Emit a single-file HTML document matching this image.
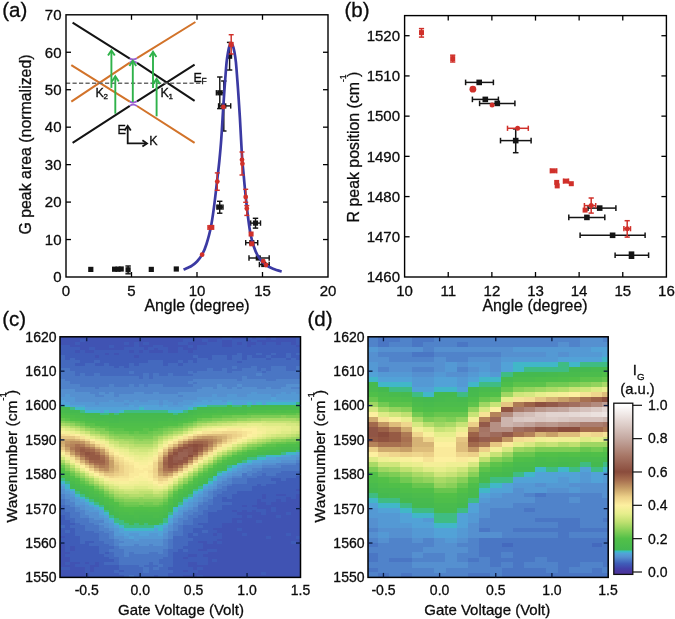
<!DOCTYPE html>
<html><head><meta charset="utf-8"><title>Figure</title>
<style>
html,body{margin:0;padding:0;background:#fff;}
svg{display:block;font-family:"Liberation Sans", Arial, Helvetica, sans-serif;fill:#0c0c0c;}
text{stroke:#0c0c0c;stroke-width:0.3px;}
</style></head><body>
<svg width="675" height="619" viewBox="0 0 675 619">
<rect width="675" height="619" fill="#fff"/>
<text x="2.2" y="16.6" font-size="20.5" text-anchor="start" >(a)</text>
<path d="M72.6 22.7 L129.8 58.6 M137 62.9 L194.6 100.8" stroke="#141414" stroke-width="2.05" fill="none"/>
<path d="M72.6 142.9 L129.8 105.8 M137 101.3 L194.6 64.6" stroke="#141414" stroke-width="2.05" fill="none"/>
<path d="M71.3 101.6 L129.8 62.6 M137 58.2 L195.4 22" stroke="#d2732a" stroke-width="2.05" fill="none"/>
<path d="M71.3 65.1 L129.8 101.6 M137 106 L194.6 142.9" stroke="#d2732a" stroke-width="2.05" fill="none"/>
<path d="M129.8 58.6 Q133.4 60.6 137 58.2 M129.8 62.6 Q133.4 60.4 137 62.9 M129.8 101.6 Q133.4 103.6 137 101.3 M129.8 105.8 Q133.4 103.4 137 106" stroke="#9b5fd0" stroke-width="1.9" fill="none"/>
<line x1="66.00" y1="83.20" x2="202.00" y2="83.20" stroke="#6a6a6a" stroke-width="1.4" stroke-dasharray="4.2 2.3"/>
<text x="193.5" y="81.5" font-size="12.5" text-anchor="start" >E</text>
<text x="201.5" y="84.0" font-size="8.5" text-anchor="start" >F</text>
<text x="95.5" y="96.5" font-size="12.5" text-anchor="start" >K</text>
<text x="103.6" y="98.5" font-size="8" text-anchor="start" >2</text>
<text x="160.5" y="96.5" font-size="12.5" text-anchor="start" >K</text>
<text x="168.6" y="98.5" font-size="8" text-anchor="start" >1</text>
<line x1="111.40" y1="87.90" x2="111.40" y2="51.40" stroke="#2fb24a" stroke-width="1.9" />
<path d="M108.0 55.6 L111.4 50.4 L114.8 55.6" stroke="#2fb24a" stroke-width="1.9" fill="none" stroke-linejoin="miter"/>
<line x1="115.30" y1="113.70" x2="115.30" y2="77.20" stroke="#2fb24a" stroke-width="1.9" />
<path d="M111.9 81.4 L115.3 76.2 L118.7 81.4" stroke="#2fb24a" stroke-width="1.9" fill="none" stroke-linejoin="miter"/>
<line x1="132.80" y1="102.00" x2="132.80" y2="61.70" stroke="#2fb24a" stroke-width="1.9" />
<path d="M129.4 65.9 L132.8 60.7 L136.2 65.9" stroke="#2fb24a" stroke-width="1.9" fill="none" stroke-linejoin="miter"/>
<line x1="153.00" y1="87.90" x2="153.00" y2="52.70" stroke="#2fb24a" stroke-width="1.9" />
<path d="M149.6 56.9 L153.0 51.7 L156.4 56.9" stroke="#2fb24a" stroke-width="1.9" fill="none" stroke-linejoin="miter"/>
<line x1="156.60" y1="116.30" x2="156.60" y2="79.80" stroke="#2fb24a" stroke-width="1.9" />
<path d="M153.2 84.0 L156.6 78.8 L160.0 84.0" stroke="#2fb24a" stroke-width="1.9" fill="none" stroke-linejoin="miter"/>
<path d="M127.7 126.5 L127.7 143.4 L146 143.4" stroke="#141414" stroke-width="1.8" fill="none"/>
<path d="M124.6 130.5 L127.7 125.8 L130.8 130.5" stroke="#141414" stroke-width="1.8" fill="none"/>
<path d="M142.4 140.3 L147 143.4 L142.4 146.5" stroke="#141414" stroke-width="1.8" fill="none"/>
<text x="117.5" y="134.0" font-size="12.5" text-anchor="start" >E</text>
<text x="149.3" y="145.3" font-size="12.5" text-anchor="start" >K</text>
<rect x="88.2" y="266.8" width="5.2" height="5.2" fill="#141414"/>
<rect x="112.0" y="266.6" width="5.2" height="5.2" fill="#141414"/>
<rect x="115.4" y="266.6" width="5.2" height="5.2" fill="#141414"/>
<rect x="118.6" y="266.4" width="5.2" height="5.2" fill="#141414"/>
<line x1="128.10" y1="266.00" x2="128.10" y2="273.80" stroke="#141414" stroke-width="1.45" />
<line x1="125.40" y1="266.00" x2="130.80" y2="266.00" stroke="#141414" stroke-width="1.45" />
<line x1="125.40" y1="273.80" x2="130.80" y2="273.80" stroke="#141414" stroke-width="1.45" />
<rect x="125.5" y="267.2" width="5.2" height="5.2" fill="#141414"/>
<rect x="148.7" y="266.8" width="5.2" height="5.2" fill="#141414"/>
<rect x="173.7" y="266.4" width="5.2" height="5.2" fill="#141414"/>
<line x1="229.60" y1="42.40" x2="229.60" y2="70.00" stroke="#141414" stroke-width="1.45" />
<line x1="226.90" y1="42.40" x2="232.30" y2="42.40" stroke="#141414" stroke-width="1.45" />
<line x1="226.90" y1="70.00" x2="232.30" y2="70.00" stroke="#141414" stroke-width="1.45" />
<rect x="227.0" y="53.6" width="5.2" height="5.2" fill="#141414"/>
<line x1="216.40" y1="92.80" x2="223.20" y2="92.80" stroke="#141414" stroke-width="1.45" />
<line x1="216.40" y1="90.10" x2="216.40" y2="95.50" stroke="#141414" stroke-width="1.45" />
<line x1="223.20" y1="90.10" x2="223.20" y2="95.50" stroke="#141414" stroke-width="1.45" />
<line x1="219.80" y1="77.00" x2="219.80" y2="108.60" stroke="#141414" stroke-width="1.45" />
<line x1="217.10" y1="77.00" x2="222.50" y2="77.00" stroke="#141414" stroke-width="1.45" />
<line x1="217.10" y1="108.60" x2="222.50" y2="108.60" stroke="#141414" stroke-width="1.45" />
<rect x="217.2" y="90.2" width="5.2" height="5.2" fill="#141414"/>
<line x1="218.60" y1="105.90" x2="230.70" y2="105.90" stroke="#141414" stroke-width="1.45" />
<line x1="218.60" y1="103.20" x2="218.60" y2="108.60" stroke="#141414" stroke-width="1.45" />
<line x1="230.70" y1="103.20" x2="230.70" y2="108.60" stroke="#141414" stroke-width="1.45" />
<line x1="223.80" y1="81.00" x2="223.80" y2="131.00" stroke="#141414" stroke-width="1.45" />
<line x1="221.10" y1="81.00" x2="226.50" y2="81.00" stroke="#141414" stroke-width="1.45" />
<line x1="221.10" y1="131.00" x2="226.50" y2="131.00" stroke="#141414" stroke-width="1.45" />
<rect x="221.2" y="103.3" width="5.2" height="5.2" fill="#141414"/>
<line x1="216.90" y1="207.10" x2="223.00" y2="207.10" stroke="#141414" stroke-width="1.45" />
<line x1="216.90" y1="204.40" x2="216.90" y2="209.80" stroke="#141414" stroke-width="1.45" />
<line x1="223.00" y1="204.40" x2="223.00" y2="209.80" stroke="#141414" stroke-width="1.45" />
<line x1="219.70" y1="201.30" x2="219.70" y2="213.20" stroke="#141414" stroke-width="1.45" />
<line x1="217.00" y1="201.30" x2="222.40" y2="201.30" stroke="#141414" stroke-width="1.45" />
<line x1="217.00" y1="213.20" x2="222.40" y2="213.20" stroke="#141414" stroke-width="1.45" />
<rect x="217.1" y="204.5" width="5.2" height="5.2" fill="#141414"/>
<line x1="250.70" y1="223.10" x2="260.50" y2="223.10" stroke="#141414" stroke-width="1.45" />
<line x1="250.70" y1="220.40" x2="250.70" y2="225.80" stroke="#141414" stroke-width="1.45" />
<line x1="260.50" y1="220.40" x2="260.50" y2="225.80" stroke="#141414" stroke-width="1.45" />
<line x1="255.50" y1="218.30" x2="255.50" y2="228.10" stroke="#141414" stroke-width="1.45" />
<line x1="252.80" y1="218.30" x2="258.20" y2="218.30" stroke="#141414" stroke-width="1.45" />
<line x1="252.80" y1="228.10" x2="258.20" y2="228.10" stroke="#141414" stroke-width="1.45" />
<rect x="252.9" y="220.5" width="5.2" height="5.2" fill="#141414"/>
<line x1="245.70" y1="242.70" x2="257.70" y2="242.70" stroke="#141414" stroke-width="1.45" />
<line x1="245.70" y1="240.00" x2="245.70" y2="245.40" stroke="#141414" stroke-width="1.45" />
<line x1="257.70" y1="240.00" x2="257.70" y2="245.40" stroke="#141414" stroke-width="1.45" />
<rect x="249.2" y="240.1" width="5.2" height="5.2" fill="#141414"/>
<line x1="249.00" y1="258.00" x2="269.20" y2="258.00" stroke="#141414" stroke-width="1.45" />
<line x1="249.00" y1="255.30" x2="249.00" y2="260.70" stroke="#141414" stroke-width="1.45" />
<line x1="269.20" y1="255.30" x2="269.20" y2="260.70" stroke="#141414" stroke-width="1.45" />
<rect x="255.7" y="255.4" width="5.2" height="5.2" fill="#141414"/>
<line x1="259.40" y1="264.50" x2="269.20" y2="264.50" stroke="#141414" stroke-width="1.45" />
<line x1="259.40" y1="261.80" x2="259.40" y2="267.20" stroke="#141414" stroke-width="1.45" />
<line x1="269.20" y1="261.80" x2="269.20" y2="267.20" stroke="#141414" stroke-width="1.45" />
<rect x="261.2" y="261.9" width="5.2" height="5.2" fill="#141414"/>
<path d="M183.5 269.6C184.2 269.3 186.6 268.5 188.0 267.8C189.4 267.1 190.5 266.7 192.0 265.6C193.5 264.6 195.3 263.3 197.0 261.5C198.7 259.7 200.5 257.6 202.1 254.7C203.7 251.8 205.1 248.6 206.5 244.0C207.9 239.4 209.6 233.6 210.8 227.4C212.1 221.2 213.0 214.4 214.0 207.0C215.0 199.6 216.0 190.4 216.9 182.7C217.8 174.9 218.7 167.6 219.4 160.5C220.1 153.4 220.7 147.1 221.2 140.0C221.7 132.9 222.2 124.7 222.6 117.9C223.0 111.1 223.4 105.5 223.8 99.3C224.2 93.1 224.6 87.0 225.1 80.8C225.6 74.6 226.1 66.9 226.6 62.2C227.1 57.6 227.4 55.5 227.9 52.9C228.4 50.3 228.8 48.0 229.3 46.5C229.9 45.0 230.6 43.6 231.2 43.6C231.8 43.6 232.5 45.0 233.1 46.5C233.7 48.0 234.1 50.3 234.6 52.9C235.1 55.5 235.4 57.6 235.9 62.2C236.4 66.9 236.9 74.6 237.4 80.8C237.9 87.0 238.3 93.1 238.7 99.3C239.1 105.5 239.5 111.1 239.9 117.9C240.3 124.7 240.7 132.9 241.1 140.0C241.5 147.1 241.9 155.2 242.3 160.5C242.7 165.8 242.9 166.5 243.4 172.0C243.9 177.5 244.6 186.1 245.4 193.6C246.2 201.1 247.1 210.1 248.0 217.0C248.9 223.9 249.7 230.1 250.7 235.1C251.7 240.1 252.9 243.7 254.0 247.0C255.1 250.3 255.9 252.4 257.2 254.7C258.4 257.0 260.0 259.2 261.5 261.0C263.0 262.8 264.1 263.9 266.0 265.2C267.9 266.5 270.4 267.8 273.0 268.8C275.6 269.9 280.2 271.1 281.7 271.5" stroke="#3b3aa3" stroke-width="2.7" fill="none" stroke-linejoin="round" stroke-linecap="butt"/>
<circle cx="202.1" cy="254.7" r="2.4" fill="#d0302a"/>
<line x1="208.00" y1="227.40" x2="213.60" y2="227.40" stroke="#d0302a" stroke-width="1.45" />
<line x1="208.00" y1="224.90" x2="208.00" y2="229.90" stroke="#d0302a" stroke-width="1.45" />
<line x1="213.60" y1="224.90" x2="213.60" y2="229.90" stroke="#d0302a" stroke-width="1.45" />
<rect x="208.3" y="224.9" width="5" height="5" fill="#d0302a"/>
<line x1="217.30" y1="172.90" x2="217.30" y2="190.30" stroke="#d0302a" stroke-width="1.45" />
<line x1="214.80" y1="172.90" x2="219.80" y2="172.90" stroke="#d0302a" stroke-width="1.45" />
<line x1="214.80" y1="190.30" x2="219.80" y2="190.30" stroke="#d0302a" stroke-width="1.45" />
<circle cx="217.3" cy="181.6" r="2.4" fill="#d0302a"/>
<circle cx="223.4" cy="107.0" r="2.4" fill="#d0302a"/>
<line x1="231.20" y1="34.70" x2="231.20" y2="54.00" stroke="#d0302a" stroke-width="1.45" />
<line x1="228.70" y1="34.70" x2="233.70" y2="34.70" stroke="#d0302a" stroke-width="1.45" />
<line x1="228.70" y1="54.00" x2="233.70" y2="54.00" stroke="#d0302a" stroke-width="1.45" />
<rect x="228.7" y="41.9" width="5" height="5" fill="#d0302a"/>
<line x1="242.00" y1="152.00" x2="242.00" y2="175.00" stroke="#d0302a" stroke-width="1.45" />
<line x1="239.50" y1="152.00" x2="244.50" y2="152.00" stroke="#d0302a" stroke-width="1.45" />
<line x1="239.50" y1="175.00" x2="244.50" y2="175.00" stroke="#d0302a" stroke-width="1.45" />
<circle cx="242.0" cy="159.8" r="2.4" fill="#d0302a"/>
<circle cx="242.4" cy="163.8" r="2.4" fill="#d0302a"/>
<line x1="245.70" y1="189.30" x2="245.70" y2="202.30" stroke="#d0302a" stroke-width="1.45" />
<line x1="243.20" y1="189.30" x2="248.20" y2="189.30" stroke="#d0302a" stroke-width="1.45" />
<line x1="243.20" y1="202.30" x2="248.20" y2="202.30" stroke="#d0302a" stroke-width="1.45" />
<circle cx="245.7" cy="196.9" r="2.4" fill="#d0302a"/>
<line x1="246.80" y1="205.60" x2="246.80" y2="215.40" stroke="#d0302a" stroke-width="1.45" />
<line x1="244.30" y1="205.60" x2="249.30" y2="205.60" stroke="#d0302a" stroke-width="1.45" />
<line x1="244.30" y1="215.40" x2="249.30" y2="215.40" stroke="#d0302a" stroke-width="1.45" />
<circle cx="246.8" cy="208.5" r="2.4" fill="#d0302a"/>
<rect x="248.6" y="231.5" width="5" height="5" fill="#d0302a"/>
<rect x="249.3" y="241.3" width="5" height="5" fill="#d0302a"/>
<circle cx="263.3" cy="261.2" r="2.4" fill="#d0302a"/>
<circle cx="266.0" cy="265.0" r="2.4" fill="#d0302a"/>
<rect x="66" y="14.8" width="262" height="262.2" fill="none" stroke="#000" stroke-width="1.4"/>
<line x1="131.50" y1="277.00" x2="131.50" y2="272.00" stroke="#000" stroke-width="1.3" />
<line x1="131.50" y1="14.80" x2="131.50" y2="19.80" stroke="#000" stroke-width="1.3" />
<line x1="197.00" y1="277.00" x2="197.00" y2="272.00" stroke="#000" stroke-width="1.3" />
<line x1="197.00" y1="14.80" x2="197.00" y2="19.80" stroke="#000" stroke-width="1.3" />
<line x1="262.50" y1="277.00" x2="262.50" y2="272.00" stroke="#000" stroke-width="1.3" />
<line x1="262.50" y1="14.80" x2="262.50" y2="19.80" stroke="#000" stroke-width="1.3" />
<line x1="66.00" y1="239.54" x2="71.00" y2="239.54" stroke="#000" stroke-width="1.3" />
<line x1="328.00" y1="239.54" x2="323.00" y2="239.54" stroke="#000" stroke-width="1.3" />
<line x1="66.00" y1="202.09" x2="71.00" y2="202.09" stroke="#000" stroke-width="1.3" />
<line x1="328.00" y1="202.09" x2="323.00" y2="202.09" stroke="#000" stroke-width="1.3" />
<line x1="66.00" y1="164.63" x2="71.00" y2="164.63" stroke="#000" stroke-width="1.3" />
<line x1="328.00" y1="164.63" x2="323.00" y2="164.63" stroke="#000" stroke-width="1.3" />
<line x1="66.00" y1="127.17" x2="71.00" y2="127.17" stroke="#000" stroke-width="1.3" />
<line x1="328.00" y1="127.17" x2="323.00" y2="127.17" stroke="#000" stroke-width="1.3" />
<line x1="66.00" y1="89.71" x2="71.00" y2="89.71" stroke="#000" stroke-width="1.3" />
<line x1="328.00" y1="89.71" x2="323.00" y2="89.71" stroke="#000" stroke-width="1.3" />
<line x1="66.00" y1="52.26" x2="71.00" y2="52.26" stroke="#000" stroke-width="1.3" />
<line x1="328.00" y1="52.26" x2="323.00" y2="52.26" stroke="#000" stroke-width="1.3" />
<text x="66.0" y="296.0" font-size="15" text-anchor="middle" >0</text>
<text x="131.5" y="296.0" font-size="15" text-anchor="middle" >5</text>
<text x="197.0" y="296.0" font-size="15" text-anchor="middle" >10</text>
<text x="262.5" y="296.0" font-size="15" text-anchor="middle" >15</text>
<text x="328.0" y="296.0" font-size="15" text-anchor="middle" >20</text>
<text x="61.5" y="282.2" font-size="15" text-anchor="end" >0</text>
<text x="61.5" y="244.7" font-size="15" text-anchor="end" >10</text>
<text x="61.5" y="207.3" font-size="15" text-anchor="end" >20</text>
<text x="61.5" y="169.8" font-size="15" text-anchor="end" >30</text>
<text x="61.5" y="132.4" font-size="15" text-anchor="end" >40</text>
<text x="61.5" y="94.9" font-size="15" text-anchor="end" >50</text>
<text x="61.5" y="57.5" font-size="15" text-anchor="end" >60</text>
<text x="61.5" y="20.0" font-size="15" text-anchor="end" >70</text>
<text x="197.0" y="311.2" font-size="15.9" text-anchor="middle" >Angle (degree)</text>
<text transform="translate(31.3,144.5) rotate(-90)" font-size="15.9" text-anchor="middle">G peak area (normalized)</text>
<text x="344.5" y="16.6" font-size="20.5" text-anchor="start" >(b)</text>
<line x1="465.60" y1="82.40" x2="493.40" y2="82.40" stroke="#141414" stroke-width="1.5" />
<line x1="465.60" y1="79.60" x2="465.60" y2="85.20" stroke="#141414" stroke-width="1.5" />
<line x1="493.40" y1="79.60" x2="493.40" y2="85.20" stroke="#141414" stroke-width="1.5" />
<rect x="476.4" y="79.6" width="5.6" height="5.6" fill="#141414"/>
<line x1="472.40" y1="99.40" x2="498.40" y2="99.40" stroke="#141414" stroke-width="1.5" />
<line x1="472.40" y1="96.60" x2="472.40" y2="102.20" stroke="#141414" stroke-width="1.5" />
<line x1="498.40" y1="96.60" x2="498.40" y2="102.20" stroke="#141414" stroke-width="1.5" />
<rect x="482.5" y="96.6" width="5.6" height="5.6" fill="#141414"/>
<line x1="479.60" y1="103.40" x2="514.90" y2="103.40" stroke="#141414" stroke-width="1.5" />
<line x1="479.60" y1="100.60" x2="479.60" y2="106.20" stroke="#141414" stroke-width="1.5" />
<line x1="514.90" y1="100.60" x2="514.90" y2="106.20" stroke="#141414" stroke-width="1.5" />
<rect x="494.5" y="100.6" width="5.6" height="5.6" fill="#141414"/>
<line x1="500.50" y1="140.60" x2="531.10" y2="140.60" stroke="#141414" stroke-width="1.5" />
<line x1="500.50" y1="137.80" x2="500.50" y2="143.40" stroke="#141414" stroke-width="1.5" />
<line x1="531.10" y1="137.80" x2="531.10" y2="143.40" stroke="#141414" stroke-width="1.5" />
<line x1="515.70" y1="128.90" x2="515.70" y2="152.70" stroke="#141414" stroke-width="1.5" />
<line x1="512.90" y1="128.90" x2="518.50" y2="128.90" stroke="#141414" stroke-width="1.5" />
<line x1="512.90" y1="152.70" x2="518.50" y2="152.70" stroke="#141414" stroke-width="1.5" />
<rect x="512.9" y="137.8" width="5.6" height="5.6" fill="#141414"/>
<line x1="588.00" y1="208.10" x2="615.90" y2="208.10" stroke="#141414" stroke-width="1.5" />
<line x1="588.00" y1="205.30" x2="588.00" y2="210.90" stroke="#141414" stroke-width="1.5" />
<line x1="615.90" y1="205.30" x2="615.90" y2="210.90" stroke="#141414" stroke-width="1.5" />
<rect x="596.9" y="205.3" width="5.6" height="5.6" fill="#141414"/>
<line x1="568.80" y1="217.40" x2="604.80" y2="217.40" stroke="#141414" stroke-width="1.5" />
<line x1="568.80" y1="214.60" x2="568.80" y2="220.20" stroke="#141414" stroke-width="1.5" />
<line x1="604.80" y1="214.60" x2="604.80" y2="220.20" stroke="#141414" stroke-width="1.5" />
<rect x="584.1" y="214.6" width="5.6" height="5.6" fill="#141414"/>
<line x1="580.10" y1="235.30" x2="645.10" y2="235.30" stroke="#141414" stroke-width="1.5" />
<line x1="580.10" y1="232.50" x2="580.10" y2="238.10" stroke="#141414" stroke-width="1.5" />
<line x1="645.10" y1="232.50" x2="645.10" y2="238.10" stroke="#141414" stroke-width="1.5" />
<rect x="609.8" y="232.5" width="5.6" height="5.6" fill="#141414"/>
<line x1="615.10" y1="255.20" x2="648.60" y2="255.20" stroke="#141414" stroke-width="1.5" />
<line x1="615.10" y1="252.40" x2="615.10" y2="258.00" stroke="#141414" stroke-width="1.5" />
<line x1="648.60" y1="252.40" x2="648.60" y2="258.00" stroke="#141414" stroke-width="1.5" />
<rect x="628.7" y="251.4" width="5.6" height="7.6" fill="#141414"/>
<line x1="421.50" y1="28.60" x2="421.50" y2="37.10" stroke="#d0302a" stroke-width="1.5" />
<line x1="418.90" y1="28.60" x2="424.10" y2="28.60" stroke="#d0302a" stroke-width="1.5" />
<line x1="418.90" y1="37.10" x2="424.10" y2="37.10" stroke="#d0302a" stroke-width="1.5" />
<rect x="419.0" y="30.1" width="5" height="5" fill="#d0302a"/>
<line x1="452.70" y1="55.20" x2="452.70" y2="62.00" stroke="#d0302a" stroke-width="1.5" />
<line x1="450.10" y1="55.20" x2="455.30" y2="55.20" stroke="#d0302a" stroke-width="1.5" />
<line x1="450.10" y1="62.00" x2="455.30" y2="62.00" stroke="#d0302a" stroke-width="1.5" />
<rect x="450.2" y="56.1" width="5" height="5" fill="#d0302a"/>
<circle cx="472.9" cy="89.2" r="3.4" fill="#d0302a"/>
<circle cx="492.1" cy="105.0" r="2.5" fill="#d0302a"/>
<line x1="507.50" y1="128.30" x2="528.30" y2="128.30" stroke="#d0302a" stroke-width="1.5" />
<line x1="507.50" y1="125.70" x2="507.50" y2="130.90" stroke="#d0302a" stroke-width="1.5" />
<line x1="528.30" y1="125.70" x2="528.30" y2="130.90" stroke="#d0302a" stroke-width="1.5" />
<circle cx="517.6" cy="128.3" r="2.5" fill="#d0302a"/>
<line x1="550.40" y1="170.80" x2="556.70" y2="170.80" stroke="#d0302a" stroke-width="1.5" />
<line x1="550.40" y1="168.20" x2="550.40" y2="173.40" stroke="#d0302a" stroke-width="1.5" />
<line x1="556.70" y1="168.20" x2="556.70" y2="173.40" stroke="#d0302a" stroke-width="1.5" />
<rect x="550.9" y="168.3" width="5" height="5" fill="#d0302a"/>
<rect x="554.2" y="179.9" width="5" height="5" fill="#d0302a"/>
<rect x="554.7" y="183.4" width="5" height="5" fill="#d0302a"/>
<line x1="563.50" y1="181.10" x2="568.50" y2="181.10" stroke="#d0302a" stroke-width="1.5" />
<line x1="563.50" y1="178.50" x2="563.50" y2="183.70" stroke="#d0302a" stroke-width="1.5" />
<line x1="568.50" y1="178.50" x2="568.50" y2="183.70" stroke="#d0302a" stroke-width="1.5" />
<rect x="563.5" y="178.6" width="5" height="5" fill="#d0302a"/>
<rect x="568.8" y="181.2" width="5" height="5" fill="#d0302a"/>
<rect x="582.6" y="207.6" width="5" height="5" fill="#d0302a"/>
<line x1="584.40" y1="205.60" x2="595.70" y2="205.60" stroke="#d0302a" stroke-width="1.5" />
<line x1="584.40" y1="203.00" x2="584.40" y2="208.20" stroke="#d0302a" stroke-width="1.5" />
<line x1="595.70" y1="203.00" x2="595.70" y2="208.20" stroke="#d0302a" stroke-width="1.5" />
<line x1="591.20" y1="198.00" x2="591.20" y2="213.10" stroke="#d0302a" stroke-width="1.5" />
<line x1="588.60" y1="198.00" x2="593.80" y2="198.00" stroke="#d0302a" stroke-width="1.5" />
<line x1="588.60" y1="213.10" x2="593.80" y2="213.10" stroke="#d0302a" stroke-width="1.5" />
<circle cx="591.2" cy="205.6" r="2.5" fill="#d0302a"/>
<line x1="623.90" y1="228.70" x2="630.50" y2="228.70" stroke="#d0302a" stroke-width="1.5" />
<line x1="623.90" y1="226.10" x2="623.90" y2="231.30" stroke="#d0302a" stroke-width="1.5" />
<line x1="630.50" y1="226.10" x2="630.50" y2="231.30" stroke="#d0302a" stroke-width="1.5" />
<line x1="627.20" y1="220.70" x2="627.20" y2="237.10" stroke="#d0302a" stroke-width="1.5" />
<line x1="624.60" y1="220.70" x2="629.80" y2="220.70" stroke="#d0302a" stroke-width="1.5" />
<line x1="624.60" y1="237.10" x2="629.80" y2="237.10" stroke="#d0302a" stroke-width="1.5" />
<circle cx="627.2" cy="228.7" r="2.5" fill="#d0302a"/>
<rect x="404.6" y="15.6" width="261.79999999999995" height="261.4" fill="none" stroke="#000" stroke-width="1.4"/>
<line x1="448.23" y1="277.00" x2="448.23" y2="272.00" stroke="#000" stroke-width="1.3" />
<line x1="448.23" y1="15.60" x2="448.23" y2="20.60" stroke="#000" stroke-width="1.3" />
<line x1="491.87" y1="277.00" x2="491.87" y2="272.00" stroke="#000" stroke-width="1.3" />
<line x1="491.87" y1="15.60" x2="491.87" y2="20.60" stroke="#000" stroke-width="1.3" />
<line x1="535.50" y1="277.00" x2="535.50" y2="272.00" stroke="#000" stroke-width="1.3" />
<line x1="535.50" y1="15.60" x2="535.50" y2="20.60" stroke="#000" stroke-width="1.3" />
<line x1="579.13" y1="277.00" x2="579.13" y2="272.00" stroke="#000" stroke-width="1.3" />
<line x1="579.13" y1="15.60" x2="579.13" y2="20.60" stroke="#000" stroke-width="1.3" />
<line x1="622.77" y1="277.00" x2="622.77" y2="272.00" stroke="#000" stroke-width="1.3" />
<line x1="622.77" y1="15.60" x2="622.77" y2="20.60" stroke="#000" stroke-width="1.3" />
<line x1="404.60" y1="236.78" x2="409.60" y2="236.78" stroke="#000" stroke-width="1.3" />
<line x1="666.40" y1="236.78" x2="661.40" y2="236.78" stroke="#000" stroke-width="1.3" />
<line x1="404.60" y1="196.57" x2="409.60" y2="196.57" stroke="#000" stroke-width="1.3" />
<line x1="666.40" y1="196.57" x2="661.40" y2="196.57" stroke="#000" stroke-width="1.3" />
<line x1="404.60" y1="156.35" x2="409.60" y2="156.35" stroke="#000" stroke-width="1.3" />
<line x1="666.40" y1="156.35" x2="661.40" y2="156.35" stroke="#000" stroke-width="1.3" />
<line x1="404.60" y1="116.14" x2="409.60" y2="116.14" stroke="#000" stroke-width="1.3" />
<line x1="666.40" y1="116.14" x2="661.40" y2="116.14" stroke="#000" stroke-width="1.3" />
<line x1="404.60" y1="75.92" x2="409.60" y2="75.92" stroke="#000" stroke-width="1.3" />
<line x1="666.40" y1="75.92" x2="661.40" y2="75.92" stroke="#000" stroke-width="1.3" />
<line x1="404.60" y1="35.71" x2="409.60" y2="35.71" stroke="#000" stroke-width="1.3" />
<line x1="666.40" y1="35.71" x2="661.40" y2="35.71" stroke="#000" stroke-width="1.3" />
<text x="404.6" y="296.0" font-size="15" text-anchor="middle" >10</text>
<text x="448.2" y="296.0" font-size="15" text-anchor="middle" >11</text>
<text x="491.9" y="296.0" font-size="15" text-anchor="middle" >12</text>
<text x="535.5" y="296.0" font-size="15" text-anchor="middle" >13</text>
<text x="579.1" y="296.0" font-size="15" text-anchor="middle" >14</text>
<text x="622.8" y="296.0" font-size="15" text-anchor="middle" >15</text>
<text x="666.4" y="296.0" font-size="15" text-anchor="middle" >16</text>
<text x="400.0" y="282.2" font-size="15" text-anchor="end" >1460</text>
<text x="400.0" y="242.0" font-size="15" text-anchor="end" >1470</text>
<text x="400.0" y="201.8" font-size="15" text-anchor="end" >1480</text>
<text x="400.0" y="161.6" font-size="15" text-anchor="end" >1490</text>
<text x="400.0" y="121.3" font-size="15" text-anchor="end" >1500</text>
<text x="400.0" y="81.1" font-size="15" text-anchor="end" >1510</text>
<text x="400.0" y="40.9" font-size="15" text-anchor="end" >1520</text>
<text x="535.0" y="311.2" font-size="15.9" text-anchor="middle" >Angle (degree)</text>
<text transform="translate(359,147) rotate(-90)" font-size="15.9" text-anchor="middle">R peak position (cm<tspan dy="-13.5" font-size="8.5">-1</tspan><tspan dy="13.5" dx="-2.5">)</tspan></text>
<g shape-rendering="crispEdges">
<path fill="#4053b3" d="M60.0 336.8H65.2V344.9H60.0zM60.0 535.6H65.2V538.5H60.0zM60.0 543.4H65.2V567.2H60.0zM60.0 569.6H65.2V577.7H60.0zM64.9 336.8H70.1V344.9H64.9zM64.9 551.2H70.1V554.2H64.9zM64.9 556.5H70.1V562.0H64.9zM64.9 564.3H70.1V567.2H64.9zM64.9 569.6H70.1V577.7H64.9zM69.8 336.8H75.0V347.6H69.8zM69.8 546.0H75.0V551.5H69.8zM69.8 561.7H75.0V577.7H69.8zM74.7 336.8H79.9V342.3H74.7zM74.7 344.6H79.9V347.6H74.7zM74.7 349.9H79.9V352.8H74.7zM74.7 561.7H79.9V564.6H74.7zM74.7 566.9H79.9V577.7H74.7zM79.6 336.8H84.8V339.7H79.6zM79.6 342.0H84.8V350.2H79.6zM79.6 566.9H84.8V577.7H79.6zM84.5 336.8H89.7V352.8H84.5zM84.5 561.7H89.7V564.6H84.5zM84.5 572.2H89.7V577.7H84.5zM89.4 336.8H94.7V347.6H89.4zM89.4 349.9H94.7V352.8H89.4zM89.4 564.3H94.7V572.5H89.4zM94.4 336.8H99.6V350.2H94.4zM94.4 355.1H99.6V358.0H94.4zM94.4 561.7H99.6V567.2H94.4zM99.3 336.8H104.5V350.2H99.3zM104.2 336.8H109.4V350.2H104.2zM104.2 352.5H109.4V355.4H104.2zM109.1 336.8H114.3V344.9H109.1zM109.1 347.3H114.3V350.2H109.1zM114.0 336.8H119.2V350.2H114.0zM114.0 352.5H119.2V355.4H114.0zM118.9 336.8H124.1V350.2H118.9zM123.8 336.8H129.0V342.3H123.8zM123.8 344.6H129.0V347.6H123.8zM128.7 336.8H133.9V347.6H128.7zM128.7 349.9H133.9V352.8H128.7zM133.6 336.8H138.8V342.3H133.6zM133.6 355.1H138.8V358.0H133.6zM138.5 336.8H143.7V347.6H138.5zM138.5 349.9H143.7V352.8H138.5zM143.4 336.8H148.6V342.3H143.4zM143.4 344.6H148.6V350.2H143.4zM148.3 336.8H153.6V347.6H148.3zM148.3 349.9H153.6V352.8H148.3zM153.3 336.8H158.5V344.9H153.3zM153.3 347.3H158.5V352.8H153.3zM158.2 336.8H163.4V344.9H158.2zM158.2 349.9H163.4V352.8H158.2zM163.1 336.8H168.3V347.6H163.1zM168.0 336.8H173.2V352.8H168.0zM172.9 336.8H178.1V352.8H172.9zM177.8 336.8H183.0V342.3H177.8zM177.8 344.6H183.0V347.6H177.8zM182.7 336.8H187.9V339.7H182.7zM182.7 344.6H187.9V350.2H182.7zM182.7 556.5H187.9V559.4H182.7zM182.7 569.6H187.9V572.5H182.7zM182.7 574.8H187.9V577.7H182.7zM187.6 336.8H192.8V339.7H187.6zM187.6 342.0H192.8V344.9H187.6zM187.6 347.3H192.8V352.8H187.6zM187.6 553.9H192.8V556.8H187.6zM187.6 561.7H192.8V567.2H187.6zM187.6 574.8H192.8V577.7H187.6zM192.5 336.8H197.7V350.2H192.5zM192.5 553.9H197.7V556.8H192.5zM192.5 561.7H197.7V569.9H192.5zM192.5 572.2H197.7V577.7H192.5zM197.4 336.8H202.6V344.9H197.4zM197.4 540.8H202.6V543.7H197.4zM197.4 548.6H202.6V551.5H197.4zM197.4 564.3H202.6V567.2H197.4zM197.4 569.6H202.6V575.1H197.4zM202.3 336.8H207.5V339.7H202.3zM202.3 342.0H207.5V344.9H202.3zM202.3 540.8H207.5V551.5H202.3zM202.3 553.9H207.5V556.8H202.3zM202.3 564.3H207.5V577.7H202.3zM207.2 336.8H212.5V342.3H207.2zM207.2 543.4H212.5V548.9H207.2zM207.2 551.2H212.5V577.7H207.2zM212.2 336.8H217.4V342.3H212.2zM212.2 527.7H217.4V530.6H212.2zM212.2 532.9H217.4V535.9H212.2zM212.2 540.8H217.4V548.9H212.2zM212.2 551.2H217.4V559.4H212.2zM212.2 561.7H217.4V577.7H212.2zM217.1 336.8H222.3V339.7H217.1zM217.1 527.7H222.3V533.2H217.1zM217.1 538.2H222.3V541.1H217.1zM217.1 543.4H222.3V577.7H217.1zM222.0 339.4H227.2V347.6H222.0zM222.0 522.5H227.2V577.7H222.0zM226.9 339.4H232.1V347.6H226.9zM226.9 522.5H232.1V577.7H226.9zM231.8 336.8H237.0V339.7H231.8zM231.8 509.4H237.0V512.3H231.8zM231.8 517.2H237.0V577.7H231.8zM236.7 336.8H241.9V339.7H236.7zM236.7 342.0H241.9V344.9H236.7zM236.7 512.0H241.9V514.9H236.7zM236.7 517.2H241.9V520.2H236.7zM236.7 522.5H241.9V528.0H236.7zM236.7 530.3H241.9V577.7H236.7zM241.6 336.8H246.8V339.7H241.6zM241.6 504.2H246.8V507.1H241.6zM241.6 509.4H246.8V533.2H241.6zM241.6 535.6H246.8V577.7H241.6zM246.5 339.4H251.7V347.6H246.5zM246.5 512.0H251.7V514.9H246.5zM246.5 517.2H251.7V577.7H246.5zM251.4 336.8H256.6V339.7H251.4zM251.4 342.0H256.6V344.9H251.4zM251.4 504.2H256.6V507.1H251.4zM251.4 509.4H256.6V577.7H251.4zM256.3 339.4H261.5V342.3H256.3zM256.3 498.9H261.5V509.7H256.3zM256.3 512.0H261.5V520.2H256.3zM256.3 522.5H261.5V577.7H256.3zM261.2 339.4H266.4V344.9H261.2zM261.2 493.7H266.4V499.2H261.2zM261.2 501.6H266.4V509.7H261.2zM261.2 514.6H266.4V572.5H261.2zM261.2 574.8H266.4V577.7H261.2zM266.1 336.8H271.4V342.3H266.1zM266.1 504.2H271.4V535.9H266.1zM266.1 538.2H271.4V577.7H266.1zM271.1 339.4H276.3V342.3H271.1zM271.1 501.6H276.3V507.1H271.1zM271.1 512.0H276.3V577.7H271.1zM276.0 336.8H281.2V344.9H276.0zM276.0 493.7H281.2V496.6H276.0zM276.0 498.9H281.2V514.9H276.0zM276.0 517.2H281.2V577.7H276.0zM280.9 336.8H286.1V342.3H280.9zM280.9 493.7H286.1V496.6H280.9zM280.9 501.6H286.1V577.7H280.9zM285.8 336.8H291.0V342.3H285.8zM285.8 496.3H291.0V512.3H285.8zM285.8 514.6H291.0V533.2H285.8zM285.8 535.6H291.0V577.7H285.8zM290.7 336.8H295.9V344.9H290.7zM290.7 498.9H295.9V541.1H290.7zM290.7 543.4H295.9V577.7H290.7zM295.6 344.6H300.8V347.6H295.6zM295.6 488.5H300.8V491.4H295.6zM295.6 493.7H300.8V535.9H295.6zM295.6 538.2H300.8V577.7H295.6z"/>
<path fill="#3f5cb8" d="M60.0 344.6H65.2V355.4H60.0zM60.0 514.6H65.2V525.4H60.0zM60.0 527.7H65.2V535.9H60.0zM60.0 538.2H65.2V543.7H60.0zM60.0 566.9H65.2V569.9H60.0zM64.9 344.6H70.1V360.6H64.9zM64.9 519.9H70.1V530.6H64.9zM64.9 532.9H70.1V551.5H64.9zM64.9 553.9H70.1V556.8H64.9zM64.9 561.7H70.1V564.6H64.9zM64.9 566.9H70.1V569.9H64.9zM69.8 347.3H75.0V358.0H69.8zM69.8 522.5H75.0V525.4H69.8zM69.8 527.7H75.0V546.3H69.8zM69.8 551.2H75.0V562.0H69.8zM74.7 342.0H79.9V344.9H74.7zM74.7 347.3H79.9V350.2H74.7zM74.7 352.5H79.9V360.6H74.7zM74.7 363.0H79.9V365.9H74.7zM74.7 535.6H79.9V562.0H74.7zM74.7 564.3H79.9V567.2H74.7zM79.6 339.4H84.8V342.3H79.6zM79.6 349.9H84.8V365.9H79.6zM79.6 543.4H84.8V567.2H79.6zM84.5 352.5H89.7V363.3H84.5zM84.5 540.8H89.7V562.0H84.5zM84.5 564.3H89.7V572.5H84.5zM89.4 347.3H94.7V350.2H89.4zM89.4 352.5H94.7V363.3H89.4zM89.4 540.8H94.7V543.7H89.4zM89.4 546.0H94.7V564.6H89.4zM89.4 572.2H94.7V577.7H89.4zM94.4 349.9H99.6V355.4H94.4zM94.4 357.7H99.6V360.6H94.4zM94.4 363.0H99.6V365.9H94.4zM94.4 546.0H99.6V562.0H94.4zM94.4 566.9H99.6V577.7H94.4zM99.3 349.9H104.5V365.9H99.3zM99.3 553.9H104.5V577.7H99.3zM104.2 349.9H109.4V352.8H104.2zM104.2 355.1H109.4V363.3H104.2zM104.2 551.2H109.4V554.2H104.2zM104.2 556.5H109.4V562.0H104.2zM104.2 564.3H109.4V577.7H104.2zM109.1 344.6H114.3V347.6H109.1zM109.1 349.9H114.3V365.9H109.1zM109.1 559.1H114.3V562.0H109.1zM109.1 564.3H114.3V577.7H109.1zM114.0 349.9H119.2V352.8H114.0zM114.0 355.1H119.2V368.5H114.0zM114.0 564.3H119.2V569.9H114.0zM114.0 572.2H119.2V577.7H114.0zM118.9 349.9H124.1V365.9H118.9zM118.9 569.6H124.1V572.5H118.9zM118.9 574.8H124.1V577.7H118.9zM123.8 342.0H129.0V344.9H123.8zM123.8 347.3H129.0V368.5H123.8zM128.7 347.3H133.9V350.2H128.7zM128.7 352.5H133.9V363.3H128.7zM133.6 342.0H138.8V355.4H133.6zM133.6 357.7H138.8V365.9H133.6zM138.5 347.3H143.7V350.2H138.5zM138.5 352.5H143.7V363.3H138.5zM143.4 342.0H148.6V344.9H143.4zM143.4 349.9H148.6V363.3H143.4zM148.3 347.3H153.6V350.2H148.3zM148.3 352.5H153.6V360.6H148.3zM153.3 344.6H158.5V347.6H153.3zM153.3 352.5H158.5V360.6H153.3zM153.3 574.8H158.5V577.7H153.3zM158.2 344.6H163.4V350.2H158.2zM158.2 352.5H163.4V360.6H158.2zM163.1 347.3H168.3V365.9H163.1zM168.0 352.5H173.2V363.3H168.0zM168.0 566.9H173.2V569.9H168.0zM168.0 572.2H173.2V577.7H168.0zM172.9 352.5H178.1V363.3H172.9zM172.9 551.2H178.1V577.7H172.9zM177.8 342.0H183.0V344.9H177.8zM177.8 347.3H183.0V360.6H177.8zM177.8 363.0H183.0V365.9H177.8zM177.8 548.6H183.0V577.7H177.8zM182.7 339.4H187.9V344.9H182.7zM182.7 349.9H187.9V363.3H182.7zM182.7 546.0H187.9V548.9H182.7zM182.7 551.2H187.9V556.8H182.7zM182.7 559.1H187.9V569.9H182.7zM182.7 572.2H187.9V575.1H182.7zM187.6 339.4H192.8V342.3H187.6zM187.6 344.6H192.8V347.6H187.6zM187.6 352.5H192.8V360.6H187.6zM187.6 532.9H192.8V538.5H187.6zM187.6 540.8H192.8V554.2H187.6zM187.6 556.5H192.8V562.0H187.6zM187.6 566.9H192.8V575.1H187.6zM192.5 349.9H197.7V355.4H192.5zM192.5 357.7H197.7V363.3H192.5zM192.5 527.7H197.7V533.2H192.5zM192.5 535.6H197.7V554.2H192.5zM192.5 556.5H197.7V562.0H192.5zM192.5 569.6H197.7V572.5H192.5zM197.4 344.6H202.6V358.0H197.4zM197.4 522.5H202.6V525.4H197.4zM197.4 527.7H202.6V541.1H197.4zM197.4 543.4H202.6V548.9H197.4zM197.4 551.2H202.6V564.6H197.4zM197.4 566.9H202.6V569.9H197.4zM197.4 574.8H202.6V577.7H197.4zM202.3 339.4H207.5V342.3H202.3zM202.3 344.6H207.5V358.0H202.3zM202.3 522.5H207.5V530.6H202.3zM202.3 532.9H207.5V541.1H202.3zM202.3 551.2H207.5V554.2H202.3zM202.3 556.5H207.5V564.6H202.3zM207.2 342.0H212.5V360.6H207.2zM207.2 512.0H212.5V543.7H207.2zM207.2 548.6H212.5V551.5H207.2zM212.2 342.0H217.4V355.4H212.2zM212.2 512.0H217.4V528.0H212.2zM212.2 530.3H217.4V533.2H212.2zM212.2 535.6H217.4V541.1H212.2zM212.2 548.6H217.4V551.5H212.2zM212.2 559.1H217.4V562.0H212.2zM217.1 339.4H222.3V355.4H217.1zM217.1 509.4H222.3V528.0H217.1zM217.1 532.9H222.3V538.5H217.1zM217.1 540.8H222.3V543.7H217.1zM222.0 336.8H227.2V339.7H222.0zM222.0 347.3H227.2V355.4H222.0zM222.0 496.3H227.2V501.9H222.0zM222.0 504.2H227.2V522.8H222.0zM226.9 336.8H232.1V339.7H226.9zM226.9 347.3H232.1V360.6H226.9zM226.9 498.9H232.1V501.9H226.9zM226.9 504.2H232.1V522.8H226.9zM231.8 339.4H237.0V355.4H231.8zM231.8 493.7H237.0V509.7H231.8zM231.8 512.0H237.0V517.5H231.8zM236.7 339.4H241.9V342.3H236.7zM236.7 344.6H241.9V352.8H236.7zM236.7 360.3H241.9V363.3H236.7zM236.7 491.1H241.9V512.3H236.7zM236.7 514.6H241.9V517.5H236.7zM236.7 519.9H241.9V522.8H236.7zM236.7 527.7H241.9V530.6H236.7zM241.6 339.4H246.8V360.6H241.6zM241.6 491.1H246.8V504.5H241.6zM241.6 506.8H246.8V509.7H241.6zM241.6 532.9H246.8V535.9H241.6zM246.5 336.8H251.7V339.7H246.5zM246.5 347.3H251.7V355.4H246.5zM246.5 491.1H251.7V512.3H246.5zM246.5 514.6H251.7V517.5H246.5zM251.4 339.4H256.6V342.3H251.4zM251.4 344.6H256.6V358.0H251.4zM251.4 485.9H256.6V504.5H251.4zM251.4 506.8H256.6V509.7H251.4zM256.3 336.8H261.5V339.7H256.3zM256.3 342.0H261.5V352.8H256.3zM256.3 355.1H261.5V358.0H256.3zM256.3 483.3H261.5V499.2H256.3zM256.3 509.4H261.5V512.3H256.3zM256.3 519.9H261.5V522.8H256.3zM261.2 336.8H266.4V339.7H261.2zM261.2 344.6H266.4V358.0H261.2zM261.2 485.9H266.4V494.0H261.2zM261.2 498.9H266.4V501.9H261.2zM261.2 509.4H266.4V514.9H261.2zM261.2 572.2H266.4V575.1H261.2zM266.1 342.0H271.4V355.4H266.1zM266.1 357.7H271.4V360.6H266.1zM266.1 483.3H271.4V504.5H266.1zM266.1 535.6H271.4V538.5H266.1zM271.1 336.8H276.3V339.7H271.1zM271.1 342.0H276.3V352.8H271.1zM271.1 355.1H276.3V358.0H271.1zM271.1 478.0H276.3V480.9H271.1zM271.1 483.3H276.3V501.9H271.1zM271.1 506.8H276.3V512.3H271.1zM276.0 344.6H281.2V358.0H276.0zM276.0 478.0H281.2V494.0H276.0zM276.0 496.3H281.2V499.2H276.0zM276.0 514.6H281.2V517.5H276.0zM280.9 342.0H286.1V358.0H280.9zM280.9 480.6H286.1V494.0H280.9zM280.9 496.3H286.1V501.9H280.9zM285.8 342.0H291.0V352.8H285.8zM285.8 357.7H291.0V360.6H285.8zM285.8 478.0H291.0V496.6H285.8zM285.8 512.0H291.0V514.9H285.8zM285.8 532.9H291.0V535.9H285.8zM290.7 344.6H295.9V358.0H290.7zM290.7 478.0H295.9V499.2H290.7zM290.7 540.8H295.9V543.7H290.7zM295.6 336.8H300.8V344.9H295.6zM295.6 347.3H300.8V352.8H295.6zM295.6 355.1H300.8V360.6H295.6zM295.6 475.4H300.8V488.8H295.6zM295.6 491.1H300.8V494.0H295.6zM295.6 535.6H300.8V538.5H295.6z"/>
<path fill="#4469be" d="M60.0 355.1H65.2V368.5H60.0zM60.0 504.2H65.2V514.9H60.0zM60.0 525.1H65.2V528.0H60.0zM64.9 360.3H70.1V368.5H64.9zM64.9 512.0H70.1V520.2H64.9zM64.9 530.3H70.1V533.2H64.9zM69.8 357.7H75.0V371.1H69.8zM69.8 517.2H75.0V522.8H69.8zM69.8 525.1H75.0V528.0H69.8zM74.7 360.3H79.9V363.3H74.7zM74.7 365.6H79.9V376.3H74.7zM74.7 522.5H79.9V535.9H74.7zM79.6 365.6H84.8V373.7H79.6zM79.6 525.1H84.8V543.7H79.6zM84.5 363.0H89.7V376.3H84.5zM84.5 530.3H89.7V541.1H84.5zM89.4 363.0H94.7V376.3H89.4zM89.4 530.3H94.7V541.1H89.4zM89.4 543.4H94.7V546.3H89.4zM94.4 360.3H99.6V363.3H94.4zM94.4 365.6H99.6V373.7H94.4zM94.4 532.9H99.6V546.3H94.4zM99.3 365.6H104.5V376.3H99.3zM99.3 540.8H104.5V554.2H99.3zM104.2 363.0H109.4V376.3H104.2zM104.2 543.4H109.4V551.5H104.2zM104.2 553.9H109.4V556.8H104.2zM104.2 561.7H109.4V564.6H104.2zM109.1 365.6H114.3V376.3H109.1zM109.1 546.0H114.3V548.9H109.1zM109.1 551.2H114.3V559.4H109.1zM109.1 561.7H114.3V564.6H109.1zM114.0 368.2H119.2V376.3H114.0zM114.0 556.5H119.2V564.6H114.0zM114.0 569.6H119.2V572.5H114.0zM118.9 365.6H124.1V376.3H118.9zM118.9 564.3H124.1V569.9H118.9zM118.9 572.2H124.1V575.1H118.9zM123.8 368.2H129.0V376.3H123.8zM123.8 564.3H129.0V577.7H123.8zM128.7 363.0H133.9V371.1H128.7zM128.7 373.4H133.9V376.3H128.7zM128.7 564.3H133.9V575.1H128.7zM133.6 365.6H138.8V376.3H133.6zM133.6 564.3H138.8V577.7H133.6zM138.5 363.0H143.7V378.9H138.5zM138.5 566.9H143.7V577.7H138.5zM143.4 363.0H148.6V373.7H143.4zM143.4 564.3H148.6V567.2H143.4zM143.4 572.2H148.6V577.7H143.4zM148.3 360.3H153.6V378.9H148.3zM148.3 561.7H153.6V577.7H148.3zM153.3 360.3H158.5V373.7H153.3zM153.3 564.3H158.5V567.2H153.3zM153.3 569.6H158.5V575.1H153.3zM158.2 360.3H163.4V376.3H158.2zM158.2 559.1H163.4V564.6H158.2zM158.2 566.9H163.4V577.7H158.2zM163.1 365.6H168.3V376.3H163.1zM163.1 556.5H168.3V577.7H163.1zM168.0 363.0H173.2V373.7H168.0zM168.0 548.6H173.2V567.2H168.0zM168.0 569.6H173.2V572.5H168.0zM172.9 363.0H178.1V376.3H172.9zM172.9 535.6H178.1V551.5H172.9zM177.8 360.3H183.0V363.3H177.8zM177.8 365.6H183.0V376.3H177.8zM177.8 535.6H183.0V548.9H177.8zM182.7 363.0H187.9V376.3H182.7zM182.7 525.1H187.9V546.3H182.7zM182.7 548.6H187.9V551.5H182.7zM187.6 360.3H192.8V371.1H187.6zM187.6 373.4H192.8V376.3H187.6zM187.6 525.1H192.8V533.2H187.6zM187.6 538.2H192.8V541.1H187.6zM192.5 355.1H197.7V358.0H192.5zM192.5 363.0H197.7V373.7H192.5zM192.5 517.2H197.7V528.0H192.5zM192.5 532.9H197.7V535.9H192.5zM197.4 357.7H202.6V371.1H197.4zM197.4 514.6H202.6V522.8H197.4zM197.4 525.1H202.6V528.0H197.4zM202.3 357.7H207.5V371.1H202.3zM202.3 509.4H207.5V522.8H202.3zM202.3 530.3H207.5V533.2H202.3zM207.2 360.3H212.5V368.5H207.2zM207.2 504.2H212.5V512.3H207.2zM212.2 355.1H217.4V371.1H212.2zM212.2 496.3H217.4V512.3H212.2zM217.1 355.1H222.3V371.1H217.1zM217.1 493.7H222.3V509.7H217.1zM222.0 355.1H227.2V368.5H222.0zM222.0 491.1H227.2V496.6H222.0zM222.0 501.6H227.2V504.5H222.0zM226.9 360.3H232.1V373.7H226.9zM226.9 485.9H232.1V499.2H226.9zM226.9 501.6H232.1V504.5H226.9zM231.8 355.1H237.0V365.9H231.8zM231.8 368.2H237.0V371.1H231.8zM231.8 483.3H237.0V494.0H231.8zM236.7 352.5H241.9V360.6H236.7zM236.7 363.0H241.9V371.1H236.7zM236.7 483.3H241.9V491.4H236.7zM241.6 360.3H246.8V368.5H241.6zM241.6 483.3H246.8V491.4H241.6zM246.5 355.1H251.7V368.5H246.5zM246.5 478.0H251.7V491.4H246.5zM251.4 357.7H256.6V365.9H251.4zM251.4 478.0H256.6V486.2H251.4zM256.3 352.5H261.5V355.4H256.3zM256.3 357.7H261.5V371.1H256.3zM256.3 475.4H261.5V483.6H256.3zM261.2 357.7H266.4V368.5H261.2zM261.2 370.8H266.4V373.7H261.2zM261.2 472.8H266.4V486.2H261.2zM266.1 355.1H271.4V358.0H266.1zM266.1 360.3H271.4V371.1H266.1zM266.1 475.4H271.4V483.6H266.1zM271.1 352.5H276.3V355.4H271.1zM271.1 357.7H276.3V365.9H271.1zM271.1 475.4H276.3V478.3H271.1zM271.1 480.6H276.3V483.6H271.1zM276.0 357.7H281.2V365.9H276.0zM276.0 472.8H281.2V478.3H276.0zM280.9 357.7H286.1V365.9H280.9zM280.9 470.2H286.1V480.9H280.9zM285.8 352.5H291.0V358.0H285.8zM285.8 360.3H291.0V371.1H285.8zM285.8 470.2H291.0V478.3H285.8zM290.7 357.7H295.9V371.1H290.7zM290.7 470.2H295.9V478.3H290.7zM295.6 352.5H300.8V355.4H295.6zM295.6 360.3H300.8V365.9H295.6zM295.6 470.2H300.8V475.7H295.6z"/>
<path fill="#4a76c4" d="M60.0 368.2H65.2V378.9H60.0zM60.0 498.9H65.2V504.5H60.0zM64.9 368.2H70.1V381.6H64.9zM64.9 504.2H70.1V512.3H64.9zM69.8 370.8H75.0V384.2H69.8zM69.8 506.8H75.0V517.5H69.8zM74.7 376.0H79.9V384.2H74.7zM74.7 512.0H79.9V522.8H74.7zM79.6 373.4H84.8V386.8H79.6zM79.6 517.2H84.8V525.4H79.6zM84.5 376.0H89.7V386.8H84.5zM84.5 517.2H89.7V530.6H84.5zM89.4 376.0H94.7V386.8H89.4zM89.4 522.5H94.7V530.6H89.4zM94.4 373.4H99.6V389.4H94.4zM94.4 525.1H99.6V533.2H94.4zM99.3 376.0H104.5V386.8H99.3zM99.3 530.3H104.5V541.1H99.3zM104.2 376.0H109.4V386.8H104.2zM104.2 532.9H109.4V543.7H104.2zM109.1 376.0H114.3V384.2H109.1zM109.1 538.2H114.3V546.3H109.1zM109.1 548.6H114.3V551.5H109.1zM114.0 376.0H119.2V386.8H114.0zM114.0 546.0H119.2V556.8H114.0zM118.9 376.0H124.1V386.8H118.9zM118.9 548.6H124.1V564.6H118.9zM123.8 376.0H129.0V386.8H123.8zM123.8 556.5H129.0V564.6H123.8zM128.7 370.8H133.9V373.7H128.7zM128.7 376.0H133.9V384.2H128.7zM128.7 551.2H133.9V564.6H128.7zM128.7 574.8H133.9V577.7H128.7zM133.6 376.0H138.8V386.8H133.6zM133.6 553.9H138.8V564.6H133.6zM138.5 378.6H143.7V384.2H138.5zM138.5 553.9H143.7V567.2H138.5zM143.4 373.4H148.6V386.8H143.4zM143.4 553.9H148.6V564.6H143.4zM143.4 566.9H148.6V572.5H143.4zM148.3 378.6H153.6V384.2H148.3zM148.3 551.2H153.6V562.0H148.3zM153.3 373.4H158.5V384.2H153.3zM153.3 551.2H158.5V564.6H153.3zM153.3 566.9H158.5V569.9H153.3zM158.2 376.0H163.4V384.2H158.2zM158.2 553.9H163.4V559.4H158.2zM158.2 564.3H163.4V567.2H158.2zM163.1 376.0H168.3V386.8H163.1zM163.1 548.6H168.3V556.8H163.1zM168.0 373.4H173.2V386.8H168.0zM168.0 538.2H173.2V548.9H168.0zM172.9 376.0H178.1V386.8H172.9zM172.9 530.3H178.1V535.9H172.9zM177.8 376.0H183.0V386.8H177.8zM177.8 525.1H183.0V535.9H177.8zM182.7 376.0H187.9V386.8H182.7zM182.7 519.9H187.9V525.4H182.7zM187.6 370.8H192.8V373.7H187.6zM187.6 376.0H192.8V381.6H187.6zM187.6 383.9H192.8V386.8H187.6zM187.6 514.6H192.8V525.4H187.6zM192.5 373.4H197.7V378.9H192.5zM192.5 381.3H197.7V384.2H192.5zM192.5 512.0H197.7V517.5H192.5zM197.4 370.8H202.6V378.9H197.4zM197.4 504.2H202.6V514.9H197.4zM202.3 370.8H207.5V378.9H202.3zM202.3 501.6H207.5V509.7H202.3zM207.2 368.2H212.5V378.9H207.2zM207.2 498.9H212.5V504.5H207.2zM212.2 370.8H217.4V378.9H212.2zM212.2 491.1H217.4V496.6H212.2zM217.1 370.8H222.3V378.9H217.1zM217.1 488.5H222.3V494.0H217.1zM222.0 368.2H227.2V378.9H222.0zM222.0 485.9H227.2V491.4H222.0zM226.9 373.4H232.1V378.9H226.9zM226.9 483.3H232.1V486.2H226.9zM231.8 365.6H237.0V368.5H231.8zM231.8 370.8H237.0V378.9H231.8zM231.8 478.0H237.0V483.6H231.8zM236.7 370.8H241.9V381.6H236.7zM236.7 478.0H241.9V483.6H236.7zM241.6 368.2H246.8V376.3H241.6zM241.6 472.8H246.8V483.6H241.6zM246.5 368.2H251.7V378.9H246.5zM246.5 475.4H251.7V478.3H246.5zM251.4 365.6H256.6V378.9H251.4zM251.4 472.8H256.6V478.3H251.4zM256.3 370.8H261.5V373.7H256.3zM256.3 376.0H261.5V378.9H256.3zM256.3 470.2H261.5V475.7H256.3zM261.2 368.2H266.4V371.1H261.2zM261.2 373.4H266.4V378.9H261.2zM261.2 467.6H266.4V473.1H261.2zM266.1 370.8H271.4V381.6H266.1zM266.1 467.6H271.4V475.7H266.1zM271.1 365.6H276.3V381.6H271.1zM271.1 467.6H276.3V475.7H271.1zM276.0 365.6H281.2V378.9H276.0zM276.0 467.6H281.2V473.1H276.0zM280.9 365.6H286.1V378.9H280.9zM280.9 464.9H286.1V470.5H280.9zM285.8 370.8H291.0V378.9H285.8zM285.8 464.9H291.0V470.5H285.8zM290.7 370.8H295.9V378.9H290.7zM290.7 464.9H295.9V470.5H290.7zM295.6 365.6H300.8V378.9H295.6zM295.6 462.3H300.8V470.5H295.6z"/>
<path fill="#5083ca" d="M60.0 378.6H65.2V389.4H60.0zM60.0 493.7H65.2V499.2H60.0zM64.9 381.3H70.1V389.4H64.9zM64.9 498.9H70.1V504.5H64.9zM69.8 383.9H75.0V389.4H69.8zM69.8 501.6H75.0V507.1H69.8zM74.7 383.9H79.9V392.0H74.7zM74.7 506.8H79.9V512.3H74.7zM79.6 386.5H84.8V392.0H79.6zM79.6 509.4H84.8V517.5H79.6zM84.5 386.5H89.7V392.0H84.5zM84.5 514.6H89.7V517.5H84.5zM89.4 386.5H94.7V394.6H89.4zM89.4 517.2H94.7V522.8H89.4zM94.4 389.1H99.6V397.2H94.4zM94.4 519.9H99.6V525.4H94.4zM99.3 386.5H104.5V392.0H99.3zM99.3 394.3H104.5V397.2H99.3zM99.3 519.9H104.5V522.8H99.3zM99.3 525.1H104.5V530.6H99.3zM104.2 386.5H109.4V394.6H104.2zM104.2 527.7H109.4V533.2H104.2zM109.1 383.9H114.3V392.0H109.1zM109.1 530.3H114.3V538.5H109.1zM114.0 386.5H119.2V397.2H114.0zM114.0 538.2H119.2V546.3H114.0zM118.9 386.5H124.1V394.6H118.9zM118.9 540.8H124.1V543.7H118.9zM118.9 546.0H124.1V548.9H118.9zM123.8 386.5H129.0V394.6H123.8zM123.8 546.0H129.0V556.8H123.8zM128.7 383.9H133.9V394.6H128.7zM128.7 546.0H133.9V551.5H128.7zM133.6 386.5H138.8V392.0H133.6zM133.6 543.4H138.8V554.2H133.6zM138.5 383.9H143.7V392.0H138.5zM138.5 546.0H143.7V554.2H138.5zM143.4 386.5H148.6V394.6H143.4zM143.4 546.0H148.6V554.2H143.4zM148.3 383.9H153.6V394.6H148.3zM148.3 543.4H153.6V551.5H148.3zM153.3 383.9H158.5V392.0H153.3zM153.3 546.0H158.5V551.5H153.3zM158.2 383.9H163.4V394.6H158.2zM158.2 546.0H163.4V554.2H158.2zM163.1 386.5H168.3V394.6H163.1zM163.1 538.2H168.3V548.9H163.1zM168.0 386.5H173.2V394.6H168.0zM168.0 530.3H173.2V538.5H168.0zM172.9 386.5H178.1V394.6H172.9zM172.9 522.5H178.1V530.6H172.9zM177.8 386.5H183.0V392.0H177.8zM177.8 394.3H183.0V397.2H177.8zM177.8 517.2H183.0V525.4H177.8zM182.7 386.5H187.9V392.0H182.7zM182.7 512.0H187.9V520.2H182.7zM187.6 381.3H192.8V384.2H187.6zM187.6 386.5H192.8V392.0H187.6zM187.6 509.4H192.8V514.9H187.6zM192.5 378.6H197.7V381.6H192.5zM192.5 383.9H197.7V392.0H192.5zM192.5 506.8H197.7V512.3H192.5zM197.4 378.6H202.6V389.4H197.4zM197.4 501.6H202.6V504.5H197.4zM202.3 378.6H207.5V386.8H202.3zM202.3 496.3H207.5V501.9H202.3zM207.2 378.6H212.5V386.8H207.2zM207.2 491.1H212.5V499.2H207.2zM212.2 378.6H217.4V389.4H212.2zM212.2 488.5H217.4V491.4H212.2zM217.1 378.6H222.3V384.2H217.1zM217.1 483.3H222.3V488.8H217.1zM222.0 378.6H227.2V386.8H222.0zM222.0 480.6H227.2V486.2H222.0zM226.9 378.6H232.1V389.4H226.9zM226.9 478.0H232.1V483.6H226.9zM231.8 378.6H237.0V386.8H231.8zM231.8 475.4H237.0V478.3H231.8zM236.7 381.3H241.9V384.2H236.7zM236.7 386.5H241.9V389.4H236.7zM236.7 475.4H241.9V478.3H236.7zM241.6 376.0H246.8V386.8H241.6zM246.5 378.6H251.7V386.8H246.5zM246.5 470.2H251.7V475.7H246.5zM251.4 378.6H256.6V386.8H251.4zM251.4 467.6H256.6V473.1H251.4zM256.3 373.4H261.5V376.3H256.3zM256.3 378.6H261.5V389.4H256.3zM256.3 467.6H261.5V470.5H256.3zM261.2 378.6H266.4V389.4H261.2zM261.2 464.9H266.4V467.9H261.2zM266.1 381.3H271.4V386.8H266.1zM266.1 464.9H271.4V467.9H266.1zM271.1 381.3H276.3V389.4H271.1zM271.1 464.9H276.3V467.9H271.1zM276.0 378.6H281.2V389.4H276.0zM276.0 462.3H281.2V467.9H276.0zM280.9 378.6H286.1V386.8H280.9zM280.9 462.3H286.1V465.2H280.9zM285.8 378.6H291.0V384.2H285.8zM285.8 462.3H291.0V465.2H285.8zM290.7 378.6H295.9V384.2H290.7zM290.7 386.5H295.9V389.4H290.7zM290.7 462.3H295.9V465.2H290.7zM295.6 378.6H300.8V384.2H295.6zM295.6 386.5H300.8V389.4H295.6zM295.6 459.7H300.8V462.6H295.6z"/>
<path fill="#5590d0" d="M60.0 389.1H65.2V397.2H60.0zM60.0 488.5H65.2V494.0H60.0zM64.9 389.1H70.1V394.6H64.9zM64.9 493.7H70.1V499.2H64.9zM69.8 389.1H75.0V397.2H69.8zM69.8 496.3H75.0V501.9H69.8zM74.7 391.7H79.9V402.5H74.7zM74.7 504.2H79.9V507.1H74.7zM79.6 391.7H84.8V402.5H79.6zM79.6 504.2H84.8V509.7H79.6zM84.5 391.7H89.7V402.5H84.5zM84.5 509.4H89.7V514.9H84.5zM89.4 394.3H94.7V402.5H89.4zM89.4 512.0H94.7V517.5H89.4zM94.4 396.9H99.6V405.1H94.4zM94.4 512.0H99.6V520.2H94.4zM99.3 391.7H104.5V394.6H99.3zM99.3 396.9H104.5V402.5H99.3zM99.3 517.2H104.5V520.2H99.3zM99.3 522.5H104.5V525.4H99.3zM104.2 394.3H109.4V402.5H104.2zM104.2 522.5H109.4V528.0H104.2zM109.1 391.7H114.3V399.9H109.1zM109.1 527.7H114.3V530.6H109.1zM114.0 396.9H119.2V402.5H114.0zM114.0 535.6H119.2V538.5H114.0zM118.9 394.3H124.1V402.5H118.9zM118.9 535.6H124.1V541.1H118.9zM118.9 543.4H124.1V546.3H118.9zM123.8 394.3H129.0V399.9H123.8zM123.8 402.2H129.0V405.1H123.8zM123.8 538.2H129.0V546.3H123.8zM128.7 394.3H133.9V402.5H128.7zM128.7 538.2H133.9V546.3H128.7zM133.6 391.7H138.8V399.9H133.6zM133.6 540.8H138.8V543.7H133.6zM138.5 391.7H143.7V402.5H138.5zM138.5 538.2H143.7V546.3H138.5zM143.4 394.3H148.6V402.5H143.4zM143.4 538.2H148.6V546.3H143.4zM148.3 394.3H153.6V399.9H148.3zM148.3 538.2H153.6V543.7H148.3zM153.3 391.7H158.5V399.9H153.3zM153.3 538.2H158.5V546.3H153.3zM158.2 394.3H163.4V405.1H158.2zM158.2 538.2H163.4V546.3H158.2zM163.1 394.3H168.3V399.9H163.1zM163.1 532.9H168.3V538.5H163.1zM168.0 394.3H173.2V402.5H168.0zM168.0 525.1H173.2V530.6H168.0zM172.9 394.3H178.1V405.1H172.9zM172.9 517.2H178.1V522.8H172.9zM177.8 391.7H183.0V394.6H177.8zM177.8 396.9H183.0V402.5H177.8zM177.8 514.6H183.0V517.5H177.8zM182.7 391.7H187.9V399.9H182.7zM182.7 509.4H187.9V512.3H182.7zM187.6 391.7H192.8V399.9H187.6zM187.6 506.8H192.8V509.7H187.6zM192.5 391.7H197.7V399.9H192.5zM192.5 501.6H197.7V507.1H192.5zM197.4 389.1H202.6V397.2H197.4zM197.4 496.3H202.6V501.9H197.4zM202.3 386.5H207.5V397.2H202.3zM202.3 491.1H207.5V496.6H202.3zM207.2 386.5H212.5V397.2H207.2zM207.2 488.5H212.5V491.4H207.2zM212.2 389.1H217.4V394.6H212.2zM212.2 485.9H217.4V488.8H212.2zM217.1 383.9H222.3V397.2H217.1zM217.1 480.6H222.3V483.6H217.1zM222.0 386.5H227.2V397.2H222.0zM222.0 478.0H227.2V480.9H222.0zM226.9 389.1H232.1V394.6H226.9zM226.9 475.4H232.1V478.3H226.9zM231.8 386.5H237.0V394.6H231.8zM231.8 472.8H237.0V475.7H231.8zM236.7 383.9H241.9V386.8H236.7zM236.7 389.1H241.9V397.2H236.7zM236.7 470.2H241.9V475.7H236.7zM241.6 386.5H246.8V397.2H241.6zM241.6 467.6H246.8V473.1H241.6zM246.5 386.5H251.7V394.6H246.5zM246.5 464.9H251.7V470.5H246.5zM251.4 386.5H256.6V392.0H251.4zM251.4 464.9H256.6V467.9H251.4zM256.3 389.1H261.5V394.6H256.3zM256.3 464.9H261.5V467.9H256.3zM261.2 389.1H266.4V394.6H261.2zM261.2 462.3H266.4V465.2H261.2zM266.1 386.5H271.4V394.6H266.1zM266.1 462.3H271.4V465.2H266.1zM271.1 389.1H276.3V397.2H271.1zM271.1 462.3H276.3V465.2H271.1zM276.0 389.1H281.2V394.6H276.0zM280.9 386.5H286.1V392.0H280.9zM280.9 459.7H286.1V462.6H280.9zM285.8 383.9H291.0V394.6H285.8zM285.8 459.7H291.0V462.6H285.8zM290.7 383.9H295.9V386.8H290.7zM290.7 389.1H295.9V392.0H290.7zM290.7 459.7H295.9V462.6H290.7zM295.6 383.9H300.8V386.8H295.6zM295.6 389.1H300.8V394.6H295.6zM295.6 457.1H300.8V460.0H295.6z"/>
<path fill="#5499d4" d="M60.0 396.9H65.2V399.9H60.0zM60.0 485.9H65.2V488.8H60.0zM64.9 394.3H70.1V402.5H64.9zM64.9 491.1H70.1V494.0H64.9zM69.8 396.9H75.0V405.1H69.8zM69.8 493.7H75.0V496.6H69.8zM74.7 402.2H79.9V405.1H74.7zM74.7 498.9H79.9V504.5H74.7zM79.6 402.2H84.8V405.1H79.6zM79.6 501.6H84.8V504.5H79.6zM84.5 402.2H89.7V407.7H84.5zM84.5 504.2H89.7V509.7H84.5zM89.4 402.2H94.7V407.7H89.4zM89.4 506.8H94.7V512.3H89.4zM94.4 404.8H99.6V407.7H94.4zM94.4 509.4H99.6V512.3H94.4zM99.3 402.2H104.5V407.7H99.3zM99.3 514.6H104.5V517.5H99.3zM104.2 402.2H109.4V407.7H104.2zM104.2 517.2H109.4V522.8H104.2zM109.1 399.6H114.3V407.7H109.1zM109.1 522.5H114.3V528.0H109.1zM114.0 402.2H119.2V407.7H114.0zM114.0 527.7H119.2V535.9H114.0zM118.9 402.2H124.1V407.7H118.9zM118.9 532.9H124.1V535.9H118.9zM123.8 399.6H129.0V402.5H123.8zM123.8 404.8H129.0V407.7H123.8zM123.8 535.6H129.0V538.5H123.8zM128.7 402.2H133.9V405.1H128.7zM128.7 532.9H133.9V535.9H128.7zM133.6 399.6H138.8V407.7H133.6zM133.6 532.9H138.8V541.1H133.6zM138.5 402.2H143.7V405.1H138.5zM138.5 535.6H143.7V538.5H138.5zM143.4 402.2H148.6V405.1H143.4zM143.4 535.6H148.6V538.5H143.4zM148.3 399.6H153.6V405.1H148.3zM148.3 532.9H153.6V538.5H148.3zM153.3 399.6H158.5V405.1H153.3zM153.3 532.9H158.5V538.5H153.3zM158.2 404.8H163.4V407.7H158.2zM158.2 535.6H163.4V538.5H158.2zM163.1 399.6H168.3V405.1H163.1zM163.1 527.7H168.3V533.2H163.1zM168.0 402.2H173.2V407.7H168.0zM168.0 522.5H173.2V525.4H168.0zM172.9 404.8H178.1V407.7H172.9zM172.9 514.6H178.1V517.5H172.9zM177.8 402.2H183.0V407.7H177.8zM177.8 509.4H183.0V514.9H177.8zM182.7 399.6H187.9V405.1H182.7zM182.7 506.8H187.9V509.7H182.7zM187.6 399.6H192.8V405.1H187.6zM187.6 501.6H192.8V507.1H187.6zM192.5 399.6H197.7V402.5H192.5zM192.5 496.3H197.7V501.9H192.5zM197.4 396.9H202.6V402.5H197.4zM197.4 493.7H202.6V496.6H197.4zM202.3 396.9H207.5V399.9H202.3zM202.3 488.5H207.5V491.4H202.3zM207.2 396.9H212.5V402.5H207.2zM207.2 485.9H212.5V488.8H207.2zM212.2 394.3H217.4V399.9H212.2zM212.2 480.6H217.4V486.2H212.2zM217.1 396.9H222.3V399.9H217.1zM217.1 475.4H222.3V480.9H217.1zM222.0 396.9H227.2V402.5H222.0zM222.0 475.4H227.2V478.3H222.0zM226.9 394.3H232.1V399.9H226.9zM226.9 472.8H232.1V475.7H226.9zM231.8 394.3H237.0V399.9H231.8zM231.8 470.2H237.0V473.1H231.8zM236.7 396.9H241.9V399.9H236.7zM236.7 467.6H241.9V470.5H236.7zM241.6 396.9H246.8V399.9H241.6zM241.6 464.9H246.8V467.9H241.6zM246.5 394.3H251.7V399.9H246.5zM251.4 391.7H256.6V399.9H251.4zM251.4 462.3H256.6V465.2H251.4zM256.3 394.3H261.5V399.9H256.3zM256.3 462.3H261.5V465.2H256.3zM261.2 394.3H266.4V399.9H261.2zM261.2 459.7H266.4V462.6H261.2zM266.1 394.3H271.4V399.9H266.1zM266.1 459.7H271.4V462.6H266.1zM271.1 459.7H276.3V462.6H271.1zM276.0 394.3H281.2V399.9H276.0zM276.0 457.1H281.2V462.6H276.0zM280.9 391.7H286.1V399.9H280.9zM280.9 457.1H286.1V460.0H280.9zM285.8 394.3H291.0V399.9H285.8zM285.8 457.1H291.0V460.0H285.8zM290.7 391.7H295.9V399.9H290.7zM290.7 454.5H295.9V460.0H290.7zM295.6 394.3H300.8V399.9H295.6zM295.6 454.5H300.8V457.4H295.6z"/>
<path fill="#52a2d7" d="M60.0 399.6H65.2V405.1H60.0zM60.0 483.3H65.2V486.2H60.0zM64.9 402.2H70.1V405.1H64.9zM64.9 488.5H70.1V491.4H64.9zM69.8 404.8H75.0V407.7H69.8zM69.8 491.1H75.0V494.0H69.8zM74.7 404.8H79.9V407.7H74.7zM74.7 496.3H79.9V499.2H74.7zM79.6 404.8H84.8V407.7H79.6zM79.6 498.9H84.8V501.9H79.6zM84.5 407.4H89.7V410.3H84.5zM84.5 501.6H89.7V504.5H84.5zM89.4 407.4H94.7V410.3H89.4zM89.4 504.2H94.7V507.1H89.4zM94.4 407.4H99.6V410.3H94.4zM94.4 506.8H99.6V509.7H94.4zM99.3 407.4H104.5V412.9H99.3zM99.3 509.4H104.5V514.9H99.3zM104.2 407.4H109.4V410.3H104.2zM104.2 514.6H109.4V517.5H104.2zM109.1 407.4H114.3V412.9H109.1zM109.1 519.9H114.3V522.8H109.1zM114.0 407.4H119.2V412.9H114.0zM114.0 525.1H119.2V528.0H114.0zM118.9 407.4H124.1V410.3H118.9zM118.9 527.7H124.1V533.2H118.9zM123.8 407.4H129.0V410.3H123.8zM123.8 530.3H129.0V535.9H123.8zM128.7 404.8H133.9V410.3H128.7zM128.7 530.3H133.9V533.2H128.7zM128.7 535.6H133.9V538.5H128.7zM133.6 407.4H138.8V410.3H133.6zM133.6 530.3H138.8V533.2H133.6zM138.5 404.8H143.7V407.7H138.5zM138.5 530.3H143.7V535.9H138.5zM143.4 404.8H148.6V410.3H143.4zM143.4 530.3H148.6V535.9H143.4zM148.3 404.8H153.6V410.3H148.3zM148.3 530.3H153.6V533.2H148.3zM153.3 404.8H158.5V410.3H153.3zM153.3 527.7H158.5V533.2H153.3zM158.2 407.4H163.4V410.3H158.2zM158.2 530.3H163.4V535.9H158.2zM163.1 404.8H168.3V410.3H163.1zM163.1 525.1H168.3V528.0H163.1zM168.0 407.4H173.2V410.3H168.0zM168.0 517.2H173.2V522.8H168.0zM172.9 407.4H178.1V410.3H172.9zM172.9 512.0H178.1V514.9H172.9zM177.8 407.4H183.0V410.3H177.8zM177.8 506.8H183.0V509.7H177.8zM182.7 404.8H187.9V410.3H182.7zM182.7 501.6H187.9V507.1H182.7zM187.6 404.8H192.8V407.7H187.6zM187.6 498.9H192.8V501.9H187.6zM192.5 402.2H197.7V407.7H192.5zM192.5 493.7H197.7V496.6H192.5zM197.4 402.2H202.6V405.1H197.4zM197.4 491.1H202.6V494.0H197.4zM202.3 399.6H207.5V405.1H202.3zM202.3 485.9H207.5V488.8H202.3zM207.2 402.2H212.5V405.1H207.2zM207.2 483.3H212.5V486.2H207.2zM212.2 399.6H217.4V405.1H212.2zM217.1 399.6H222.3V405.1H217.1zM222.0 402.2H227.2V405.1H222.0zM222.0 472.8H227.2V475.7H222.0zM226.9 399.6H232.1V402.5H226.9zM226.9 470.2H232.1V473.1H226.9zM231.8 399.6H237.0V405.1H231.8zM231.8 467.6H237.0V470.5H231.8zM236.7 399.6H241.9V405.1H236.7zM236.7 464.9H241.9V467.9H236.7zM241.6 399.6H246.8V405.1H241.6zM241.6 462.3H246.8V465.2H241.6zM246.5 399.6H251.7V402.5H246.5zM246.5 462.3H251.7V465.2H246.5zM251.4 399.6H256.6V405.1H251.4zM251.4 459.7H256.6V462.6H251.4zM256.3 399.6H261.5V402.5H256.3zM256.3 459.7H261.5V462.6H256.3zM261.2 399.6H266.4V405.1H261.2zM266.1 399.6H271.4V402.5H266.1zM266.1 457.1H271.4V460.0H266.1zM271.1 396.9H276.3V402.5H271.1zM271.1 457.1H276.3V460.0H271.1zM276.0 399.6H281.2V402.5H276.0zM280.9 399.6H286.1V402.5H280.9zM280.9 454.5H286.1V457.4H280.9zM285.8 399.6H291.0V402.5H285.8zM285.8 454.5H291.0V457.4H285.8zM290.7 399.6H295.9V402.5H290.7zM295.6 399.6H300.8V402.5H295.6zM295.6 451.9H300.8V454.8H295.6z"/>
<path fill="#41b7c8" d="M60.0 480.6H65.2V483.6H60.0zM64.9 404.8H70.1V407.7H64.9zM64.9 483.3H70.1V488.8H64.9zM69.8 488.5H75.0V491.4H69.8zM74.7 407.4H79.9V410.3H74.7zM74.7 493.7H79.9V496.6H74.7zM79.6 407.4H84.8V410.3H79.6zM79.6 496.3H84.8V499.2H79.6zM84.5 410.0H89.7V412.9H84.5zM84.5 498.9H89.7V501.9H84.5zM89.4 410.0H94.7V412.9H89.4zM89.4 501.6H94.7V504.5H89.4zM94.4 410.0H99.6V412.9H94.4zM94.4 504.2H99.6V507.1H94.4zM99.3 506.8H104.5V509.7H99.3zM104.2 410.0H109.4V412.9H104.2zM104.2 512.0H109.4V514.9H104.2zM109.1 517.2H114.3V520.2H109.1zM114.0 522.5H119.2V525.4H114.0zM118.9 410.0H124.1V412.9H118.9zM118.9 525.1H124.1V528.0H118.9zM123.8 527.7H129.0V530.6H123.8zM128.7 527.7H133.9V530.6H128.7zM133.6 527.7H138.8V530.6H133.6zM138.5 407.4H143.7V410.3H138.5zM138.5 527.7H143.7V530.6H138.5zM143.4 527.7H148.6V530.6H143.4zM148.3 527.7H153.6V530.6H148.3zM153.3 525.1H158.5V528.0H153.3zM158.2 525.1H163.4V530.6H158.2zM163.1 522.5H168.3V525.4H163.1zM168.0 410.0H173.2V412.9H168.0zM168.0 514.6H173.2V517.5H168.0zM172.9 410.0H178.1V412.9H172.9zM172.9 506.8H178.1V512.3H172.9zM177.8 410.0H183.0V412.9H177.8zM177.8 504.2H183.0V507.1H177.8zM182.7 498.9H187.9V501.9H182.7zM187.6 407.4H192.8V410.3H187.6zM187.6 496.3H192.8V499.2H187.6zM192.5 491.1H197.7V494.0H192.5zM197.4 404.8H202.6V407.7H197.4zM197.4 488.5H202.6V491.4H197.4zM202.3 404.8H207.5V407.7H202.3zM202.3 483.3H207.5V486.2H202.3zM207.2 480.6H212.5V483.6H207.2zM212.2 475.4H217.4V480.9H212.2zM217.1 472.8H222.3V475.7H217.1zM222.0 470.2H227.2V473.1H222.0zM226.9 402.2H232.1V405.1H226.9zM226.9 467.6H232.1V470.5H226.9zM231.8 464.9H237.0V467.9H231.8zM236.7 462.3H241.9V465.2H236.7zM246.5 402.2H251.7V405.1H246.5zM246.5 459.7H251.7V462.6H246.5zM256.3 402.2H261.5V405.1H256.3zM256.3 457.1H261.5V460.0H256.3zM261.2 457.1H266.4V460.0H261.2zM266.1 402.2H271.4V405.1H266.1zM266.1 454.5H271.4V457.4H266.1zM271.1 402.2H276.3V405.1H271.1zM271.1 454.5H276.3V457.4H271.1zM276.0 402.2H281.2V405.1H276.0zM276.0 454.5H281.2V457.4H276.0zM280.9 402.2H286.1V405.1H280.9zM285.8 402.2H291.0V405.1H285.8zM285.8 451.9H291.0V454.8H285.8zM290.7 402.2H295.9V405.1H290.7zM290.7 451.9H295.9V454.8H290.7z"/>
<path fill="#3fbc83" d="M60.0 404.8H65.2V407.7H60.0zM60.0 478.0H65.2V480.9H60.0zM64.9 480.6H70.1V483.6H64.9zM69.8 407.4H75.0V410.3H69.8zM74.7 491.1H79.9V494.0H74.7zM79.6 410.0H84.8V412.9H79.6zM79.6 493.7H84.8V496.6H79.6zM84.5 496.3H89.7V499.2H84.5zM89.4 498.9H94.7V501.9H89.4zM94.4 501.6H99.6V504.5H94.4zM99.3 412.6H104.5V415.6H99.3zM99.3 504.2H104.5V507.1H99.3zM104.2 412.6H109.4V415.6H104.2zM104.2 509.4H109.4V512.3H104.2zM109.1 514.6H114.3V517.5H109.1zM114.0 412.6H119.2V415.6H114.0zM114.0 517.2H119.2V522.8H114.0zM118.9 519.9H124.1V525.4H118.9zM123.8 410.0H129.0V412.9H123.8zM123.8 522.5H129.0V528.0H123.8zM128.7 410.0H133.9V412.9H128.7zM128.7 525.1H133.9V528.0H128.7zM133.6 410.0H138.8V412.9H133.6zM133.6 522.5H138.8V528.0H133.6zM138.5 410.0H143.7V412.9H138.5zM138.5 525.1H143.7V528.0H138.5zM143.4 410.0H148.6V412.9H143.4zM143.4 522.5H148.6V528.0H143.4zM148.3 410.0H153.6V412.9H148.3zM148.3 525.1H153.6V528.0H148.3zM153.3 410.0H158.5V412.9H153.3zM158.2 410.0H163.4V412.9H158.2zM158.2 522.5H163.4V525.4H158.2zM163.1 410.0H168.3V412.9H163.1zM163.1 517.2H168.3V522.8H163.1zM168.0 512.0H173.2V514.9H168.0zM172.9 412.6H178.1V415.6H172.9zM177.8 501.6H183.0V504.5H177.8zM182.7 410.0H187.9V412.9H182.7zM182.7 496.3H187.9V499.2H182.7zM187.6 493.7H192.8V496.6H187.6zM192.5 407.4H197.7V410.3H192.5zM192.5 488.5H197.7V491.4H192.5zM197.4 485.9H202.6V488.8H197.4zM207.2 404.8H212.5V407.7H207.2zM207.2 478.0H212.5V480.9H207.2zM212.2 404.8H217.4V407.7H212.2zM217.1 404.8H222.3V407.7H217.1zM217.1 470.2H222.3V473.1H217.1zM222.0 404.8H227.2V407.7H222.0zM226.9 464.9H232.1V467.9H226.9zM231.8 404.8H237.0V407.7H231.8zM236.7 404.8H241.9V407.7H236.7zM241.6 459.7H246.8V462.6H241.6zM246.5 404.8H251.7V407.7H246.5zM246.5 457.1H251.7V460.0H246.5zM251.4 457.1H256.6V460.0H251.4zM256.3 454.5H261.5V457.4H256.3zM261.2 454.5H266.4V457.4H261.2zM280.9 451.9H286.1V454.8H280.9zM295.6 402.2H300.8V405.1H295.6zM295.6 449.3H300.8V452.2H295.6z"/>
<path fill="#45b94f" d="M64.9 407.4H70.1V410.3H64.9zM69.8 410.0H75.0V412.9H69.8zM69.8 483.3H75.0V488.8H69.8zM74.7 410.0H79.9V412.9H74.7zM74.7 488.5H79.9V491.4H74.7zM79.6 491.1H84.8V494.0H79.6zM84.5 412.6H89.7V415.6H84.5zM84.5 493.7H89.7V496.6H84.5zM89.4 412.6H94.7V415.6H89.4zM89.4 496.3H94.7V499.2H89.4zM94.4 412.6H99.6V415.6H94.4zM94.4 498.9H99.6V501.9H94.4zM99.3 415.3H104.5V418.2H99.3zM104.2 506.8H109.4V509.7H104.2zM109.1 412.6H114.3V418.2H109.1zM109.1 509.4H114.3V514.9H109.1zM114.0 415.3H119.2V418.2H114.0zM114.0 514.6H119.2V517.5H114.0zM118.9 412.6H124.1V415.6H118.9zM123.8 412.6H129.0V415.6H123.8zM128.7 412.6H133.9V415.6H128.7zM128.7 519.9H133.9V525.4H128.7zM133.6 412.6H138.8V415.6H133.6zM133.6 519.9H138.8V522.8H133.6zM138.5 412.6H143.7V415.6H138.5zM138.5 519.9H143.7V525.4H138.5zM143.4 412.6H148.6V415.6H143.4zM143.4 519.9H148.6V522.8H143.4zM148.3 412.6H153.6V415.6H148.3zM148.3 519.9H153.6V525.4H148.3zM153.3 412.6H158.5V415.6H153.3zM153.3 519.9H158.5V525.4H153.3zM158.2 412.6H163.4V415.6H158.2zM158.2 519.9H163.4V522.8H158.2zM163.1 412.6H168.3V415.6H163.1zM163.1 514.6H168.3V517.5H163.1zM168.0 412.6H173.2V415.6H168.0zM168.0 509.4H173.2V512.3H168.0zM172.9 504.2H178.1V507.1H172.9zM177.8 412.6H183.0V415.6H177.8zM177.8 498.9H183.0V501.9H177.8zM187.6 410.0H192.8V412.9H187.6zM187.6 491.1H192.8V494.0H187.6zM197.4 407.4H202.6V410.3H197.4zM197.4 483.3H202.6V486.2H197.4zM202.3 407.4H207.5V410.3H202.3zM202.3 480.6H207.5V483.6H202.3zM207.2 407.4H212.5V410.3H207.2zM207.2 475.4H212.5V478.3H207.2zM212.2 472.8H217.4V475.7H212.2zM222.0 467.6H227.2V470.5H222.0zM226.9 404.8H232.1V407.7H226.9zM231.8 462.3H237.0V465.2H231.8zM236.7 459.7H241.9V462.6H236.7zM241.6 404.8H246.8V407.7H241.6zM241.6 457.1H246.8V460.0H241.6zM251.4 404.8H256.6V407.7H251.4zM256.3 404.8H261.5V407.7H256.3zM261.2 404.8H266.4V407.7H261.2zM266.1 404.8H271.4V407.7H266.1zM266.1 451.9H271.4V454.8H266.1zM271.1 404.8H276.3V407.7H271.1zM271.1 451.9H276.3V454.8H271.1zM276.0 404.8H281.2V407.7H276.0zM276.0 451.9H281.2V454.8H276.0zM280.9 404.8H286.1V407.7H280.9zM280.9 449.3H286.1V452.2H280.9zM285.8 404.8H291.0V407.7H285.8zM285.8 449.3H291.0V452.2H285.8zM290.7 449.3H295.9V452.2H290.7zM295.6 404.8H300.8V407.7H295.6z"/>
<path fill="#47ba4e" d="M60.0 407.4H65.2V410.3H60.0zM60.0 475.4H65.2V478.3H60.0zM64.9 410.0H70.1V412.9H64.9zM64.9 478.0H70.1V480.9H64.9zM74.7 485.9H79.9V488.8H74.7zM79.6 412.6H84.8V415.6H79.6zM79.6 488.5H84.8V491.4H79.6zM84.5 491.1H89.7V494.0H84.5zM89.4 415.3H94.7V418.2H89.4zM94.4 415.3H99.6V418.2H94.4zM94.4 496.3H99.6V499.2H94.4zM99.3 501.6H104.5V504.5H99.3zM104.2 415.3H109.4V418.2H104.2zM104.2 504.2H109.4V507.1H104.2zM114.0 417.9H119.2V420.8H114.0zM114.0 512.0H119.2V514.9H114.0zM118.9 415.3H124.1V418.2H118.9zM118.9 517.2H124.1V520.2H118.9zM123.8 415.3H129.0V418.2H123.8zM123.8 517.2H129.0V522.8H123.8zM128.7 415.3H133.9V418.2H128.7zM128.7 517.2H133.9V520.2H128.7zM133.6 415.3H138.8V418.2H133.6zM138.5 415.3H143.7V418.2H138.5zM138.5 517.2H143.7V520.2H138.5zM143.4 415.3H148.6V418.2H143.4zM143.4 517.2H148.6V520.2H143.4zM148.3 415.3H153.6V418.2H148.3zM148.3 517.2H153.6V520.2H148.3zM153.3 415.3H158.5V418.2H153.3zM153.3 517.2H158.5V520.2H153.3zM158.2 415.3H163.4V418.2H158.2zM158.2 517.2H163.4V520.2H158.2zM163.1 415.3H168.3V418.2H163.1zM168.0 415.3H173.2V418.2H168.0zM168.0 506.8H173.2V509.7H168.0zM172.9 415.3H178.1V418.2H172.9zM172.9 501.6H178.1V504.5H172.9zM177.8 496.3H183.0V499.2H177.8zM182.7 412.6H187.9V415.6H182.7zM182.7 493.7H187.9V496.6H182.7zM187.6 412.6H192.8V415.6H187.6zM187.6 488.5H192.8V491.4H187.6zM192.5 410.0H197.7V412.9H192.5zM192.5 485.9H197.7V488.8H192.5zM197.4 480.6H202.6V483.6H197.4zM202.3 478.0H207.5V480.9H202.3zM212.2 407.4H217.4V410.3H212.2zM212.2 470.2H217.4V473.1H212.2zM217.1 407.4H222.3V410.3H217.1zM217.1 467.6H222.3V470.5H217.1zM222.0 407.4H227.2V410.3H222.0zM222.0 464.9H227.2V467.9H222.0zM226.9 407.4H232.1V410.3H226.9zM226.9 462.3H232.1V465.2H226.9zM231.8 407.4H237.0V410.3H231.8zM241.6 407.4H246.8V410.3H241.6zM246.5 454.5H251.7V457.4H246.5zM251.4 454.5H256.6V457.4H251.4zM256.3 451.9H261.5V454.8H256.3zM261.2 451.9H266.4V454.8H261.2zM271.1 449.3H276.3V452.2H271.1zM276.0 449.3H281.2V452.2H276.0zM290.7 404.8H295.9V407.7H290.7zM295.6 446.6H300.8V449.6H295.6z"/>
<path fill="#49bb4d" d="M60.0 410.0H65.2V412.9H60.0zM60.0 472.8H65.2V475.7H60.0zM69.8 412.6H75.0V415.6H69.8zM69.8 480.6H75.0V483.6H69.8zM74.7 412.6H79.9V415.6H74.7zM74.7 483.3H79.9V486.2H74.7zM84.5 415.3H89.7V418.2H84.5zM89.4 493.7H94.7V496.6H89.4zM94.4 417.9H99.6V420.8H94.4zM99.3 417.9H104.5V420.8H99.3zM99.3 498.9H104.5V501.9H99.3zM104.2 417.9H109.4V420.8H104.2zM109.1 417.9H114.3V423.4H109.1zM109.1 506.8H114.3V509.7H109.1zM114.0 420.5H119.2V423.4H114.0zM118.9 417.9H124.1V420.8H118.9zM118.9 514.6H124.1V517.5H118.9zM123.8 417.9H129.0V420.8H123.8zM123.8 514.6H129.0V517.5H123.8zM128.7 417.9H133.9V420.8H128.7zM128.7 514.6H133.9V517.5H128.7zM133.6 417.9H138.8V420.8H133.6zM133.6 517.2H138.8V520.2H133.6zM138.5 417.9H143.7V420.8H138.5zM138.5 514.6H143.7V517.5H138.5zM143.4 417.9H148.6V420.8H143.4zM143.4 514.6H148.6V517.5H143.4zM148.3 417.9H153.6V420.8H148.3zM148.3 514.6H153.6V517.5H148.3zM153.3 417.9H158.5V420.8H153.3zM158.2 417.9H163.4V420.8H158.2zM158.2 514.6H163.4V517.5H158.2zM163.1 417.9H168.3V420.8H163.1zM163.1 512.0H168.3V514.9H163.1zM168.0 504.2H173.2V507.1H168.0zM172.9 417.9H178.1V420.8H172.9zM172.9 498.9H178.1V501.9H172.9zM177.8 415.3H183.0V418.2H177.8zM177.8 493.7H183.0V496.6H177.8zM182.7 415.3H187.9V418.2H182.7zM182.7 491.1H187.9V494.0H182.7zM192.5 412.6H197.7V415.6H192.5zM192.5 483.3H197.7V486.2H192.5zM197.4 410.0H202.6V412.9H197.4zM202.3 410.0H207.5V412.9H202.3zM207.2 410.0H212.5V412.9H207.2zM207.2 472.8H212.5V475.7H207.2zM212.2 410.0H217.4V412.9H212.2zM222.0 410.0H227.2V412.9H222.0zM231.8 459.7H237.0V462.6H231.8zM236.7 407.4H241.9V410.3H236.7zM236.7 457.1H241.9V460.0H236.7zM246.5 407.4H251.7V410.3H246.5zM251.4 407.4H256.6V410.3H251.4zM256.3 407.4H261.5V410.3H256.3zM261.2 407.4H266.4V410.3H261.2zM266.1 407.4H271.4V410.3H266.1zM266.1 449.3H271.4V452.2H266.1zM271.1 407.4H276.3V410.3H271.1zM276.0 407.4H281.2V410.3H276.0zM280.9 407.4H286.1V410.3H280.9zM280.9 446.6H286.1V449.6H280.9zM285.8 407.4H291.0V410.3H285.8zM285.8 446.6H291.0V449.6H285.8zM290.7 407.4H295.9V410.3H290.7zM290.7 446.6H295.9V449.6H290.7zM295.6 407.4H300.8V410.3H295.6z"/>
<path fill="#4cbc4c" d="M64.9 412.6H70.1V415.6H64.9zM64.9 475.4H70.1V478.3H64.9zM74.7 415.3H79.9V418.2H74.7zM79.6 415.3H84.8V418.2H79.6zM79.6 485.9H84.8V488.8H79.6zM84.5 417.9H89.7V420.8H84.5zM84.5 488.5H89.7V491.4H84.5zM89.4 417.9H94.7V420.8H89.4zM89.4 491.1H94.7V494.0H89.4zM94.4 493.7H99.6V496.6H94.4zM99.3 496.3H104.5V499.2H99.3zM104.2 420.5H109.4V423.4H104.2zM104.2 501.6H109.4V504.5H104.2zM109.1 504.2H114.3V507.1H109.1zM114.0 509.4H119.2V512.3H114.0zM118.9 420.5H124.1V423.4H118.9zM118.9 512.0H124.1V514.9H118.9zM123.8 420.5H129.0V423.4H123.8zM123.8 512.0H129.0V514.9H123.8zM128.7 420.5H133.9V423.4H128.7zM133.6 420.5H138.8V423.4H133.6zM133.6 512.0H138.8V517.5H133.6zM138.5 420.5H143.7V423.4H138.5zM138.5 512.0H143.7V514.9H138.5zM143.4 420.5H148.6V423.4H143.4zM143.4 512.0H148.6V514.9H143.4zM148.3 420.5H153.6V423.4H148.3zM148.3 512.0H153.6V514.9H148.3zM153.3 420.5H158.5V423.4H153.3zM153.3 512.0H158.5V517.5H153.3zM158.2 512.0H163.4V514.9H158.2zM163.1 509.4H168.3V512.3H163.1zM168.0 417.9H173.2V420.8H168.0zM177.8 417.9H183.0V420.8H177.8zM187.6 415.3H192.8V418.2H187.6zM187.6 485.9H192.8V488.8H187.6zM197.4 412.6H202.6V415.6H197.4zM197.4 478.0H202.6V480.9H197.4zM202.3 475.4H207.5V478.3H202.3zM212.2 467.6H217.4V470.5H212.2zM217.1 410.0H222.3V412.9H217.1zM217.1 464.9H222.3V467.9H217.1zM222.0 462.3H227.2V465.2H222.0zM226.9 410.0H232.1V412.9H226.9zM226.9 459.7H232.1V462.6H226.9zM231.8 410.0H237.0V412.9H231.8zM236.7 410.0H241.9V412.9H236.7zM241.6 410.0H246.8V412.9H241.6zM241.6 454.5H246.8V457.4H241.6zM246.5 451.9H251.7V454.8H246.5zM251.4 451.9H256.6V454.8H251.4zM261.2 449.3H266.4V452.2H261.2zM276.0 446.6H281.2V449.6H276.0z"/>
<path fill="#4ebe4a" d="M60.0 412.6H65.2V415.6H60.0zM60.0 470.2H65.2V473.1H60.0zM69.8 415.3H75.0V418.2H69.8zM69.8 478.0H75.0V480.9H69.8zM74.7 480.6H79.9V483.6H74.7zM79.6 417.9H84.8V420.8H79.6zM84.5 485.9H89.7V488.8H84.5zM89.4 420.5H94.7V423.4H89.4zM89.4 488.5H94.7V491.4H89.4zM94.4 420.5H99.6V423.4H94.4zM99.3 420.5H104.5V423.4H99.3zM104.2 498.9H109.4V501.9H104.2zM109.1 423.1H114.3V426.0H109.1zM114.0 423.1H119.2V426.0H114.0zM114.0 506.8H119.2V509.7H114.0zM118.9 423.1H124.1V426.0H118.9zM118.9 509.4H124.1V512.3H118.9zM123.8 423.1H129.0V426.0H123.8zM128.7 423.1H133.9V426.0H128.7zM128.7 512.0H133.9V514.9H128.7zM133.6 423.1H138.8V426.0H133.6zM133.6 509.4H138.8V512.3H133.6zM138.5 423.1H143.7V426.0H138.5zM138.5 509.4H143.7V512.3H138.5zM143.4 423.1H148.6V426.0H143.4zM143.4 509.4H148.6V512.3H143.4zM148.3 423.1H153.6V426.0H148.3zM153.3 423.1H158.5V426.0H153.3zM158.2 420.5H163.4V423.4H158.2zM158.2 509.4H163.4V512.3H158.2zM163.1 420.5H168.3V423.4H163.1zM163.1 506.8H168.3V509.7H163.1zM168.0 420.5H173.2V423.4H168.0zM168.0 501.6H173.2V504.5H168.0zM172.9 420.5H178.1V423.4H172.9zM172.9 496.3H178.1V499.2H172.9zM177.8 491.1H183.0V494.0H177.8zM182.7 417.9H187.9V420.8H182.7zM182.7 488.5H187.9V491.4H182.7zM192.5 415.3H197.7V418.2H192.5zM192.5 480.6H197.7V483.6H192.5zM202.3 412.6H207.5V415.6H202.3zM202.3 472.8H207.5V475.7H202.3zM207.2 412.6H212.5V415.6H207.2zM207.2 470.2H212.5V473.1H207.2zM231.8 457.1H237.0V460.0H231.8zM236.7 454.5H241.9V457.4H236.7zM246.5 410.0H251.7V412.9H246.5zM251.4 410.0H256.6V412.9H251.4zM256.3 410.0H261.5V412.9H256.3zM256.3 449.3H261.5V452.2H256.3zM261.2 410.0H266.4V412.9H261.2zM271.1 410.0H276.3V412.9H271.1zM271.1 446.6H276.3V449.6H271.1zM280.9 410.0H286.1V412.9H280.9zM285.8 444.0H291.0V446.9H285.8zM290.7 410.0H295.9V412.9H290.7zM290.7 444.0H295.9V446.9H290.7zM295.6 444.0H300.8V446.9H295.6z"/>
<path fill="#50bf49" d="M64.9 415.3H70.1V418.2H64.9zM64.9 472.8H70.1V475.7H64.9zM74.7 417.9H79.9V420.8H74.7zM79.6 483.3H84.8V486.2H79.6zM84.5 420.5H89.7V423.4H84.5zM94.4 423.1H99.6V426.0H94.4zM94.4 491.1H99.6V494.0H94.4zM99.3 423.1H104.5V426.0H99.3zM99.3 493.7H104.5V496.6H99.3zM104.2 423.1H109.4V426.0H104.2zM109.1 501.6H114.3V504.5H109.1zM114.0 425.7H119.2V428.6H114.0zM114.0 504.2H119.2V507.1H114.0zM118.9 425.7H124.1V428.6H118.9zM118.9 506.8H124.1V509.7H118.9zM123.8 425.7H129.0V428.6H123.8zM123.8 509.4H129.0V512.3H123.8zM128.7 425.7H133.9V428.6H128.7zM128.7 509.4H133.9V512.3H128.7zM133.6 425.7H138.8V428.6H133.6zM138.5 425.7H143.7V428.6H138.5zM143.4 425.7H148.6V428.6H143.4zM148.3 425.7H153.6V428.6H148.3zM148.3 509.4H153.6V512.3H148.3zM153.3 425.7H158.5V428.6H153.3zM153.3 509.4H158.5V512.3H153.3zM158.2 423.1H163.4V426.0H158.2zM163.1 423.1H168.3V426.0H163.1zM163.1 504.2H168.3V507.1H163.1zM168.0 498.9H173.2V501.9H168.0zM172.9 493.7H178.1V496.6H172.9zM177.8 420.5H183.0V423.4H177.8zM187.6 417.9H192.8V420.8H187.6zM187.6 483.3H192.8V486.2H187.6zM197.4 415.3H202.6V418.2H197.4zM197.4 475.4H202.6V478.3H197.4zM212.2 412.6H217.4V415.6H212.2zM217.1 412.6H222.3V415.6H217.1zM217.1 462.3H222.3V465.2H217.1zM222.0 412.6H227.2V415.6H222.0zM222.0 459.7H227.2V462.6H222.0zM226.9 412.6H232.1V415.6H226.9zM241.6 451.9H246.8V454.8H241.6zM251.4 449.3H256.6V452.2H251.4zM261.2 446.6H266.4V449.6H261.2zM266.1 410.0H271.4V412.9H266.1zM266.1 446.6H271.4V449.6H266.1zM276.0 410.0H281.2V412.9H276.0zM280.9 444.0H286.1V446.9H280.9zM285.8 410.0H291.0V412.9H285.8zM295.6 410.0H300.8V412.9H295.6z"/>
<path fill="#52c048" d="M60.0 415.3H65.2V418.2H60.0zM60.0 467.6H65.2V470.5H60.0zM69.8 417.9H75.0V420.8H69.8zM69.8 475.4H75.0V478.3H69.8zM74.7 478.0H79.9V480.9H74.7zM89.4 485.9H94.7V488.8H89.4zM104.2 496.3H109.4V499.2H104.2zM109.1 425.7H114.3V428.6H109.1zM109.1 498.9H114.3V501.9H109.1zM114.0 501.6H119.2V504.5H114.0zM123.8 428.3H129.0V431.2H123.8zM123.8 506.8H129.0V509.7H123.8zM128.7 428.3H133.9V431.2H128.7zM128.7 506.8H133.9V509.7H128.7zM133.6 428.3H138.8V431.2H133.6zM133.6 506.8H138.8V509.7H133.6zM138.5 428.3H143.7V431.2H138.5zM138.5 506.8H143.7V509.7H138.5zM143.4 506.8H148.6V509.7H143.4zM148.3 428.3H153.6V431.2H148.3zM148.3 506.8H153.6V509.7H148.3zM153.3 506.8H158.5V509.7H153.3zM158.2 425.7H163.4V428.6H158.2zM158.2 506.8H163.4V509.7H158.2zM168.0 423.1H173.2V426.0H168.0zM172.9 423.1H178.1V426.0H172.9zM177.8 488.5H183.0V491.4H177.8zM182.7 420.5H187.9V423.4H182.7zM182.7 485.9H187.9V488.8H182.7zM192.5 417.9H197.7V420.8H192.5zM192.5 478.0H197.7V480.9H192.5zM202.3 415.3H207.5V418.2H202.3zM207.2 415.3H212.5V418.2H207.2zM207.2 467.6H212.5V470.5H207.2zM212.2 464.9H217.4V467.9H212.2zM226.9 457.1H232.1V460.0H226.9zM231.8 412.6H237.0V415.6H231.8zM231.8 454.5H237.0V457.4H231.8zM236.7 412.6H241.9V415.6H236.7zM241.6 412.6H246.8V415.6H241.6zM246.5 449.3H251.7V452.2H246.5zM256.3 446.6H261.5V449.6H256.3zM276.0 444.0H281.2V446.9H276.0zM295.6 441.4H300.8V444.3H295.6z"/>
<path fill="#5dc34b" d="M64.9 417.9H70.1V420.8H64.9zM64.9 470.2H70.1V473.1H64.9zM79.6 420.5H84.8V423.4H79.6zM79.6 480.6H84.8V483.6H79.6zM84.5 423.1H89.7V426.0H84.5zM84.5 483.3H89.7V486.2H84.5zM89.4 423.1H94.7V426.0H89.4zM94.4 488.5H99.6V491.4H94.4zM99.3 425.7H104.5V428.6H99.3zM99.3 491.1H104.5V494.0H99.3zM104.2 425.7H109.4V428.6H104.2zM109.1 428.3H114.3V431.2H109.1zM114.0 428.3H119.2V431.2H114.0zM118.9 428.3H124.1V431.2H118.9zM118.9 504.2H124.1V507.1H118.9zM128.7 430.9H133.9V433.9H128.7zM138.5 430.9H143.7V433.9H138.5zM138.5 504.2H143.7V507.1H138.5zM143.4 428.3H148.6V433.9H143.4zM153.3 428.3H158.5V431.2H153.3zM158.2 504.2H163.4V507.1H158.2zM163.1 425.7H168.3V428.6H163.1zM163.1 501.6H168.3V504.5H163.1zM168.0 496.3H173.2V499.2H168.0zM172.9 491.1H178.1V494.0H172.9zM177.8 423.1H183.0V426.0H177.8zM182.7 483.3H187.9V486.2H182.7zM187.6 420.5H192.8V423.4H187.6zM187.6 480.6H192.8V483.6H187.6zM197.4 472.8H202.6V475.7H197.4zM202.3 470.2H207.5V473.1H202.3zM212.2 415.3H217.4V418.2H212.2zM217.1 415.3H222.3V418.2H217.1zM236.7 451.9H241.9V454.8H236.7zM246.5 412.6H251.7V415.6H246.5zM251.4 412.6H256.6V415.6H251.4zM256.3 412.6H261.5V415.6H256.3zM261.2 412.6H266.4V415.6H261.2zM266.1 412.6H271.4V415.6H266.1zM266.1 444.0H271.4V446.9H266.1zM271.1 412.6H276.3V415.6H271.1zM271.1 444.0H276.3V446.9H271.1zM276.0 412.6H281.2V415.6H276.0zM280.9 412.6H286.1V415.6H280.9zM285.8 412.6H291.0V415.6H285.8zM285.8 441.4H291.0V444.3H285.8zM290.7 412.6H295.9V415.6H290.7zM290.7 441.4H295.9V444.3H290.7z"/>
<path fill="#68c64e" d="M60.0 417.9H65.2V420.8H60.0zM60.0 464.9H65.2V467.9H60.0zM69.8 472.8H75.0V475.7H69.8zM74.7 420.5H79.9V423.4H74.7zM89.4 425.7H94.7V428.6H89.4zM94.4 425.7H99.6V428.6H94.4zM104.2 428.3H109.4V431.2H104.2zM104.2 493.7H109.4V496.6H104.2zM109.1 496.3H114.3V499.2H109.1zM114.0 430.9H119.2V433.9H114.0zM118.9 430.9H124.1V433.9H118.9zM118.9 501.6H124.1V504.5H118.9zM123.8 430.9H129.0V433.9H123.8zM123.8 504.2H129.0V507.1H123.8zM128.7 504.2H133.9V507.1H128.7zM133.6 430.9H138.8V433.9H133.6zM133.6 504.2H138.8V507.1H133.6zM143.4 504.2H148.6V507.1H143.4zM148.3 430.9H153.6V433.9H148.3zM148.3 504.2H153.6V507.1H148.3zM153.3 504.2H158.5V507.1H153.3zM158.2 428.3H163.4V431.2H158.2zM168.0 425.7H173.2V428.6H168.0zM172.9 425.7H178.1V428.6H172.9zM192.5 475.4H197.7V478.3H192.5zM197.4 417.9H202.6V420.8H197.4zM212.2 462.3H217.4V465.2H212.2zM217.1 459.7H222.3V462.6H217.1zM222.0 415.3H227.2V418.2H222.0zM222.0 457.1H227.2V460.0H222.0zM226.9 415.3H232.1V418.2H226.9zM241.6 449.3H246.8V452.2H241.6zM251.4 446.6H256.6V449.6H251.4zM261.2 444.0H266.4V446.9H261.2zM276.0 441.4H281.2V444.3H276.0zM280.9 441.4H286.1V444.3H280.9zM295.6 412.6H300.8V415.6H295.6z"/>
<path fill="#72ca52" d="M69.8 420.5H75.0V423.4H69.8zM74.7 475.4H79.9V478.3H74.7zM79.6 423.1H84.8V426.0H79.6zM79.6 478.0H84.8V480.9H79.6zM84.5 480.6H89.7V483.6H84.5zM89.4 483.3H94.7V486.2H89.4zM94.4 485.9H99.6V488.8H94.4zM99.3 488.5H104.5V491.4H99.3zM109.1 430.9H114.3V433.9H109.1zM114.0 498.9H119.2V501.9H114.0zM123.8 501.6H129.0V504.5H123.8zM128.7 433.6H133.9V436.5H128.7zM128.7 501.6H133.9V504.5H128.7zM133.6 433.6H138.8V436.5H133.6zM133.6 501.6H138.8V504.5H133.6zM138.5 433.6H143.7V436.5H138.5zM143.4 433.6H148.6V436.5H143.4zM143.4 501.6H148.6V504.5H143.4zM148.3 433.6H153.6V436.5H148.3zM148.3 501.6H153.6V504.5H148.3zM153.3 430.9H158.5V433.9H153.3zM158.2 430.9H163.4V433.9H158.2zM158.2 501.6H163.4V504.5H158.2zM163.1 428.3H168.3V431.2H163.1zM163.1 498.9H168.3V501.9H163.1zM168.0 493.7H173.2V496.6H168.0zM177.8 425.7H183.0V428.6H177.8zM177.8 485.9H183.0V488.8H177.8zM182.7 423.1H187.9V426.0H182.7zM192.5 420.5H197.7V423.4H192.5zM202.3 417.9H207.5V420.8H202.3zM202.3 467.6H207.5V470.5H202.3zM207.2 417.9H212.5V420.8H207.2zM207.2 464.9H212.5V467.9H207.2zM226.9 454.5H232.1V457.4H226.9zM231.8 415.3H237.0V418.2H231.8zM231.8 451.9H237.0V454.8H231.8zM236.7 415.3H241.9V418.2H236.7zM241.6 415.3H246.8V418.2H241.6zM246.5 415.3H251.7V418.2H246.5zM246.5 446.6H251.7V449.6H246.5zM271.1 441.4H276.3V444.3H271.1zM295.6 438.8H300.8V441.7H295.6z"/>
<path fill="#7dcd55" d="M64.9 420.5H70.1V423.4H64.9zM64.9 467.6H70.1V470.5H64.9zM69.8 470.2H75.0V473.1H69.8zM74.7 423.1H79.9V426.0H74.7zM84.5 425.7H89.7V428.6H84.5zM94.4 428.3H99.6V431.2H94.4zM99.3 428.3H104.5V431.2H99.3zM104.2 491.1H109.4V494.0H104.2zM109.1 493.7H114.3V496.6H109.1zM114.0 433.6H119.2V436.5H114.0zM118.9 433.6H124.1V436.5H118.9zM118.9 498.9H124.1V501.9H118.9zM123.8 433.6H129.0V436.5H123.8zM133.6 436.2H138.8V439.1H133.6zM138.5 436.2H143.7V439.1H138.5zM138.5 501.6H143.7V504.5H138.5zM143.4 436.2H148.6V439.1H143.4zM148.3 436.2H153.6V439.1H148.3zM153.3 433.6H158.5V436.5H153.3zM153.3 501.6H158.5V504.5H153.3zM168.0 428.3H173.2V431.2H168.0zM172.9 488.5H178.1V491.4H172.9zM187.6 423.1H192.8V426.0H187.6zM187.6 478.0H192.8V480.9H187.6zM197.4 470.2H202.6V473.1H197.4zM212.2 417.9H217.4V420.8H212.2zM217.1 417.9H222.3V420.8H217.1zM236.7 449.3H241.9V452.2H236.7zM251.4 415.3H256.6V418.2H251.4zM256.3 415.3H261.5V418.2H256.3zM256.3 444.0H261.5V446.9H256.3zM261.2 415.3H266.4V418.2H261.2zM266.1 415.3H271.4V418.2H266.1zM266.1 441.4H271.4V444.3H266.1zM271.1 415.3H276.3V418.2H271.1zM276.0 415.3H281.2V418.2H276.0zM285.8 415.3H291.0V418.2H285.8zM285.8 438.8H291.0V441.7H285.8zM290.7 415.3H295.9V418.2H290.7zM290.7 438.8H295.9V441.7H290.7zM295.6 415.3H300.8V418.2H295.6z"/>
<path fill="#88d058" d="M60.0 420.5H65.2V423.4H60.0zM60.0 462.3H65.2V465.2H60.0zM74.7 472.8H79.9V475.7H74.7zM99.3 430.9H104.5V433.9H99.3zM104.2 430.9H109.4V433.9H104.2zM109.1 433.6H114.3V436.5H109.1zM114.0 496.3H119.2V499.2H114.0zM118.9 436.2H124.1V439.1H118.9zM123.8 436.2H129.0V439.1H123.8zM123.8 498.9H129.0V501.9H123.8zM128.7 436.2H133.9V439.1H128.7zM128.7 498.9H133.9V501.9H128.7zM133.6 498.9H138.8V501.9H133.6zM138.5 438.8H143.7V441.7H138.5zM138.5 498.9H143.7V501.9H138.5zM143.4 498.9H148.6V501.9H143.4zM148.3 498.9H153.6V501.9H148.3zM153.3 498.9H158.5V501.9H153.3zM158.2 433.6H163.4V436.5H158.2zM158.2 498.9H163.4V501.9H158.2zM163.1 430.9H168.3V433.9H163.1zM163.1 496.3H168.3V499.2H163.1zM168.0 491.1H173.2V494.0H168.0zM172.9 428.3H178.1V431.2H172.9zM177.8 483.3H183.0V486.2H177.8zM182.7 425.7H187.9V428.6H182.7zM182.7 480.6H187.9V483.6H182.7zM192.5 472.8H197.7V475.7H192.5zM197.4 420.5H202.6V423.4H197.4zM202.3 420.5H207.5V423.4H202.3zM212.2 459.7H217.4V462.6H212.2zM217.1 457.1H222.3V460.0H217.1zM222.0 417.9H227.2V420.8H222.0zM222.0 454.5H227.2V457.4H222.0zM226.9 417.9H232.1V420.8H226.9zM231.8 417.9H237.0V420.8H231.8zM241.6 446.6H246.8V449.6H241.6zM251.4 444.0H256.6V446.9H251.4zM280.9 415.3H286.1V418.2H280.9zM280.9 438.8H286.1V441.7H280.9z"/>
<path fill="#93d35d" d="M64.9 464.9H70.1V467.9H64.9zM69.8 423.1H75.0V426.0H69.8zM79.6 425.7H84.8V428.6H79.6zM79.6 475.4H84.8V478.3H79.6zM84.5 478.0H89.7V480.9H84.5zM89.4 428.3H94.7V431.2H89.4zM89.4 480.6H94.7V483.6H89.4zM94.4 483.3H99.6V486.2H94.4zM99.3 485.9H104.5V488.8H99.3zM114.0 436.2H119.2V439.1H114.0zM118.9 496.3H124.1V499.2H118.9zM133.6 438.8H138.8V441.7H133.6zM138.5 496.3H143.7V499.2H138.5zM143.4 438.8H148.6V441.7H143.4zM148.3 438.8H153.6V441.7H148.3zM153.3 436.2H158.5V439.1H153.3zM168.0 430.9H173.2V433.9H168.0zM172.9 485.9H178.1V488.8H172.9zM177.8 428.3H183.0V431.2H177.8zM187.6 475.4H192.8V478.3H187.6zM192.5 423.1H197.7V426.0H192.5zM202.3 464.9H207.5V467.9H202.3zM207.2 420.5H212.5V423.4H207.2zM207.2 462.3H212.5V465.2H207.2zM226.9 451.9H232.1V454.8H226.9zM236.7 417.9H241.9V420.8H236.7zM241.6 417.9H246.8V420.8H241.6zM246.5 444.0H251.7V446.9H246.5zM261.2 441.4H266.4V444.3H261.2zM271.1 438.8H276.3V441.7H271.1zM276.0 438.8H281.2V441.7H276.0zM295.6 436.2H300.8V439.1H295.6z"/>
<path fill="#9ed662" d="M64.9 423.1H70.1V426.0H64.9zM69.8 467.6H75.0V470.5H69.8zM84.5 428.3H89.7V431.2H84.5zM94.4 430.9H99.6V433.9H94.4zM104.2 433.6H109.4V436.5H104.2zM104.2 488.5H109.4V491.4H104.2zM109.1 436.2H114.3V439.1H109.1zM109.1 491.1H114.3V494.0H109.1zM114.0 493.7H119.2V496.6H114.0zM123.8 438.8H129.0V441.7H123.8zM123.8 496.3H129.0V499.2H123.8zM128.7 438.8H133.9V441.7H128.7zM128.7 496.3H133.9V499.2H128.7zM133.6 441.4H138.8V444.3H133.6zM133.6 496.3H138.8V499.2H133.6zM138.5 441.4H143.7V444.3H138.5zM143.4 441.4H148.6V444.3H143.4zM143.4 496.3H148.6V499.2H143.4zM148.3 441.4H153.6V444.3H148.3zM148.3 496.3H153.6V499.2H148.3zM153.3 438.8H158.5V441.7H153.3zM153.3 496.3H158.5V499.2H153.3zM158.2 496.3H163.4V499.2H158.2zM163.1 433.6H168.3V436.5H163.1zM163.1 493.7H168.3V496.6H163.1zM182.7 478.0H187.9V480.9H182.7zM187.6 425.7H192.8V428.6H187.6zM197.4 467.6H202.6V470.5H197.4zM212.2 420.5H217.4V423.4H212.2zM231.8 449.3H237.0V452.2H231.8zM246.5 417.9H251.7V420.8H246.5zM251.4 417.9H256.6V420.8H251.4zM256.3 417.9H261.5V420.8H256.3zM256.3 441.4H261.5V444.3H256.3zM290.7 436.2H295.9V439.1H290.7zM295.6 417.9H300.8V420.8H295.6z"/>
<path fill="#a9da66" d="M60.0 423.1H65.2V426.0H60.0zM60.0 459.7H65.2V462.6H60.0zM74.7 425.7H79.9V428.6H74.7zM74.7 470.2H79.9V473.1H74.7zM79.6 472.8H84.8V475.7H79.6zM89.4 430.9H94.7V433.9H89.4zM89.4 478.0H94.7V480.9H89.4zM99.3 433.6H104.5V436.5H99.3zM114.0 438.8H119.2V441.7H114.0zM118.9 438.8H124.1V441.7H118.9zM118.9 493.7H124.1V496.6H118.9zM123.8 493.7H129.0V496.6H123.8zM128.7 441.4H133.9V444.3H128.7zM143.4 493.7H148.6V496.6H143.4zM148.3 493.7H153.6V496.6H148.3zM158.2 436.2H163.4V439.1H158.2zM168.0 488.5H173.2V491.4H168.0zM172.9 430.9H178.1V433.9H172.9zM177.8 480.6H183.0V483.6H177.8zM182.7 428.3H187.9V431.2H182.7zM192.5 470.2H197.7V473.1H192.5zM197.4 423.1H202.6V426.0H197.4zM217.1 420.5H222.3V423.4H217.1zM222.0 420.5H227.2V423.4H222.0zM236.7 446.6H241.9V449.6H236.7zM261.2 417.9H266.4V420.8H261.2zM266.1 417.9H271.4V420.8H266.1zM266.1 438.8H271.4V441.7H266.1zM271.1 417.9H276.3V420.8H271.1zM276.0 417.9H281.2V420.8H276.0zM280.9 417.9H286.1V420.8H280.9zM285.8 417.9H291.0V420.8H285.8zM285.8 436.2H291.0V439.1H285.8zM290.7 417.9H295.9V420.8H290.7z"/>
<path fill="#b4dd6b" d="M64.9 462.3H70.1V465.2H64.9zM69.8 425.7H75.0V428.6H69.8zM79.6 428.3H84.8V431.2H79.6zM84.5 475.4H89.7V478.3H84.5zM94.4 480.6H99.6V483.6H94.4zM99.3 483.3H104.5V486.2H99.3zM104.2 436.2H109.4V439.1H104.2zM104.2 485.9H109.4V488.8H104.2zM109.1 488.5H114.3V491.4H109.1zM114.0 491.1H119.2V494.0H114.0zM118.9 441.4H124.1V444.3H118.9zM123.8 441.4H129.0V444.3H123.8zM128.7 493.7H133.9V496.6H128.7zM133.6 444.0H138.8V446.9H133.6zM133.6 493.7H138.8V496.6H133.6zM138.5 444.0H143.7V446.9H138.5zM138.5 493.7H143.7V496.6H138.5zM143.4 444.0H148.6V446.9H143.4zM148.3 444.0H153.6V446.9H148.3zM153.3 441.4H158.5V444.3H153.3zM153.3 493.7H158.5V496.6H153.3zM158.2 493.7H163.4V496.6H158.2zM163.1 491.1H168.3V494.0H163.1zM168.0 433.6H173.2V436.5H168.0zM172.9 483.3H178.1V486.2H172.9zM177.8 430.9H183.0V433.9H177.8zM187.6 472.8H192.8V475.7H187.6zM192.5 425.7H197.7V428.6H192.5zM202.3 423.1H207.5V426.0H202.3zM212.2 457.1H217.4V460.0H212.2zM217.1 454.5H222.3V457.4H217.1zM222.0 451.9H227.2V454.8H222.0zM226.9 420.5H232.1V423.4H226.9zM226.9 449.3H232.1V452.2H226.9zM231.8 420.5H237.0V423.4H231.8zM241.6 444.0H246.8V446.9H241.6zM251.4 441.4H256.6V444.3H251.4zM261.2 438.8H266.4V441.7H261.2zM276.0 436.2H281.2V439.1H276.0zM280.9 436.2H286.1V439.1H280.9zM295.6 433.6H300.8V436.5H295.6z"/>
<path fill="#bfe070" d="M69.8 464.9H75.0V467.9H69.8zM94.4 433.6H99.6V436.5H94.4zM109.1 438.8H114.3V441.7H109.1zM118.9 491.1H124.1V494.0H118.9zM128.7 444.0H133.9V446.9H128.7zM138.5 491.1H143.7V494.0H138.5zM143.4 491.1H148.6V494.0H143.4zM148.3 491.1H153.6V494.0H148.3zM158.2 438.8H163.4V441.7H158.2zM163.1 436.2H168.3V439.1H163.1zM202.3 462.3H207.5V465.2H202.3zM207.2 423.1H212.5V426.0H207.2zM207.2 459.7H212.5V462.6H207.2zM212.2 423.1H217.4V426.0H212.2zM231.8 446.6H237.0V449.6H231.8zM236.7 420.5H241.9V423.4H236.7zM241.6 420.5H246.8V423.4H241.6zM246.5 420.5H251.7V423.4H246.5zM246.5 441.4H251.7V444.3H246.5zM256.3 438.8H261.5V441.7H256.3zM271.1 436.2H276.3V439.1H271.1zM290.7 420.5H295.9V423.4H290.7zM290.7 433.6H295.9V436.5H290.7zM295.6 420.5H300.8V423.4H295.6z"/>
<path fill="#c7e376" d="M64.9 425.7H70.1V428.6H64.9zM74.7 428.3H79.9V431.2H74.7zM74.7 467.6H79.9V470.5H74.7zM84.5 430.9H89.7V433.9H84.5zM89.4 433.6H94.7V436.5H89.4zM99.3 436.2H104.5V439.1H99.3zM114.0 441.4H119.2V444.3H114.0zM114.0 488.5H119.2V491.4H114.0zM118.9 444.0H124.1V446.9H118.9zM123.8 444.0H129.0V446.9H123.8zM123.8 491.1H129.0V494.0H123.8zM128.7 446.6H133.9V449.6H128.7zM128.7 491.1H133.9V494.0H128.7zM133.6 446.6H138.8V449.6H133.6zM133.6 491.1H138.8V494.0H133.6zM138.5 446.6H143.7V449.6H138.5zM143.4 446.6H148.6V449.6H143.4zM148.3 446.6H153.6V449.6H148.3zM153.3 444.0H158.5V446.9H153.3zM158.2 491.1H163.4V494.0H158.2zM168.0 485.9H173.2V488.8H168.0zM172.9 433.6H178.1V436.5H172.9zM177.8 478.0H183.0V480.9H177.8zM182.7 475.4H187.9V478.3H182.7zM187.6 428.3H192.8V431.2H187.6zM197.4 425.7H202.6V428.6H197.4zM197.4 464.9H202.6V467.9H197.4zM217.1 423.1H222.3V426.0H217.1zM236.7 444.0H241.9V446.9H236.7zM251.4 420.5H256.6V423.4H251.4zM256.3 420.5H261.5V423.4H256.3zM266.1 420.5H271.4V423.4H266.1zM266.1 436.2H271.4V439.1H266.1zM271.1 420.5H276.3V423.4H271.1zM276.0 420.5H281.2V423.4H276.0zM280.9 420.5H286.1V423.4H280.9zM285.8 420.5H291.0V423.4H285.8zM285.8 433.6H291.0V436.5H285.8z"/>
<path fill="#cfe67b" d="M60.0 425.7H65.2V428.6H60.0zM60.0 457.1H65.2V460.0H60.0zM79.6 470.2H84.8V473.1H79.6zM84.5 472.8H89.7V475.7H84.5zM89.4 475.4H94.7V478.3H89.4zM94.4 478.0H99.6V480.9H94.4zM99.3 480.6H104.5V483.6H99.3zM104.2 438.8H109.4V441.7H104.2zM104.2 483.3H109.4V486.2H104.2zM109.1 441.4H114.3V444.3H109.1zM109.1 485.9H114.3V488.8H109.1zM118.9 488.5H124.1V491.4H118.9zM133.6 488.5H138.8V491.4H133.6zM138.5 449.3H143.7V452.2H138.5zM138.5 488.5H143.7V491.4H138.5zM143.4 449.3H148.6V452.2H143.4zM143.4 488.5H148.6V491.4H143.4zM148.3 488.5H153.6V491.4H148.3zM153.3 491.1H158.5V494.0H153.3zM158.2 441.4H163.4V444.3H158.2zM163.1 488.5H168.3V491.4H163.1zM168.0 436.2H173.2V439.1H168.0zM182.7 430.9H187.9V433.9H182.7zM192.5 467.6H197.7V470.5H192.5zM217.1 451.9H222.3V454.8H217.1zM222.0 423.1H227.2V426.0H222.0zM226.9 423.1H232.1V426.0H226.9zM251.4 438.8H256.6V441.7H251.4zM261.2 420.5H266.4V423.4H261.2zM276.0 433.6H281.2V436.5H276.0zM280.9 433.6H286.1V436.5H280.9zM295.6 423.1H300.8V426.0H295.6zM295.6 430.9H300.8V433.9H295.6z"/>
<path fill="#d6e881" d="M64.9 459.7H70.1V462.6H64.9zM69.8 428.3H75.0V431.2H69.8zM79.6 430.9H84.8V433.9H79.6zM94.4 436.2H99.6V439.1H94.4zM114.0 444.0H119.2V446.9H114.0zM114.0 485.9H119.2V488.8H114.0zM123.8 446.6H129.0V449.6H123.8zM123.8 488.5H129.0V491.4H123.8zM128.7 449.3H133.9V452.2H128.7zM128.7 488.5H133.9V491.4H128.7zM133.6 449.3H138.8V452.2H133.6zM148.3 449.3H153.6V452.2H148.3zM153.3 446.6H158.5V449.6H153.3zM163.1 438.8H168.3V441.7H163.1zM172.9 480.6H178.1V483.6H172.9zM177.8 433.6H183.0V436.5H177.8zM187.6 470.2H192.8V473.1H187.6zM202.3 425.7H207.5V428.6H202.3zM212.2 454.5H217.4V457.4H212.2zM222.0 449.3H227.2V452.2H222.0zM231.8 423.1H237.0V426.0H231.8zM241.6 441.4H246.8V444.3H241.6zM261.2 436.2H266.4V439.1H261.2zM271.1 433.6H276.3V436.5H271.1zM285.8 423.1H291.0V426.0H285.8zM290.7 423.1H295.9V426.0H290.7zM290.7 430.9H295.9V433.9H290.7z"/>
<path fill="#deeb86" d="M64.9 428.3H70.1V431.2H64.9zM69.8 462.3H75.0V465.2H69.8zM109.1 483.3H114.3V486.2H109.1zM118.9 446.6H124.1V449.6H118.9zM133.6 451.9H138.8V454.8H133.6zM133.6 485.9H138.8V488.8H133.6zM138.5 451.9H143.7V454.8H138.5zM138.5 485.9H143.7V488.8H138.5zM143.4 451.9H148.6V454.8H143.4zM143.4 485.9H148.6V488.8H143.4zM153.3 488.5H158.5V491.4H153.3zM158.2 488.5H163.4V491.4H158.2zM168.0 483.3H173.2V486.2H168.0zM182.7 472.8H187.9V475.7H182.7zM192.5 428.3H197.7V431.2H192.5zM197.4 462.3H202.6V465.2H197.4zM202.3 459.7H207.5V462.6H202.3zM207.2 425.7H212.5V428.6H207.2zM207.2 457.1H212.5V460.0H207.2zM226.9 446.6H232.1V449.6H226.9zM231.8 444.0H237.0V446.9H231.8zM236.7 423.1H241.9V426.0H236.7zM241.6 423.1H246.8V426.0H241.6zM246.5 438.8H251.7V441.7H246.5zM256.3 436.2H261.5V439.1H256.3zM261.2 423.1H266.4V426.0H261.2zM266.1 423.1H271.4V426.0H266.1zM266.1 433.6H271.4V436.5H266.1zM271.1 423.1H276.3V426.0H271.1zM276.0 423.1H281.2V426.0H276.0zM280.9 423.1H286.1V426.0H280.9zM280.9 430.9H286.1V433.9H280.9zM285.8 430.9H291.0V433.9H285.8zM290.7 425.7H295.9V431.2H290.7zM295.6 425.7H300.8V431.2H295.6z"/>
<path fill="#e6ee8c" d="M74.7 430.9H79.9V433.9H74.7zM74.7 464.9H79.9V467.9H74.7zM84.5 433.6H89.7V436.5H84.5zM89.4 436.2H94.7V439.1H89.4zM99.3 438.8H104.5V441.7H99.3zM99.3 478.0H104.5V480.9H99.3zM104.2 480.6H109.4V483.6H104.2zM109.1 444.0H114.3V446.9H109.1zM114.0 446.6H119.2V449.6H114.0zM118.9 485.9H124.1V488.8H118.9zM123.8 449.3H129.0V452.2H123.8zM123.8 485.9H129.0V488.8H123.8zM128.7 451.9H133.9V454.8H128.7zM128.7 485.9H133.9V488.8H128.7zM138.5 454.5H143.7V457.4H138.5zM143.4 454.5H148.6V457.4H143.4zM148.3 451.9H153.6V454.8H148.3zM148.3 485.9H153.6V488.8H148.3zM153.3 449.3H158.5V452.2H153.3zM158.2 444.0H163.4V446.9H158.2zM163.1 485.9H168.3V488.8H163.1zM172.9 436.2H178.1V439.1H172.9zM177.8 475.4H183.0V478.3H177.8zM187.6 430.9H192.8V433.9H187.6zM197.4 428.3H202.6V431.2H197.4zM212.2 425.7H217.4V428.6H212.2zM217.1 425.7H222.3V428.6H217.1zM246.5 423.1H251.7V426.0H246.5zM251.4 423.1H256.6V426.0H251.4zM256.3 423.1H261.5V426.0H256.3zM261.2 433.6H266.4V436.5H261.2zM276.0 430.9H281.2V433.9H276.0zM280.9 425.7H286.1V431.2H280.9zM285.8 425.7H291.0V431.2H285.8z"/>
<path fill="#ebee90" d="M60.0 428.3H65.2V431.2H60.0zM60.0 454.5H65.2V457.4H60.0zM79.6 467.6H84.8V470.5H79.6zM84.5 470.2H89.7V473.1H84.5zM89.4 472.8H94.7V475.7H89.4zM94.4 475.4H99.6V478.3H94.4zM104.2 441.4H109.4V444.3H104.2zM114.0 483.3H119.2V486.2H114.0zM118.9 449.3H124.1V452.2H118.9zM133.6 454.5H138.8V457.4H133.6zM133.6 483.3H138.8V486.2H133.6zM138.5 457.1H143.7V460.0H138.5zM138.5 483.3H143.7V486.2H138.5zM143.4 483.3H148.6V486.2H143.4zM148.3 454.5H153.6V457.4H148.3zM148.3 483.3H153.6V486.2H148.3zM153.3 485.9H158.5V488.8H153.3zM163.1 441.4H168.3V444.3H163.1zM168.0 438.8H173.2V441.7H168.0zM172.9 478.0H178.1V480.9H172.9zM192.5 464.9H197.7V467.9H192.5zM222.0 425.7H227.2V428.6H222.0zM236.7 441.4H241.9V444.3H236.7zM251.4 436.2H256.6V439.1H251.4zM266.1 425.7H271.4V428.6H266.1zM266.1 430.9H271.4V433.9H266.1zM271.1 425.7H276.3V428.6H271.1zM271.1 430.9H276.3V433.9H271.1zM276.0 425.7H281.2V431.2H276.0z"/>
<path fill="#efef94" d="M64.9 457.1H70.1V460.0H64.9zM69.8 430.9H75.0V433.9H69.8zM79.6 433.6H84.8V436.5H79.6zM94.4 438.8H99.6V441.7H94.4zM109.1 480.6H114.3V483.6H109.1zM118.9 483.3H124.1V486.2H118.9zM123.8 451.9H129.0V454.8H123.8zM123.8 483.3H129.0V486.2H123.8zM128.7 454.5H133.9V457.4H128.7zM128.7 483.3H133.9V486.2H128.7zM133.6 457.1H138.8V460.0H133.6zM138.5 480.6H143.7V483.6H138.5zM143.4 457.1H148.6V460.0H143.4zM143.4 480.6H148.6V483.6H143.4zM153.3 451.9H158.5V454.8H153.3zM158.2 446.6H163.4V449.6H158.2zM158.2 485.9H163.4V488.8H158.2zM182.7 433.6H187.9V436.5H182.7zM202.3 428.3H207.5V431.2H202.3zM212.2 451.9H217.4V454.8H212.2zM217.1 449.3H222.3V452.2H217.1zM222.0 446.6H227.2V449.6H222.0zM226.9 425.7H232.1V428.6H226.9zM231.8 425.7H237.0V428.6H231.8zM236.7 425.7H241.9V428.6H236.7zM241.6 425.7H246.8V428.6H241.6zM241.6 438.8H246.8V441.7H241.6zM246.5 425.7H251.7V428.6H246.5zM256.3 425.7H261.5V428.6H256.3zM256.3 433.6H261.5V436.5H256.3zM261.2 425.7H266.4V428.6H261.2zM266.1 428.3H271.4V431.2H266.1zM271.1 428.3H276.3V431.2H271.1z"/>
<path fill="#f4ef98" d="M64.9 430.9H70.1V433.9H64.9zM69.8 459.7H75.0V462.6H69.8zM84.5 436.2H89.7V439.1H84.5zM99.3 441.4H104.5V444.3H99.3zM104.2 444.0H109.4V446.9H104.2zM109.1 446.6H114.3V449.6H109.1zM114.0 449.3H119.2V452.2H114.0zM114.0 480.6H119.2V483.6H114.0zM118.9 451.9H124.1V454.8H118.9zM123.8 454.5H129.0V457.4H123.8zM128.7 480.6H133.9V483.6H128.7zM133.6 459.7H138.8V462.6H133.6zM133.6 480.6H138.8V483.6H133.6zM138.5 459.7H143.7V462.6H138.5zM143.4 459.7H148.6V462.6H143.4zM148.3 457.1H153.6V460.0H148.3zM148.3 480.6H153.6V483.6H148.3zM153.3 483.3H158.5V486.2H153.3zM163.1 483.3H168.3V486.2H163.1zM168.0 480.6H173.2V483.6H168.0zM177.8 436.2H183.0V439.1H177.8zM187.6 467.6H192.8V470.5H187.6zM192.5 430.9H197.7V433.9H192.5zM202.3 457.1H207.5V460.0H202.3zM207.2 428.3H212.5V431.2H207.2zM207.2 454.5H212.5V457.4H207.2zM226.9 444.0H232.1V446.9H226.9zM246.5 436.2H251.7V439.1H246.5zM251.4 425.7H256.6V428.6H251.4zM256.3 428.3H261.5V431.2H256.3zM261.2 428.3H266.4V433.9H261.2z"/>
<path fill="#f8f09c" d="M60.0 430.9H65.2V433.9H60.0zM60.0 451.9H65.2V454.8H60.0zM74.7 462.3H79.9V465.2H74.7zM99.3 475.4H104.5V478.3H99.3zM104.2 478.0H109.4V480.9H104.2zM118.9 480.6H124.1V483.6H118.9zM123.8 480.6H129.0V483.6H123.8zM128.7 457.1H133.9V460.0H128.7zM133.6 478.0H138.8V480.9H133.6zM138.5 462.3H143.7V465.2H138.5zM138.5 475.4H143.7V480.9H138.5zM143.4 462.3H148.6V465.2H143.4zM143.4 478.0H148.6V480.9H143.4zM148.3 459.7H153.6V462.6H148.3zM153.3 454.5H158.5V457.4H153.3zM163.1 444.0H168.3V446.9H163.1zM172.9 438.8H178.1V441.7H172.9zM177.8 472.8H183.0V475.7H177.8zM182.7 470.2H187.9V473.1H182.7zM197.4 459.7H202.6V462.6H197.4zM212.2 428.3H217.4V431.2H212.2zM231.8 441.4H237.0V444.3H231.8zM236.7 438.8H241.9V441.7H236.7zM251.4 433.6H256.6V436.5H251.4zM256.3 430.9H261.5V433.9H256.3z"/>
<path fill="#fdf0a0" d="M74.7 433.6H79.9V436.5H74.7zM79.6 464.9H84.8V467.9H79.6zM84.5 467.6H89.7V470.5H84.5zM89.4 438.8H94.7V441.7H89.4zM89.4 470.2H94.7V473.1H89.4zM94.4 472.8H99.6V475.7H94.4zM114.0 451.9H119.2V454.8H114.0zM118.9 454.5H124.1V457.4H118.9zM123.8 457.1H129.0V460.0H123.8zM128.7 459.7H133.9V462.6H128.7zM128.7 478.0H133.9V480.9H128.7zM133.6 462.3H138.8V467.9H133.6zM133.6 475.4H138.8V478.3H133.6zM138.5 464.9H143.7V470.5H138.5zM138.5 472.8H143.7V475.7H138.5zM143.4 464.9H148.6V467.9H143.4zM143.4 470.2H148.6V478.3H143.4zM148.3 462.3H153.6V465.2H148.3zM148.3 478.0H153.6V480.9H148.3zM153.3 480.6H158.5V483.6H153.3zM158.2 449.3H163.4V452.2H158.2zM158.2 483.3H163.4V486.2H158.2zM168.0 441.4H173.2V444.3H168.0zM172.9 475.4H178.1V478.3H172.9zM187.6 433.6H192.8V436.5H187.6zM192.5 462.3H197.7V465.2H192.5zM197.4 430.9H202.6V433.9H197.4zM217.1 428.3H222.3V431.2H217.1zM222.0 428.3H227.2V431.2H222.0zM241.6 428.3H246.8V431.2H241.6zM241.6 436.2H246.8V439.1H241.6zM246.5 428.3H251.7V431.2H246.5zM246.5 433.6H251.7V436.5H246.5zM251.4 428.3H256.6V433.9H251.4z"/>
<path fill="#faea9b" d="M64.9 454.5H70.1V457.4H64.9zM69.8 433.6H75.0V436.5H69.8zM94.4 441.4H99.6V444.3H94.4zM109.1 449.3H114.3V452.2H109.1zM109.1 478.0H114.3V480.9H109.1zM114.0 478.0H119.2V480.9H114.0zM118.9 478.0H124.1V480.9H118.9zM123.8 459.7H129.0V462.6H123.8zM123.8 478.0H129.0V480.9H123.8zM128.7 462.3H133.9V465.2H128.7zM128.7 472.8H133.9V478.3H128.7zM133.6 467.6H138.8V475.7H133.6zM138.5 470.2H143.7V473.1H138.5zM143.4 467.6H148.6V470.5H143.4zM148.3 464.9H153.6V470.5H148.3zM148.3 472.8H153.6V478.3H148.3zM153.3 457.1H158.5V460.0H153.3zM163.1 480.6H168.3V483.6H163.1zM168.0 478.0H173.2V480.9H168.0zM212.2 449.3H217.4V452.2H212.2zM217.1 446.6H222.3V449.6H217.1zM222.0 444.0H227.2V446.9H222.0zM226.9 428.3H232.1V431.2H226.9zM231.8 428.3H237.0V431.2H231.8zM236.7 428.3H241.9V431.2H236.7zM246.5 430.9H251.7V433.9H246.5z"/>
<path fill="#f6e396" d="M64.9 433.6H70.1V436.5H64.9zM69.8 457.1H75.0V460.0H69.8zM79.6 436.2H84.8V439.1H79.6zM99.3 444.0H104.5V446.9H99.3zM104.2 446.6H109.4V449.6H104.2zM104.2 475.4H109.4V478.3H104.2zM114.0 454.5H119.2V457.4H114.0zM118.9 457.1H124.1V460.0H118.9zM118.9 475.4H124.1V478.3H118.9zM123.8 462.3H129.0V465.2H123.8zM123.8 475.4H129.0V478.3H123.8zM128.7 464.9H133.9V473.1H128.7zM148.3 470.2H153.6V473.1H148.3zM153.3 459.7H158.5V462.6H153.3zM153.3 478.0H158.5V480.9H153.3zM158.2 480.6H163.4V483.6H158.2zM182.7 436.2H187.9V439.1H182.7zM187.6 464.9H192.8V467.9H187.6zM202.3 430.9H207.5V433.9H202.3zM207.2 430.9H212.5V433.9H207.2zM207.2 451.9H212.5V454.8H207.2zM226.9 441.4H232.1V444.3H226.9zM231.8 438.8H237.0V441.7H231.8zM236.7 436.2H241.9V439.1H236.7zM241.6 430.9H246.8V436.5H241.6z"/>
<path fill="#f3dd92" d="M60.0 433.6H65.2V436.5H60.0zM60.0 449.3H65.2V452.2H60.0zM74.7 459.7H79.9V462.6H74.7zM84.5 438.8H89.7V441.7H84.5zM99.3 472.8H104.5V475.7H99.3zM109.1 451.9H114.3V454.8H109.1zM114.0 475.4H119.2V478.3H114.0zM118.9 459.7H124.1V462.6H118.9zM123.8 464.9H129.0V475.7H123.8zM158.2 451.9H163.4V454.8H158.2zM163.1 446.6H168.3V449.6H163.1zM172.9 441.4H178.1V444.3H172.9zM177.8 438.8H183.0V441.7H177.8zM182.7 467.6H187.9V470.5H182.7zM192.5 433.6H197.7V436.5H192.5zM202.3 454.5H207.5V457.4H202.3zM212.2 430.9H217.4V433.9H212.2zM217.1 430.9H222.3V433.9H217.1zM236.7 430.9H241.9V433.9H236.7z"/>
<path fill="#efd68d" d="M64.9 451.9H70.1V454.8H64.9zM74.7 436.2H79.9V439.1H74.7zM79.6 462.3H84.8V465.2H79.6zM84.5 464.9H89.7V467.9H84.5zM89.4 441.4H94.7V444.3H89.4zM89.4 467.6H94.7V470.5H89.4zM94.4 470.2H99.6V473.1H94.4zM109.1 475.4H114.3V478.3H109.1zM114.0 457.1H119.2V460.0H114.0zM118.9 462.3H124.1V465.2H118.9zM118.9 472.8H124.1V475.7H118.9zM153.3 462.3H158.5V467.9H153.3zM153.3 472.8H158.5V478.3H153.3zM163.1 478.0H168.3V480.9H163.1zM168.0 444.0H173.2V446.9H168.0zM172.9 472.8H178.1V475.7H172.9zM177.8 470.2H183.0V473.1H177.8zM197.4 457.1H202.6V460.0H197.4zM222.0 430.9H227.2V433.9H222.0zM226.9 430.9H232.1V433.9H226.9zM226.9 438.8H232.1V441.7H226.9zM231.8 430.9H237.0V433.9H231.8zM231.8 436.2H237.0V439.1H231.8zM236.7 433.6H241.9V436.5H236.7z"/>
<path fill="#ecd088" d="M94.4 444.0H99.6V446.9H94.4zM104.2 449.3H109.4V452.2H104.2zM114.0 459.7H119.2V462.6H114.0zM114.0 472.8H119.2V475.7H114.0zM118.9 464.9H124.1V473.1H118.9zM153.3 467.6H158.5V473.1H153.3zM158.2 454.5H163.4V457.4H158.2zM158.2 478.0H163.4V480.9H158.2zM168.0 475.4H173.2V478.3H168.0zM187.6 436.2H192.8V439.1H187.6zM192.5 459.7H197.7V462.6H192.5zM197.4 433.6H202.6V436.5H197.4zM212.2 446.6H217.4V449.6H212.2zM217.1 444.0H222.3V446.9H217.1zM222.0 441.4H227.2V444.3H222.0zM231.8 433.6H237.0V436.5H231.8z"/>
<path fill="#e5c682" d="M60.0 436.2H65.2V439.1H60.0zM60.0 446.6H65.2V449.6H60.0zM64.9 436.2H70.1V439.1H64.9zM69.8 436.2H75.0V439.1H69.8zM69.8 454.5H75.0V457.4H69.8zM79.6 438.8H84.8V441.7H79.6zM99.3 446.6H104.5V449.6H99.3zM104.2 472.8H109.4V475.7H104.2zM109.1 454.5H114.3V457.4H109.1zM109.1 472.8H114.3V475.7H109.1zM114.0 462.3H119.2V465.2H114.0zM114.0 470.2H119.2V473.1H114.0zM158.2 475.4H163.4V478.3H158.2zM163.1 449.3H168.3V452.2H163.1zM182.7 438.8H187.9V441.7H182.7zM202.3 433.6H207.5V436.5H202.3zM226.9 433.6H232.1V439.1H226.9z"/>
<path fill="#debd7b" d="M74.7 457.1H79.9V460.0H74.7zM99.3 470.2H104.5V473.1H99.3zM114.0 464.9H119.2V470.5H114.0zM158.2 457.1H163.4V460.0H158.2zM163.1 475.4H168.3V478.3H163.1zM187.6 462.3H192.8V465.2H187.6zM202.3 451.9H207.5V454.8H202.3zM207.2 433.6H212.5V436.5H207.2zM207.2 449.3H212.5V452.2H207.2zM212.2 433.6H217.4V436.5H212.2zM217.1 433.6H222.3V436.5H217.1zM222.0 433.6H227.2V436.5H222.0zM222.0 438.8H227.2V441.7H222.0z"/>
<path fill="#d6b375" d="M60.0 438.8H65.2V441.7H60.0zM60.0 444.0H65.2V446.9H60.0zM64.9 449.3H70.1V452.2H64.9zM74.7 438.8H79.9V441.7H74.7zM79.6 459.7H84.8V462.6H79.6zM84.5 441.4H89.7V444.3H84.5zM89.4 464.9H94.7V467.9H89.4zM94.4 467.6H99.6V470.5H94.4zM104.2 451.9H109.4V454.8H104.2zM109.1 457.1H114.3V460.0H109.1zM109.1 470.2H114.3V473.1H109.1zM158.2 459.7H163.4V462.6H158.2zM168.0 446.6H173.2V449.6H168.0zM172.9 444.0H178.1V446.9H172.9zM177.8 441.4H183.0V444.3H177.8zM182.7 464.9H187.9V467.9H182.7zM192.5 436.2H197.7V439.1H192.5zM217.1 441.4H222.3V444.3H217.1zM222.0 436.2H227.2V439.1H222.0z"/>
<path fill="#cfaa6e" d="M60.0 441.4H65.2V444.3H60.0zM64.9 438.8H70.1V441.7H64.9zM69.8 438.8H75.0V441.7H69.8zM84.5 462.3H89.7V465.2H84.5zM89.4 444.0H94.7V446.9H89.4zM94.4 446.6H99.6V449.6H94.4zM104.2 470.2H109.4V473.1H104.2zM109.1 467.6H114.3V470.5H109.1zM158.2 472.8H163.4V475.7H158.2zM163.1 451.9H168.3V454.8H163.1zM168.0 472.8H173.2V475.7H168.0zM172.9 470.2H178.1V473.1H172.9zM177.8 467.6H183.0V470.5H177.8zM197.4 454.5H202.6V457.4H197.4zM212.2 444.0H217.4V446.9H212.2zM217.1 436.2H222.3V439.1H217.1z"/>
<path fill="#c8a068" d="M64.9 446.6H70.1V449.6H64.9zM69.8 451.9H75.0V454.8H69.8zM99.3 449.3H104.5V452.2H99.3zM109.1 459.7H114.3V467.9H109.1zM158.2 462.3H163.4V467.9H158.2zM158.2 470.2H163.4V473.1H158.2zM187.6 438.8H192.8V441.7H187.6zM192.5 457.1H197.7V460.0H192.5zM197.4 436.2H202.6V439.1H197.4zM207.2 446.6H212.5V449.6H207.2zM212.2 436.2H217.4V439.1H212.2zM217.1 438.8H222.3V441.7H217.1z"/>
<path fill="#c29663" d="M64.9 441.4H70.1V444.3H64.9zM74.7 454.5H79.9V457.4H74.7zM79.6 441.4H84.8V444.3H79.6zM84.5 444.0H89.7V446.9H84.5zM99.3 467.6H104.5V470.5H99.3zM104.2 454.5H109.4V457.4H104.2zM158.2 467.6H163.4V470.5H158.2zM163.1 472.8H168.3V475.7H163.1zM202.3 436.2H207.5V439.1H202.3zM207.2 436.2H212.5V439.1H207.2zM212.2 441.4H217.4V444.3H212.2z"/>
<path fill="#bb8d5e" d="M64.9 444.0H70.1V446.9H64.9zM69.8 441.4H75.0V444.3H69.8zM69.8 449.3H75.0V452.2H69.8zM74.7 441.4H79.9V444.3H74.7zM79.6 457.1H84.8V460.0H79.6zM84.5 459.7H89.7V462.6H84.5zM89.4 462.3H94.7V465.2H89.4zM94.4 464.9H99.6V467.9H94.4zM99.3 451.9H104.5V454.8H99.3zM104.2 467.6H109.4V470.5H104.2zM163.1 454.5H168.3V457.4H163.1zM168.0 449.3H173.2V452.2H168.0zM182.7 441.4H187.9V444.3H182.7zM187.6 459.7H192.8V462.6H187.6zM202.3 449.3H207.5V452.2H202.3zM212.2 438.8H217.4V441.7H212.2z"/>
<path fill="#b5835a" d="M69.8 444.0H75.0V446.9H69.8zM89.4 446.6H94.7V449.6H89.4zM94.4 449.3H99.6V452.2H94.4zM104.2 457.1H109.4V460.0H104.2zM104.2 464.9H109.4V467.9H104.2zM163.1 470.2H168.3V473.1H163.1zM168.0 470.2H173.2V473.1H168.0zM172.9 446.6H178.1V449.6H172.9zM177.8 444.0H183.0V446.9H177.8zM182.7 462.3H187.9V465.2H182.7zM192.5 438.8H197.7V441.7H192.5zM197.4 451.9H202.6V454.8H197.4zM207.2 438.8H212.5V441.7H207.2zM207.2 444.0H212.5V446.9H207.2z"/>
<path fill="#ae7a55" d="M69.8 446.6H75.0V449.6H69.8zM74.7 451.9H79.9V454.8H74.7zM79.6 444.0H84.8V446.9H79.6zM99.3 464.9H104.5V467.9H99.3zM104.2 459.7H109.4V465.2H104.2zM172.9 467.6H178.1V470.5H172.9zM177.8 464.9H183.0V467.9H177.8zM197.4 438.8H202.6V441.7H197.4zM202.3 438.8H207.5V441.7H202.3zM202.3 446.6H207.5V449.6H202.3zM207.2 441.4H212.5V444.3H207.2z"/>
<path fill="#a87050" d="M74.7 444.0H79.9V446.9H74.7zM79.6 454.5H84.8V457.4H79.6zM84.5 446.6H89.7V449.6H84.5zM94.4 462.3H99.6V465.2H94.4zM99.3 454.5H104.5V457.4H99.3zM163.1 457.1H168.3V460.0H163.1zM163.1 467.6H168.3V470.5H163.1zM187.6 441.4H192.8V444.3H187.6zM192.5 454.5H197.7V457.4H192.5z"/>
<path fill="#a2694c" d="M74.7 446.6H79.9V452.2H74.7zM84.5 457.1H89.7V460.0H84.5zM89.4 449.3H94.7V452.2H89.4zM89.4 459.7H94.7V462.6H89.4zM94.4 451.9H99.6V454.8H94.4zM99.3 457.1H104.5V460.0H99.3zM99.3 462.3H104.5V465.2H99.3zM163.1 459.7H168.3V462.6H163.1zM163.1 464.9H168.3V467.9H163.1zM168.0 451.9H173.2V454.8H168.0zM168.0 467.6H173.2V470.5H168.0zM187.6 457.1H192.8V460.0H187.6zM202.3 441.4H207.5V444.3H202.3z"/>
<path fill="#9c6248" d="M79.6 446.6H84.8V449.6H79.6zM79.6 451.9H84.8V454.8H79.6zM84.5 449.3H89.7V452.2H84.5zM94.4 459.7H99.6V462.6H94.4zM99.3 459.7H104.5V462.6H99.3zM163.1 462.3H168.3V465.2H163.1zM172.9 449.3H178.1V452.2H172.9zM172.9 464.9H178.1V467.9H172.9zM182.7 444.0H187.9V446.9H182.7zM192.5 441.4H197.7V444.3H192.5zM197.4 441.4H202.6V444.3H197.4zM197.4 449.3H202.6V452.2H197.4zM202.3 444.0H207.5V446.9H202.3z"/>
<path fill="#965a44" d="M79.6 449.3H84.8V452.2H79.6zM84.5 454.5H89.7V457.4H84.5zM89.4 451.9H94.7V460.0H89.4zM94.4 454.5H99.6V460.0H94.4zM177.8 446.6H183.0V449.6H177.8zM177.8 462.3H183.0V465.2H177.8zM182.7 459.7H187.9V462.6H182.7zM192.5 451.9H197.7V454.8H192.5zM197.4 446.6H202.6V449.6H197.4z"/>
<path fill="#905340" d="M84.5 451.9H89.7V454.8H84.5zM168.0 454.5H173.2V457.4H168.0zM168.0 464.9H173.2V467.9H168.0zM187.6 444.0H192.8V446.9H187.6zM197.4 444.0H202.6V446.9H197.4z"/>
<path fill="#8a4c3c" d="M187.6 454.5H192.8V457.4H187.6zM192.5 444.0H197.7V446.9H192.5zM192.5 449.3H197.7V452.2H192.5z"/>
<path fill="#8d5040" d="M168.0 457.1H173.2V465.2H168.0zM172.9 451.9H178.1V454.8H172.9zM172.9 462.3H178.1V465.2H172.9zM182.7 446.6H187.9V449.6H182.7zM192.5 446.6H197.7V449.6H192.5z"/>
<path fill="#905545" d="M177.8 449.3H183.0V452.2H177.8zM177.8 459.7H183.0V462.6H177.8zM182.7 457.1H187.9V460.0H182.7z"/>
<path fill="#935949" d="M172.9 454.5H178.1V457.4H172.9zM172.9 459.7H178.1V462.6H172.9zM187.6 446.6H192.8V454.8H187.6z"/>
<path fill="#965e4e" d="M172.9 457.1H178.1V460.0H172.9zM182.7 449.3H187.9V452.2H182.7z"/>
<path fill="#996252" d="M177.8 451.9H183.0V460.0H177.8zM182.7 451.9H187.9V457.4H182.7z"/>
</g>
<rect x="60" y="336.8" width="240.5" height="240.59999999999997" fill="none" stroke="#000" stroke-width="1.5"/>
<line x1="86.72" y1="577.40" x2="86.72" y2="572.90" stroke="#0a1a40" stroke-width="1.3" />
<line x1="86.72" y1="336.80" x2="86.72" y2="341.30" stroke="#0a1a40" stroke-width="1.3" />
<line x1="140.17" y1="577.40" x2="140.17" y2="572.90" stroke="#0a1a40" stroke-width="1.3" />
<line x1="140.17" y1="336.80" x2="140.17" y2="341.30" stroke="#0a1a40" stroke-width="1.3" />
<line x1="193.61" y1="577.40" x2="193.61" y2="572.90" stroke="#0a1a40" stroke-width="1.3" />
<line x1="193.61" y1="336.80" x2="193.61" y2="341.30" stroke="#0a1a40" stroke-width="1.3" />
<line x1="247.06" y1="577.40" x2="247.06" y2="572.90" stroke="#0a1a40" stroke-width="1.3" />
<line x1="247.06" y1="336.80" x2="247.06" y2="341.30" stroke="#0a1a40" stroke-width="1.3" />
<line x1="60.00" y1="543.03" x2="64.50" y2="543.03" stroke="#0a1a40" stroke-width="1.3" />
<line x1="300.50" y1="543.03" x2="296.00" y2="543.03" stroke="#0a1a40" stroke-width="1.3" />
<line x1="60.00" y1="508.66" x2="64.50" y2="508.66" stroke="#0a1a40" stroke-width="1.3" />
<line x1="300.50" y1="508.66" x2="296.00" y2="508.66" stroke="#0a1a40" stroke-width="1.3" />
<line x1="60.00" y1="474.29" x2="64.50" y2="474.29" stroke="#0a1a40" stroke-width="1.3" />
<line x1="300.50" y1="474.29" x2="296.00" y2="474.29" stroke="#0a1a40" stroke-width="1.3" />
<line x1="60.00" y1="439.91" x2="64.50" y2="439.91" stroke="#0a1a40" stroke-width="1.3" />
<line x1="300.50" y1="439.91" x2="296.00" y2="439.91" stroke="#0a1a40" stroke-width="1.3" />
<line x1="60.00" y1="405.54" x2="64.50" y2="405.54" stroke="#0a1a40" stroke-width="1.3" />
<line x1="300.50" y1="405.54" x2="296.00" y2="405.54" stroke="#0a1a40" stroke-width="1.3" />
<line x1="60.00" y1="371.17" x2="64.50" y2="371.17" stroke="#0a1a40" stroke-width="1.3" />
<line x1="300.50" y1="371.17" x2="296.00" y2="371.17" stroke="#0a1a40" stroke-width="1.3" />
<text x="86.7" y="594.5" font-size="14" text-anchor="middle" >-0.5</text>
<text x="140.2" y="594.5" font-size="14" text-anchor="middle" >0.0</text>
<text x="193.6" y="594.5" font-size="14" text-anchor="middle" >0.5</text>
<text x="247.1" y="594.5" font-size="14" text-anchor="middle" >1.0</text>
<text x="300.5" y="594.5" font-size="14" text-anchor="middle" >1.5</text>
<text x="56.5" y="582.2" font-size="14" text-anchor="end" >1550</text>
<text x="56.5" y="547.8" font-size="14" text-anchor="end" >1560</text>
<text x="56.5" y="513.5" font-size="14" text-anchor="end" >1570</text>
<text x="56.5" y="479.1" font-size="14" text-anchor="end" >1580</text>
<text x="56.5" y="444.7" font-size="14" text-anchor="end" >1590</text>
<text x="56.5" y="410.3" font-size="14" text-anchor="end" >1600</text>
<text x="56.5" y="376.0" font-size="14" text-anchor="end" >1610</text>
<text x="56.5" y="341.6" font-size="14" text-anchor="end" >1620</text>
<text x="2.2" y="326.2" font-size="20.5" text-anchor="start" >(c)</text>
<text x="181.0" y="615.0" font-size="15" text-anchor="middle" >Gate Voltage (Volt)</text>
<text transform="translate(17,522.4) rotate(-90)" font-size="15.5" text-anchor="start">Wavenumber (cm<tspan dy="-11.5" font-size="9.5">-1</tspan><tspan dy="11.5" dx="-2.7">)</tspan></text>
<g shape-rendering="crispEdges">
<path fill="#4469be" d="M501.4 542.3H512.9V547.6H501.4zM591.2 542.3H602.7V547.6H591.2z"/>
<path fill="#4a76c4" d="M368.0 542.3H378.1V547.6H368.0zM368.0 552.3H378.1V562.7H368.0zM368.0 567.4H378.1V572.7H368.0zM377.8 336.8H389.4V347.1H377.8zM377.8 572.4H389.4V577.7H377.8zM389.1 336.8H400.6V342.1H389.1zM389.1 557.3H400.6V562.7H389.1zM400.3 557.3H411.8V562.7H400.3zM400.3 572.4H411.8V577.7H400.3zM411.5 336.8H423.1V347.1H411.5zM411.5 351.8H423.1V357.2H411.5zM422.8 336.8H434.3V342.1H422.8zM422.8 351.8H434.3V357.2H422.8zM456.4 341.8H468.0V347.1H456.4zM467.7 557.3H479.2V562.7H467.7zM467.7 572.4H479.2V577.7H467.7zM478.9 527.3H490.4V532.6H478.9zM478.9 537.3H490.4V557.6H478.9zM478.9 572.4H490.4V577.7H478.9zM490.1 537.3H501.7V567.7H490.1zM501.4 537.3H512.9V542.6H501.4zM501.4 547.3H512.9V552.6H501.4zM501.4 557.3H512.9V562.7H501.4zM501.4 567.4H512.9V577.7H501.4zM512.6 527.3H524.1V532.6H512.6zM512.6 537.3H524.1V577.7H512.6zM523.8 507.2H535.4V512.5H523.8zM523.8 527.3H535.4V532.6H523.8zM523.8 537.3H535.4V562.7H523.8zM523.8 567.4H535.4V577.7H523.8zM535.1 492.2H546.6V497.5H535.1zM535.1 517.2H546.6V522.6H535.1zM535.1 527.3H546.6V532.6H535.1zM535.1 537.3H546.6V557.6H535.1zM535.1 567.4H546.6V577.7H535.1zM546.3 517.2H557.8V522.6H546.3zM546.3 527.3H557.8V532.6H546.3zM546.3 537.3H557.8V562.7H546.3zM546.3 572.4H557.8V577.7H546.3zM557.5 517.2H569.0V577.7H557.5zM568.7 517.2H580.3V532.6H568.7zM568.7 537.3H580.3V567.7H568.7zM568.7 572.4H580.3V577.7H568.7zM580.0 527.3H591.5V532.6H580.0zM580.0 537.3H591.5V562.7H580.0zM580.0 572.4H591.5V577.7H580.0zM591.2 527.3H602.7V532.6H591.2zM591.2 537.3H602.7V542.6H591.2zM591.2 547.3H602.7V562.7H591.2zM591.2 567.4H602.7V577.7H591.2zM602.4 517.2H608.5V522.6H602.4zM602.4 527.3H608.5V532.6H602.4zM602.4 537.3H608.5V567.7H602.4zM602.4 572.4H608.5V577.7H602.4z"/>
<path fill="#5083ca" d="M368.0 336.8H378.1V347.1H368.0zM368.0 527.3H378.1V532.6H368.0zM368.0 537.3H378.1V542.6H368.0zM368.0 547.3H378.1V552.6H368.0zM368.0 562.4H378.1V567.7H368.0zM368.0 572.4H378.1V577.7H368.0zM377.8 351.8H389.4V357.2H377.8zM377.8 366.9H389.4V372.2H377.8zM377.8 542.3H389.4V572.7H377.8zM389.1 341.8H400.6V347.1H389.1zM389.1 351.8H400.6V362.2H389.1zM389.1 537.3H400.6V557.6H389.1zM389.1 562.4H400.6V577.7H389.1zM400.3 336.8H411.8V347.1H400.3zM400.3 351.8H411.8V362.2H400.3zM400.3 537.3H411.8V557.6H400.3zM400.3 562.4H411.8V572.7H400.3zM411.5 356.9H423.1V362.2H411.5zM411.5 366.9H423.1V372.2H411.5zM411.5 542.3H423.1V552.6H411.5zM411.5 557.3H423.1V562.7H411.5zM411.5 567.4H423.1V577.7H411.5zM422.8 341.8H434.3V352.1H422.8zM422.8 356.9H434.3V362.2H422.8zM422.8 366.9H434.3V372.2H422.8zM422.8 537.3H434.3V547.6H422.8zM422.8 552.3H434.3V562.7H422.8zM422.8 567.4H434.3V577.7H422.8zM434.0 336.8H445.5V347.1H434.0zM434.0 351.8H445.5V357.2H434.0zM434.0 552.3H445.5V562.7H434.0zM434.0 572.4H445.5V577.7H434.0zM445.2 336.8H456.7V347.1H445.2zM445.2 351.8H456.7V362.2H445.2zM445.2 567.4H456.7V577.7H445.2zM456.4 336.8H468.0V342.1H456.4zM456.4 351.8H468.0V362.2H456.4zM456.4 366.9H468.0V372.2H456.4zM456.4 542.3H468.0V547.6H456.4zM456.4 552.3H468.0V562.7H456.4zM456.4 567.4H468.0V577.7H456.4zM467.7 336.8H479.2V347.1H467.7zM467.7 351.8H479.2V357.2H467.7zM467.7 537.3H479.2V557.6H467.7zM467.7 562.4H479.2V572.7H467.7zM478.9 336.8H490.4V347.1H478.9zM478.9 351.8H490.4V357.2H478.9zM478.9 517.2H490.4V527.6H478.9zM478.9 557.3H490.4V572.7H478.9zM490.1 336.8H501.7V347.1H490.1zM490.1 351.8H501.7V357.2H490.1zM490.1 507.2H501.7V532.6H490.1zM490.1 567.4H501.7V577.7H490.1zM501.4 336.8H512.9V347.1H501.4zM501.4 507.2H512.9V537.6H501.4zM501.4 552.3H512.9V557.6H501.4zM501.4 562.4H512.9V567.7H501.4zM512.6 336.8H524.1V347.1H512.6zM512.6 502.2H524.1V527.6H512.6zM512.6 532.3H524.1V537.6H512.6zM523.8 336.8H535.4V347.1H523.8zM523.8 492.2H535.4V497.5H523.8zM523.8 502.2H535.4V507.5H523.8zM523.8 512.2H535.4V527.6H523.8zM523.8 532.3H535.4V537.6H523.8zM523.8 562.4H535.4V567.7H523.8zM535.1 336.8H546.6V347.1H535.1zM535.1 497.2H546.6V517.5H535.1zM535.1 522.3H546.6V527.6H535.1zM535.1 532.3H546.6V537.6H535.1zM535.1 557.3H546.6V567.7H535.1zM546.3 336.8H557.8V347.1H546.3zM546.3 492.2H557.8V517.5H546.3zM546.3 522.3H557.8V527.6H546.3zM546.3 532.3H557.8V537.6H546.3zM546.3 562.4H557.8V572.7H546.3zM557.5 336.8H569.0V342.1H557.5zM557.5 492.2H569.0V517.5H557.5zM568.7 336.8H580.3V347.1H568.7zM568.7 492.2H580.3V497.5H568.7zM568.7 502.2H580.3V517.5H568.7zM568.7 532.3H580.3V537.6H568.7zM568.7 567.4H580.3V572.7H568.7zM580.0 492.2H591.5V527.6H580.0zM580.0 532.3H591.5V537.6H580.0zM580.0 562.4H591.5V572.7H580.0zM591.2 492.2H602.7V527.6H591.2zM591.2 532.3H602.7V537.6H591.2zM591.2 562.4H602.7V567.7H591.2zM602.4 336.8H608.5V342.1H602.4zM602.4 497.2H608.5V517.5H602.4zM602.4 522.3H608.5V527.6H602.4zM602.4 532.3H608.5V537.6H602.4zM602.4 567.4H608.5V572.7H602.4z"/>
<path fill="#5590d0" d="M368.0 351.8H378.1V362.2H368.0zM368.0 517.2H378.1V527.6H368.0zM368.0 532.3H378.1V537.6H368.0zM377.8 346.8H389.4V352.1H377.8zM377.8 356.9H389.4V367.2H377.8zM377.8 527.3H389.4V532.6H377.8zM377.8 537.3H389.4V542.6H377.8zM389.1 346.8H400.6V352.1H389.1zM389.1 361.9H400.6V372.2H389.1zM389.1 527.3H400.6V537.6H389.1zM400.3 346.8H411.8V352.1H400.3zM400.3 361.9H411.8V372.2H400.3zM400.3 527.3H411.8V537.6H400.3zM411.5 346.8H423.1V352.1H411.5zM411.5 361.9H423.1V367.2H411.5zM411.5 371.9H423.1V377.2H411.5zM411.5 537.3H423.1V542.6H411.5zM411.5 552.3H423.1V557.6H411.5zM411.5 562.4H423.1V567.7H411.5zM422.8 361.9H434.3V367.2H422.8zM422.8 371.9H434.3V377.2H422.8zM422.8 547.3H434.3V552.6H422.8zM422.8 562.4H434.3V567.7H422.8zM434.0 346.8H445.5V352.1H434.0zM434.0 356.9H445.5V372.2H434.0zM434.0 537.3H445.5V552.6H434.0zM434.0 562.4H445.5V572.7H434.0zM445.2 346.8H456.7V352.1H445.2zM445.2 371.9H456.7V377.2H445.2zM445.2 542.3H456.7V567.7H445.2zM456.4 346.8H468.0V352.1H456.4zM456.4 361.9H468.0V367.2H456.4zM456.4 371.9H468.0V377.2H456.4zM456.4 537.3H468.0V542.6H456.4zM456.4 547.3H468.0V552.6H456.4zM456.4 562.4H468.0V567.7H456.4zM467.7 346.8H479.2V352.1H467.7zM467.7 356.9H479.2V362.2H467.7zM467.7 366.9H479.2V372.2H467.7zM467.7 522.3H479.2V537.6H467.7zM478.9 346.8H490.4V352.1H478.9zM478.9 356.9H490.4V362.2H478.9zM478.9 502.2H490.4V517.5H478.9zM478.9 532.3H490.4V537.6H478.9zM490.1 346.8H501.7V352.1H490.1zM490.1 356.9H501.7V372.2H490.1zM490.1 497.2H501.7V507.5H490.1zM490.1 532.3H501.7V537.6H490.1zM501.4 346.8H512.9V357.2H501.4zM501.4 492.2H512.9V507.5H501.4zM512.6 351.8H524.1V357.2H512.6zM512.6 487.2H524.1V502.5H512.6zM523.8 351.8H535.4V357.2H523.8zM523.8 497.2H535.4V502.5H523.8zM535.1 351.8H546.6V357.2H535.1zM535.1 482.2H546.6V487.5H535.1zM546.3 487.2H557.8V492.5H546.3zM557.5 341.8H569.0V347.1H557.5zM557.5 351.8H569.0V357.2H557.5zM557.5 487.2H569.0V492.5H557.5zM568.7 482.2H580.3V487.5H568.7zM568.7 497.2H580.3V502.5H568.7zM580.0 336.8H591.5V347.1H580.0zM580.0 482.2H591.5V492.5H580.0zM591.2 336.8H602.7V347.1H591.2zM591.2 482.2H602.7V492.5H591.2zM602.4 341.8H608.5V347.1H602.4zM602.4 482.2H608.5V497.5H602.4z"/>
<path fill="#5499d4" d="M368.0 346.8H378.1V352.1H368.0zM368.0 361.9H378.1V372.2H368.0zM368.0 507.2H378.1V517.5H368.0zM377.8 371.9H389.4V377.2H377.8zM377.8 512.2H389.4V527.6H377.8zM377.8 532.3H389.4V537.6H377.8zM389.1 371.9H400.6V377.2H389.1zM389.1 512.2H400.6V527.6H389.1zM400.3 371.9H411.8V377.2H400.3zM400.3 522.3H411.8V527.6H400.3zM411.5 376.9H423.1V387.2H411.5zM411.5 527.3H423.1V537.6H411.5zM422.8 376.9H434.3V387.2H422.8zM422.8 517.2H434.3V522.6H422.8zM422.8 527.3H434.3V537.6H422.8zM434.0 371.9H445.5V377.2H434.0zM445.2 361.9H456.7V372.2H445.2zM445.2 537.3H456.7V542.6H445.2zM456.4 376.9H468.0V387.2H456.4zM456.4 527.3H468.0V537.6H456.4zM467.7 361.9H479.2V367.2H467.7zM467.7 371.9H479.2V377.2H467.7zM467.7 512.2H479.2V522.6H467.7zM478.9 361.9H490.4V372.2H478.9zM478.9 497.2H490.4V502.5H478.9zM490.1 371.9H501.7V377.2H490.1zM490.1 492.2H501.7V497.5H490.1zM501.4 356.9H512.9V362.2H501.4zM512.6 346.8H524.1V352.1H512.6zM512.6 356.9H524.1V362.2H512.6zM512.6 482.2H524.1V487.5H512.6zM523.8 346.8H535.4V352.1H523.8zM523.8 356.9H535.4V362.2H523.8zM523.8 482.2H535.4V492.5H523.8zM535.1 346.8H546.6V352.1H535.1zM535.1 356.9H546.6V362.2H535.1zM535.1 487.2H546.6V492.5H535.1zM546.3 346.8H557.8V362.2H546.3zM546.3 482.2H557.8V487.5H546.3zM557.5 346.8H569.0V352.1H557.5zM557.5 477.1H569.0V487.5H557.5zM568.7 346.8H580.3V357.2H568.7zM568.7 487.2H580.3V492.5H568.7zM580.0 346.8H591.5V357.2H580.0zM580.0 472.1H591.5V482.5H580.0zM591.2 351.8H602.7V357.2H591.2zM602.4 472.1H608.5V482.5H602.4z"/>
<path fill="#52a2d7" d="M368.0 371.9H378.1V377.2H368.0zM368.0 502.2H378.1V507.5H368.0zM377.8 376.9H389.4V382.2H377.8zM377.8 507.2H389.4V512.5H377.8zM389.1 376.9H400.6V382.2H389.1zM389.1 507.2H400.6V512.5H389.1zM400.3 376.9H411.8V382.2H400.3zM400.3 512.2H411.8V522.6H400.3zM411.5 386.9H423.1V392.2H411.5zM411.5 517.2H423.1V527.6H411.5zM422.8 386.9H434.3V392.2H422.8zM422.8 522.3H434.3V527.6H422.8zM434.0 376.9H445.5V387.2H434.0zM434.0 527.3H445.5V537.6H434.0zM445.2 376.9H456.7V387.2H445.2zM445.2 527.3H456.7V537.6H445.2zM456.4 386.9H468.0V392.2H456.4zM456.4 512.2H468.0V527.6H456.4zM467.7 376.9H479.2V382.2H467.7zM467.7 502.2H479.2V512.5H467.7zM478.9 371.9H490.4V377.2H478.9zM478.9 492.2H490.4V497.5H478.9zM490.1 487.2H501.7V492.5H490.1zM501.4 361.9H512.9V372.2H501.4zM501.4 482.2H512.9V492.5H501.4zM512.6 477.1H524.1V482.5H512.6zM523.8 477.1H535.4V482.5H523.8zM535.1 472.1H546.6V482.5H535.1zM546.3 472.1H557.8V482.5H546.3zM557.5 356.9H569.0V362.2H557.5zM557.5 472.1H569.0V477.4H557.5zM568.7 356.9H580.3V362.2H568.7zM568.7 472.1H580.3V482.5H568.7zM580.0 356.9H591.5V362.2H580.0zM580.0 467.1H591.5V472.4H580.0zM591.2 346.8H602.7V352.1H591.2zM591.2 356.9H602.7V362.2H591.2zM591.2 472.1H602.7V482.5H591.2zM602.4 346.8H608.5V357.2H602.4z"/>
<path fill="#41b7c8" d="M368.0 376.9H378.1V382.2H368.0zM368.0 497.2H378.1V502.5H368.0zM377.8 381.9H389.4V387.2H377.8zM377.8 502.2H389.4V507.5H377.8zM389.1 381.9H400.6V387.2H389.1zM389.1 502.2H400.6V507.5H389.1zM400.3 381.9H411.8V387.2H400.3zM400.3 507.2H411.8V512.5H400.3zM411.5 512.2H423.1V517.5H411.5zM422.8 391.9H434.3V397.2H422.8zM422.8 512.2H434.3V517.5H422.8zM434.0 386.9H445.5V392.2H434.0zM434.0 522.3H445.5V527.6H434.0zM445.2 386.9H456.7V392.2H445.2zM445.2 522.3H456.7V527.6H445.2zM467.7 381.9H479.2V387.2H467.7zM478.9 376.9H490.4V382.2H478.9zM478.9 487.2H490.4V492.5H478.9zM490.1 376.9H501.7V382.2H490.1zM490.1 482.2H501.7V487.5H490.1zM512.6 361.9H524.1V372.2H512.6zM523.8 361.9H535.4V367.2H523.8zM523.8 472.1H535.4V477.4H523.8zM535.1 361.9H546.6V367.2H535.1zM535.1 467.1H546.6V472.4H535.1zM546.3 361.9H557.8V367.2H546.3zM557.5 467.1H569.0V472.4H557.5zM568.7 361.9H580.3V367.2H568.7zM602.4 356.9H608.5V362.2H602.4zM602.4 467.1H608.5V472.4H602.4z"/>
<path fill="#3fbc83" d="M368.0 492.2H378.1V497.5H368.0zM377.8 497.2H389.4V502.5H377.8zM389.1 386.9H400.6V392.2H389.1zM389.1 497.2H400.6V502.5H389.1zM400.3 386.9H411.8V392.2H400.3zM400.3 502.2H411.8V507.5H400.3zM411.5 391.9H423.1V397.2H411.5zM411.5 507.2H423.1V512.5H411.5zM422.8 507.2H434.3V512.5H422.8zM434.0 512.2H445.5V522.6H434.0zM445.2 512.2H456.7V522.6H445.2zM456.4 391.9H468.0V397.2H456.4zM456.4 507.2H468.0V512.5H456.4zM467.7 497.2H479.2V502.5H467.7zM478.9 381.9H490.4V387.2H478.9zM478.9 482.2H490.4V487.5H478.9zM490.1 381.9H501.7V387.2H490.1zM490.1 477.1H501.7V482.5H490.1zM501.4 371.9H512.9V377.2H501.4zM501.4 477.1H512.9V482.5H501.4zM512.6 472.1H524.1V477.4H512.6zM523.8 366.9H535.4V372.2H523.8zM535.1 366.9H546.6V372.2H535.1zM546.3 366.9H557.8V372.2H546.3zM546.3 467.1H557.8V472.4H546.3zM557.5 361.9H569.0V372.2H557.5zM568.7 467.1H580.3V472.4H568.7zM580.0 361.9H591.5V367.2H580.0zM580.0 462.1H591.5V467.4H580.0zM591.2 361.9H602.7V367.2H591.2zM591.2 467.1H602.7V472.4H591.2zM602.4 361.9H608.5V367.2H602.4zM602.4 462.1H608.5V467.4H602.4z"/>
<path fill="#45b94f" d="M368.0 487.2H378.1V492.5H368.0zM377.8 386.9H389.4V392.2H377.8zM377.8 492.2H389.4V497.5H377.8zM400.3 497.2H411.8V502.5H400.3zM411.5 502.2H423.1V507.5H411.5zM422.8 396.9H434.3V402.3H422.8zM422.8 502.2H434.3V507.5H422.8zM434.0 391.9H445.5V397.2H434.0zM445.2 391.9H456.7V397.2H445.2zM456.4 502.2H468.0V507.5H456.4zM467.7 386.9H479.2V392.2H467.7zM501.4 472.1H512.9V477.4H501.4zM512.6 371.9H524.1V377.2H512.6zM512.6 467.1H524.1V472.4H512.6zM523.8 371.9H535.4V377.2H523.8zM523.8 467.1H535.4V472.4H523.8zM535.1 371.9H546.6V377.2H535.1zM557.5 462.1H569.0V467.4H557.5zM568.7 366.9H580.3V372.2H568.7zM580.0 366.9H591.5V372.2H580.0zM591.2 462.1H602.7V467.4H591.2z"/>
<path fill="#47ba4e" d="M368.0 381.9H378.1V387.2H368.0zM389.1 492.2H400.6V497.5H389.1zM400.3 391.9H411.8V397.2H400.3zM411.5 396.9H423.1V402.3H411.5zM411.5 497.2H423.1V502.5H411.5zM422.8 497.2H434.3V502.5H422.8zM434.0 396.9H445.5V402.3H434.0zM434.0 507.2H445.5V512.5H434.0zM445.2 507.2H456.7V512.5H445.2zM456.4 396.9H468.0V402.3H456.4zM467.7 391.9H479.2V397.2H467.7zM467.7 492.2H479.2V497.5H467.7zM478.9 477.1H490.4V482.5H478.9zM490.1 472.1H501.7V477.4H490.1zM501.4 376.9H512.9V382.2H501.4zM535.1 462.1H546.6V467.4H535.1zM546.3 371.9H557.8V377.2H546.3zM546.3 462.1H557.8V467.4H546.3zM568.7 462.1H580.3V467.4H568.7zM591.2 366.9H602.7V372.2H591.2zM602.4 366.9H608.5V372.2H602.4zM602.4 457.1H608.5V462.4H602.4z"/>
<path fill="#49bb4d" d="M368.0 386.9H378.1V392.2H368.0zM368.0 482.2H378.1V487.5H368.0zM377.8 487.2H389.4V492.5H377.8zM389.1 391.9H400.6V397.2H389.1zM389.1 487.2H400.6V492.5H389.1zM400.3 492.2H411.8V497.5H400.3zM422.8 402.0H434.3V407.3H422.8zM434.0 502.2H445.5V507.5H434.0zM445.2 396.9H456.7V402.3H445.2zM445.2 502.2H456.7V507.5H445.2zM456.4 497.2H468.0V502.5H456.4zM467.7 487.2H479.2V492.5H467.7zM478.9 386.9H490.4V392.2H478.9zM490.1 386.9H501.7V392.2H490.1zM501.4 467.1H512.9V472.4H501.4zM512.6 462.1H524.1V467.4H512.6zM523.8 462.1H535.4V467.4H523.8zM535.1 457.1H546.6V462.4H535.1zM557.5 371.9H569.0V377.2H557.5zM557.5 457.1H569.0V462.4H557.5zM568.7 371.9H580.3V377.2H568.7zM568.7 457.1H580.3V462.4H568.7zM580.0 457.1H591.5V462.4H580.0zM591.2 457.1H602.7V462.4H591.2z"/>
<path fill="#4cbc4c" d="M377.8 391.9H389.4V397.2H377.8zM411.5 402.0H423.1V407.3H411.5zM411.5 492.2H423.1V497.5H411.5zM422.8 492.2H434.3V497.5H422.8zM434.0 402.0H445.5V407.3H434.0zM445.2 402.0H456.7V407.3H445.2zM456.4 402.0H468.0V407.3H456.4zM456.4 492.2H468.0V497.5H456.4zM478.9 472.1H490.4V477.4H478.9zM512.6 376.9H524.1V382.2H512.6zM523.8 376.9H535.4V382.2H523.8zM546.3 457.1H557.8V462.4H546.3zM580.0 371.9H591.5V377.2H580.0zM591.2 371.9H602.7V377.2H591.2z"/>
<path fill="#4ebe4a" d="M368.0 477.1H378.1V482.5H368.0zM377.8 482.2H389.4V487.5H377.8zM400.3 396.9H411.8V402.3H400.3zM400.3 487.2H411.8V492.5H400.3zM422.8 407.0H434.3V412.3H422.8zM434.0 497.2H445.5V502.5H434.0zM445.2 497.2H456.7V502.5H445.2zM467.7 396.9H479.2V402.3H467.7zM467.7 482.2H479.2V487.5H467.7zM478.9 391.9H490.4V397.2H478.9zM490.1 467.1H501.7V472.4H490.1zM501.4 381.9H512.9V387.2H501.4zM523.8 457.1H535.4V462.4H523.8zM535.1 376.9H546.6V382.2H535.1zM546.3 376.9H557.8V382.2H546.3zM580.0 452.1H591.5V457.4H580.0zM602.4 452.1H608.5V457.4H602.4z"/>
<path fill="#50bf49" d="M368.0 391.9H378.1V397.2H368.0zM377.8 396.9H389.4V402.3H377.8zM389.1 396.9H400.6V402.3H389.1zM389.1 482.2H400.6V487.5H389.1zM411.5 487.2H423.1V492.5H411.5zM422.8 487.2H434.3V492.5H422.8zM434.0 407.0H445.5V412.3H434.0zM445.2 407.0H456.7V412.3H445.2zM456.4 407.0H468.0V412.3H456.4zM490.1 391.9H501.7V397.2H490.1zM501.4 462.1H512.9V467.4H501.4zM512.6 457.1H524.1V462.4H512.6zM557.5 376.9H569.0V382.2H557.5zM557.5 452.1H569.0V457.4H557.5zM591.2 452.1H602.7V457.4H591.2zM602.4 371.9H608.5V377.2H602.4z"/>
<path fill="#52c048" d="M368.0 472.1H378.1V477.4H368.0zM377.8 477.1H389.4V482.5H377.8zM400.3 482.2H411.8V487.5H400.3zM411.5 407.0H423.1V412.3H411.5zM434.0 492.2H445.5V497.5H434.0zM445.2 492.2H456.7V497.5H445.2zM456.4 487.2H468.0V492.5H456.4zM535.1 452.1H546.6V457.4H535.1zM546.3 452.1H557.8V457.4H546.3zM568.7 376.9H580.3V382.2H568.7zM568.7 452.1H580.3V457.4H568.7z"/>
<path fill="#5dc34b" d="M389.1 402.0H400.6V407.3H389.1zM389.1 477.1H400.6V482.5H389.1zM400.3 402.0H411.8V407.3H400.3zM422.8 412.0H434.3V417.3H422.8zM467.7 402.0H479.2V407.3H467.7zM467.7 477.1H479.2V482.5H467.7zM478.9 467.1H490.4V472.4H478.9zM490.1 462.1H501.7V467.4H490.1zM512.6 381.9H524.1V387.2H512.6zM523.8 381.9H535.4V387.2H523.8zM535.1 381.9H546.6V387.2H535.1zM580.0 376.9H591.5V382.2H580.0zM591.2 376.9H602.7V382.2H591.2zM602.4 447.1H608.5V452.4H602.4z"/>
<path fill="#68c64e" d="M368.0 396.9H378.1V402.3H368.0zM411.5 482.2H423.1V487.5H411.5zM422.8 482.2H434.3V487.5H422.8zM434.0 412.0H445.5V417.3H434.0zM434.0 487.2H445.5V492.5H434.0zM445.2 412.0H456.7V417.3H445.2zM445.2 487.2H456.7V492.5H445.2zM456.4 412.0H468.0V417.3H456.4zM456.4 482.2H468.0V487.5H456.4zM478.9 396.9H490.4V402.3H478.9zM501.4 386.9H512.9V392.2H501.4zM512.6 452.1H524.1V457.4H512.6zM523.8 452.1H535.4V457.4H523.8zM580.0 447.1H591.5V452.4H580.0zM602.4 376.9H608.5V382.2H602.4z"/>
<path fill="#72ca52" d="M377.8 402.0H389.4V407.3H377.8zM377.8 472.1H389.4V477.4H377.8zM400.3 477.1H411.8V482.5H400.3zM411.5 412.0H423.1V417.3H411.5zM490.1 396.9H501.7V402.3H490.1zM501.4 457.1H512.9V462.4H501.4zM546.3 381.9H557.8V387.2H546.3zM557.5 381.9H569.0V387.2H557.5zM591.2 447.1H602.7V452.4H591.2z"/>
<path fill="#7dcd55" d="M368.0 467.1H378.1V472.4H368.0zM389.1 472.1H400.6V477.4H389.1zM422.8 417.0H434.3V422.3H422.8zM445.2 417.0H456.7V422.3H445.2zM478.9 462.1H490.4V467.4H478.9zM535.1 447.1H546.6V452.4H535.1zM546.3 447.1H557.8V452.4H546.3zM557.5 447.1H569.0V452.4H557.5zM568.7 381.9H580.3V387.2H568.7zM568.7 447.1H580.3V452.4H568.7z"/>
<path fill="#88d058" d="M400.3 407.0H411.8V412.3H400.3zM411.5 477.1H423.1V482.5H411.5zM434.0 417.0H445.5V422.3H434.0zM445.2 482.2H456.7V487.5H445.2zM456.4 477.1H468.0V482.5H456.4zM467.7 472.1H479.2V477.4H467.7zM490.1 457.1H501.7V462.4H490.1zM512.6 386.9H524.1V392.2H512.6zM580.0 381.9H591.5V387.2H580.0z"/>
<path fill="#93d35d" d="M389.1 407.0H400.6V412.3H389.1zM400.3 472.1H411.8V477.4H400.3zM422.8 477.1H434.3V482.5H422.8zM434.0 482.2H445.5V487.5H434.0zM456.4 417.0H468.0V422.3H456.4zM467.7 407.0H479.2V412.3H467.7zM523.8 386.9H535.4V392.2H523.8zM523.8 447.1H535.4V452.4H523.8zM591.2 381.9H602.7V387.2H591.2z"/>
<path fill="#9ed662" d="M368.0 402.0H378.1V407.3H368.0zM377.8 467.1H389.4V472.4H377.8zM434.0 422.0H445.5V427.3H434.0zM445.2 477.1H456.7V482.5H445.2zM478.9 402.0H490.4V407.3H478.9zM501.4 391.9H512.9V397.2H501.4zM501.4 452.1H512.9V457.4H501.4zM512.6 447.1H524.1V452.4H512.6zM535.1 386.9H546.6V392.2H535.1zM580.0 442.1H591.5V447.4H580.0zM591.2 442.1H602.7V447.4H591.2zM602.4 442.1H608.5V447.4H602.4z"/>
<path fill="#a9da66" d="M368.0 462.1H378.1V467.4H368.0zM377.8 407.0H389.4V412.3H377.8zM389.1 467.1H400.6V472.4H389.1zM411.5 417.0H423.1V422.3H411.5zM411.5 472.1H423.1V477.4H411.5zM434.0 477.1H445.5V482.5H434.0zM445.2 422.0H456.7V427.3H445.2zM467.7 467.1H479.2V472.4H467.7zM546.3 386.9H557.8V392.2H546.3zM602.4 381.9H608.5V387.2H602.4z"/>
<path fill="#b4dd6b" d="M422.8 422.0H434.3V427.3H422.8zM422.8 472.1H434.3V477.4H422.8zM456.4 472.1H468.0V477.4H456.4zM557.5 386.9H569.0V392.2H557.5zM557.5 442.1H569.0V447.4H557.5z"/>
<path fill="#bfe070" d="M400.3 412.0H411.8V417.3H400.3zM400.3 467.1H411.8V472.4H400.3zM478.9 457.1H490.4V462.4H478.9zM535.1 442.1H546.6V447.4H535.1zM568.7 442.1H580.3V447.4H568.7z"/>
<path fill="#c7e376" d="M434.0 427.0H445.5V432.3H434.0zM445.2 472.1H456.7V477.4H445.2zM456.4 422.0H468.0V427.3H456.4zM467.7 412.0H479.2V417.3H467.7zM490.1 402.0H501.7V407.3H490.1zM490.1 452.1H501.7V457.4H490.1zM546.3 442.1H557.8V447.4H546.3zM568.7 386.9H580.3V392.2H568.7z"/>
<path fill="#cfe67b" d="M377.8 462.1H389.4V467.4H377.8zM389.1 412.0H400.6V417.3H389.1zM389.1 462.1H400.6V467.4H389.1zM411.5 467.1H423.1V472.4H411.5zM434.0 472.1H445.5V477.4H434.0zM445.2 427.0H456.7V432.3H445.2zM456.4 467.1H468.0V472.4H456.4zM512.6 391.9H524.1V397.2H512.6zM580.0 386.9H591.5V392.2H580.0zM602.4 437.1H608.5V442.4H602.4z"/>
<path fill="#d6e881" d="M368.0 407.0H378.1V412.3H368.0zM411.5 422.0H423.1V427.3H411.5zM467.7 462.1H479.2V467.4H467.7zM478.9 407.0H490.4V412.3H478.9zM501.4 447.1H512.9V452.4H501.4zM523.8 391.9H535.4V397.2H523.8zM523.8 442.1H535.4V447.4H523.8z"/>
<path fill="#deeb86" d="M368.0 457.1H378.1V462.4H368.0zM377.8 412.0H389.4V417.3H377.8zM422.8 467.1H434.3V472.4H422.8zM445.2 467.1H456.7V472.4H445.2zM580.0 437.1H591.5V442.4H580.0zM591.2 386.9H602.7V392.2H591.2z"/>
<path fill="#e6ee8c" d="M400.3 462.1H411.8V467.4H400.3zM422.8 427.0H434.3V432.3H422.8zM434.0 432.0H445.5V437.4H434.0zM434.0 467.1H445.5V472.4H434.0zM445.2 432.0H456.7V437.4H445.2zM501.4 396.9H512.9V402.3H501.4zM512.6 442.1H524.1V447.4H512.6zM535.1 391.9H546.6V397.2H535.1zM591.2 437.1H602.7V442.4H591.2z"/>
<path fill="#ebee90" d="M400.3 417.0H411.8V422.3H400.3zM411.5 462.1H423.1V467.4H411.5zM456.4 427.0H468.0V432.3H456.4zM478.9 452.1H490.4V457.4H478.9zM602.4 386.9H608.5V392.2H602.4z"/>
<path fill="#efef94" d="M377.8 457.1H389.4V462.4H377.8zM445.2 462.1H456.7V467.4H445.2zM456.4 462.1H468.0V467.4H456.4zM535.1 437.1H546.6V442.4H535.1zM546.3 391.9H557.8V397.2H546.3zM557.5 437.1H569.0V442.4H557.5zM568.7 437.1H580.3V442.4H568.7z"/>
<path fill="#f4ef98" d="M389.1 457.1H400.6V462.4H389.1zM411.5 427.0H423.1V432.3H411.5zM422.8 462.1H434.3V467.4H422.8zM434.0 437.1H445.5V442.4H434.0zM434.0 462.1H445.5V467.4H434.0zM445.2 437.1H456.7V442.4H445.2zM467.7 417.0H479.2V422.3H467.7zM490.1 447.1H501.7V452.4H490.1zM546.3 437.1H557.8V442.4H546.3zM557.5 391.9H569.0V397.2H557.5z"/>
<path fill="#f8f09c" d="M389.1 417.0H400.6V422.3H389.1zM400.3 457.1H411.8V462.4H400.3zM422.8 432.0H434.3V437.4H422.8zM467.7 457.1H479.2V462.4H467.7z"/>
<path fill="#fdf0a0" d="M368.0 412.0H378.1V417.3H368.0zM368.0 452.1H378.1V457.4H368.0zM411.5 457.1H423.1V462.4H411.5zM434.0 442.1H445.5V447.4H434.0zM434.0 457.1H445.5V462.4H434.0zM445.2 442.1H456.7V447.4H445.2zM445.2 457.1H456.7V462.4H445.2zM490.1 407.0H501.7V412.3H490.1zM568.7 391.9H580.3V397.2H568.7z"/>
<path fill="#faea9b" d="M434.0 447.1H445.5V457.4H434.0zM445.2 447.1H456.7V457.4H445.2zM456.4 432.0H468.0V437.4H456.4zM456.4 457.1H468.0V462.4H456.4zM501.4 442.1H512.9V447.4H501.4z"/>
<path fill="#f6e396" d="M377.8 417.0H389.4V422.3H377.8zM422.8 457.1H434.3V462.4H422.8zM478.9 412.0H490.4V417.3H478.9zM512.6 396.9H524.1V402.3H512.6zM523.8 437.1H535.4V442.4H523.8zM580.0 391.9H591.5V397.2H580.0zM602.4 432.0H608.5V437.4H602.4z"/>
<path fill="#f3dd92" d="M377.8 452.1H389.4V457.4H377.8zM512.6 437.1H524.1V442.4H512.6zM523.8 396.9H535.4V402.3H523.8zM580.0 432.0H591.5V437.4H580.0z"/>
<path fill="#efd68d" d="M389.1 452.1H400.6V457.4H389.1zM400.3 422.0H411.8V427.3H400.3zM411.5 432.0H423.1V437.4H411.5zM411.5 452.1H423.1V457.4H411.5zM422.8 437.1H434.3V442.4H422.8zM456.4 452.1H468.0V457.4H456.4zM591.2 391.9H602.7V397.2H591.2zM591.2 432.0H602.7V437.4H591.2z"/>
<path fill="#ecd088" d="M368.0 447.1H378.1V452.4H368.0zM400.3 452.1H411.8V457.4H400.3zM422.8 452.1H434.3V457.4H422.8zM467.7 422.0H479.2V427.3H467.7zM467.7 452.1H479.2V457.4H467.7zM478.9 447.1H490.4V452.4H478.9z"/>
<path fill="#e5c682" d="M456.4 437.1H468.0V442.4H456.4zM490.1 442.1H501.7V447.4H490.1zM501.4 402.0H512.9V407.3H501.4zM535.1 396.9H546.6V402.3H535.1z"/>
<path fill="#debd7b" d="M389.1 422.0H400.6V427.3H389.1zM411.5 447.1H423.1V452.4H411.5zM422.8 447.1H434.3V452.4H422.8zM456.4 442.1H468.0V452.4H456.4zM557.5 432.0H569.0V437.4H557.5zM568.7 432.0H580.3V437.4H568.7zM602.4 391.9H608.5V397.2H602.4z"/>
<path fill="#d6b375" d="M411.5 437.1H423.1V447.4H411.5zM422.8 442.1H434.3V447.4H422.8zM535.1 432.0H546.6V437.4H535.1zM546.3 396.9H557.8V402.3H546.3z"/>
<path fill="#cfaa6e" d="M368.0 417.0H378.1V422.3H368.0zM377.8 447.1H389.4V452.4H377.8zM389.1 447.1H400.6V452.4H389.1zM400.3 427.0H411.8V432.3H400.3z"/>
<path fill="#c8a068" d="M400.3 447.1H411.8V452.4H400.3zM546.3 432.0H557.8V437.4H546.3zM557.5 396.9H569.0V402.3H557.5z"/>
<path fill="#c29663" d="M377.8 422.0H389.4V427.3H377.8zM467.7 447.1H479.2V452.4H467.7zM501.4 437.1H512.9V442.4H501.4z"/>
<path fill="#bb8d5e" d="M467.7 427.0H479.2V432.3H467.7zM568.7 396.9H580.3V402.3H568.7z"/>
<path fill="#b5835a" d="M368.0 442.1H378.1V447.4H368.0zM478.9 417.0H490.4V422.3H478.9zM490.1 412.0H501.7V417.3H490.1zM523.8 432.0H535.4V437.4H523.8z"/>
<path fill="#ae7a55" d="M389.1 427.0H400.6V432.3H389.1zM400.3 432.0H411.8V437.4H400.3zM400.3 442.1H411.8V447.4H400.3zM478.9 442.1H490.4V447.4H478.9zM512.6 402.0H524.1V407.3H512.6zM602.4 427.0H608.5V432.3H602.4z"/>
<path fill="#a87050" d="M377.8 442.1H389.4V447.4H377.8zM389.1 442.1H400.6V447.4H389.1zM400.3 437.1H411.8V442.4H400.3zM512.6 432.0H524.1V437.4H512.6zM580.0 396.9H591.5V402.3H580.0z"/>
<path fill="#a2694c" d="M368.0 422.0H378.1V427.3H368.0zM467.7 442.1H479.2V447.4H467.7zM580.0 427.0H591.5V432.3H580.0zM591.2 427.0H602.7V432.3H591.2z"/>
<path fill="#9c6248" d="M377.8 427.0H389.4V432.3H377.8zM467.7 432.0H479.2V437.4H467.7zM490.1 437.1H501.7V442.4H490.1zM523.8 402.0H535.4V407.3H523.8zM591.2 396.9H602.7V402.3H591.2z"/>
<path fill="#965a44" d="M368.0 437.1H378.1V442.4H368.0zM389.1 432.0H400.6V442.4H389.1z"/>
<path fill="#905340" d="M377.8 437.1H389.4V442.4H377.8zM467.7 437.1H479.2V442.4H467.7zM501.4 407.0H512.9V412.3H501.4z"/>
<path fill="#8a4c3c" d="M377.8 432.0H389.4V437.4H377.8zM557.5 427.0H569.0V432.3H557.5zM568.7 427.0H580.3V432.3H568.7z"/>
<path fill="#8d5040" d="M535.1 402.0H546.6V407.3H535.1zM602.4 396.9H608.5V402.3H602.4z"/>
<path fill="#905545" d="M368.0 427.0H378.1V437.4H368.0zM535.1 427.0H546.6V432.3H535.1z"/>
<path fill="#935949" d="M478.9 422.0H490.4V427.3H478.9zM501.4 432.0H512.9V437.4H501.4zM546.3 402.0H557.8V407.3H546.3zM546.3 427.0H557.8V432.3H546.3z"/>
<path fill="#965e4e" d="M478.9 437.1H490.4V442.4H478.9z"/>
<path fill="#9c6656" d="M490.1 417.0H501.7V422.3H490.1zM523.8 427.0H535.4V432.3H523.8zM557.5 402.0H569.0V407.3H557.5z"/>
<path fill="#9f6b5b" d="M490.1 432.0H501.7V437.4H490.1z"/>
<path fill="#a26f5f" d="M512.6 427.0H524.1V432.3H512.6zM568.7 402.0H580.3V407.3H568.7z"/>
<path fill="#a57464" d="M478.9 427.0H490.4V432.3H478.9zM602.4 422.0H608.5V427.3H602.4z"/>
<path fill="#a87868" d="M478.9 432.0H490.4V437.4H478.9zM512.6 407.0H524.1V412.3H512.6z"/>
<path fill="#ab7d6e" d="M580.0 402.0H591.5V407.3H580.0zM580.0 422.0H591.5V427.3H580.0zM591.2 422.0H602.7V427.3H591.2z"/>
<path fill="#b08679" d="M523.8 407.0H535.4V412.3H523.8z"/>
<path fill="#b38b7e" d="M501.4 412.0H512.9V417.3H501.4zM568.7 422.0H580.3V427.3H568.7zM591.2 402.0H602.7V407.3H591.2z"/>
<path fill="#b69084" d="M490.1 422.0H501.7V432.3H490.1zM501.4 427.0H512.9V432.3H501.4zM557.5 422.0H569.0V427.3H557.5z"/>
<path fill="#b9958a" d="M535.1 422.0H546.6V427.3H535.1z"/>
<path fill="#bc9a8f" d="M535.1 407.0H546.6V412.3H535.1zM546.3 422.0H557.8V427.3H546.3z"/>
<path fill="#be9e95" d="M602.4 402.0H608.5V407.3H602.4z"/>
<path fill="#c1a39a" d="M523.8 422.0H535.4V427.3H523.8zM546.3 407.0H557.8V412.3H546.3z"/>
<path fill="#c4a8a0" d="M557.5 407.0H569.0V412.3H557.5z"/>
<path fill="#c7aca5" d="M512.6 422.0H524.1V427.3H512.6z"/>
<path fill="#cdb5ae" d="M501.4 417.0H512.9V427.3H501.4zM512.6 412.0H524.1V417.3H512.6z"/>
<path fill="#d0bab3" d="M568.7 407.0H580.3V412.3H568.7zM602.4 417.0H608.5V422.3H602.4z"/>
<path fill="#d3beb8" d="M523.8 412.0H535.4V417.3H523.8z"/>
<path fill="#d6c2bd" d="M568.7 417.0H580.3V422.3H568.7zM580.0 407.0H591.5V412.3H580.0zM580.0 417.0H591.5V422.3H580.0zM591.2 417.0H602.7V422.3H591.2z"/>
<path fill="#d9c7c2" d="M512.6 417.0H524.1V422.3H512.6zM535.1 417.0H546.6V422.3H535.1zM557.5 417.0H569.0V422.3H557.5z"/>
<path fill="#dccbc6" d="M523.8 417.0H535.4V422.3H523.8zM535.1 412.0H546.6V417.3H535.1zM546.3 417.0H557.8V422.3H546.3zM591.2 407.0H602.7V412.3H591.2z"/>
<path fill="#e2d4d0" d="M546.3 412.0H557.8V417.3H546.3zM557.5 412.0H569.0V417.3H557.5z"/>
<path fill="#e5d8d5" d="M568.7 412.0H580.3V417.3H568.7zM602.4 407.0H608.5V412.3H602.4z"/>
<path fill="#e8ddd9" d="M580.0 412.0H591.5V417.3H580.0z"/>
<path fill="#ebe1de" d="M591.2 412.0H602.7V417.3H591.2z"/>
<path fill="#eee5e3" d="M602.4 412.0H608.5V417.3H602.4z"/>
</g>
<rect x="368" y="336.8" width="240.20000000000005" height="240.59999999999997" fill="none" stroke="#000" stroke-width="1.5"/>
<line x1="383.45" y1="577.40" x2="383.45" y2="572.90" stroke="#0a1a40" stroke-width="1.3" />
<line x1="383.45" y1="336.80" x2="383.45" y2="341.30" stroke="#0a1a40" stroke-width="1.3" />
<line x1="439.60" y1="577.40" x2="439.60" y2="572.90" stroke="#0a1a40" stroke-width="1.3" />
<line x1="439.60" y1="336.80" x2="439.60" y2="341.30" stroke="#0a1a40" stroke-width="1.3" />
<line x1="495.75" y1="577.40" x2="495.75" y2="572.90" stroke="#0a1a40" stroke-width="1.3" />
<line x1="495.75" y1="336.80" x2="495.75" y2="341.30" stroke="#0a1a40" stroke-width="1.3" />
<line x1="551.90" y1="577.40" x2="551.90" y2="572.90" stroke="#0a1a40" stroke-width="1.3" />
<line x1="551.90" y1="336.80" x2="551.90" y2="341.30" stroke="#0a1a40" stroke-width="1.3" />
<line x1="368.00" y1="543.03" x2="372.50" y2="543.03" stroke="#0a1a40" stroke-width="1.3" />
<line x1="608.20" y1="543.03" x2="603.70" y2="543.03" stroke="#0a1a40" stroke-width="1.3" />
<line x1="368.00" y1="508.66" x2="372.50" y2="508.66" stroke="#0a1a40" stroke-width="1.3" />
<line x1="608.20" y1="508.66" x2="603.70" y2="508.66" stroke="#0a1a40" stroke-width="1.3" />
<line x1="368.00" y1="474.29" x2="372.50" y2="474.29" stroke="#0a1a40" stroke-width="1.3" />
<line x1="608.20" y1="474.29" x2="603.70" y2="474.29" stroke="#0a1a40" stroke-width="1.3" />
<line x1="368.00" y1="439.91" x2="372.50" y2="439.91" stroke="#0a1a40" stroke-width="1.3" />
<line x1="608.20" y1="439.91" x2="603.70" y2="439.91" stroke="#0a1a40" stroke-width="1.3" />
<line x1="368.00" y1="405.54" x2="372.50" y2="405.54" stroke="#0a1a40" stroke-width="1.3" />
<line x1="608.20" y1="405.54" x2="603.70" y2="405.54" stroke="#0a1a40" stroke-width="1.3" />
<line x1="368.00" y1="371.17" x2="372.50" y2="371.17" stroke="#0a1a40" stroke-width="1.3" />
<line x1="608.20" y1="371.17" x2="603.70" y2="371.17" stroke="#0a1a40" stroke-width="1.3" />
<text x="383.5" y="594.5" font-size="14" text-anchor="middle" >-0.5</text>
<text x="439.6" y="594.5" font-size="14" text-anchor="middle" >0.0</text>
<text x="495.8" y="594.5" font-size="14" text-anchor="middle" >0.5</text>
<text x="551.9" y="594.5" font-size="14" text-anchor="middle" >1.0</text>
<text x="608.0" y="594.5" font-size="14" text-anchor="middle" >1.5</text>
<text x="364.5" y="582.2" font-size="14" text-anchor="end" >1550</text>
<text x="364.5" y="547.8" font-size="14" text-anchor="end" >1560</text>
<text x="364.5" y="513.5" font-size="14" text-anchor="end" >1570</text>
<text x="364.5" y="479.1" font-size="14" text-anchor="end" >1580</text>
<text x="364.5" y="444.7" font-size="14" text-anchor="end" >1590</text>
<text x="364.5" y="410.3" font-size="14" text-anchor="end" >1600</text>
<text x="364.5" y="376.0" font-size="14" text-anchor="end" >1610</text>
<text x="364.5" y="341.6" font-size="14" text-anchor="end" >1620</text>
<text x="307.5" y="326.2" font-size="20.5" text-anchor="start" >(d)</text>
<text x="487.2" y="615.0" font-size="15" text-anchor="middle" >Gate Voltage (Volt)</text>
<text transform="translate(325.3,522.4) rotate(-90)" font-size="15.5" text-anchor="start">Wavenumber (cm<tspan dy="-11.5" font-size="9.5">-1</tspan><tspan dy="11.5" dx="-2.7">)</tspan></text>
<defs><linearGradient id="cb" gradientUnits="userSpaceOnUse" x1="0" y1="572" x2="0" y2="405.3"><stop offset="0.000" stop-color="#4b369d"/><stop offset="0.020" stop-color="#4340a8"/><stop offset="0.050" stop-color="#3f5cb8"/><stop offset="0.090" stop-color="#5590d0"/><stop offset="0.112" stop-color="#52a4d8"/><stop offset="0.124" stop-color="#38c0c0"/><stop offset="0.135" stop-color="#44b850"/><stop offset="0.200" stop-color="#52c048"/><stop offset="0.250" stop-color="#88d058"/><stop offset="0.300" stop-color="#bfe070"/><stop offset="0.350" stop-color="#e6ee8c"/><stop offset="0.400" stop-color="#fdf0a0"/><stop offset="0.450" stop-color="#ecd088"/><stop offset="0.500" stop-color="#c8a068"/><stop offset="0.550" stop-color="#a87050"/><stop offset="0.600" stop-color="#8a4c3c"/><stop offset="0.700" stop-color="#a87868"/><stop offset="0.800" stop-color="#c4a8a0"/><stop offset="0.900" stop-color="#e2d4d0"/><stop offset="1.000" stop-color="#ffffff"/></linearGradient></defs>
<rect x="613.8" y="403.2" width="19" height="171.2" fill="url(#cb)"/>
<rect x="613.8" y="403.2" width="19" height="171.2" fill="none" stroke="#111" stroke-width="1.3"/>
<line x1="632.80" y1="572.00" x2="642.00" y2="572.00" stroke="#111" stroke-width="1.2" />
<text x="648.0" y="576.8" font-size="14" text-anchor="start" >0.0</text>
<line x1="632.80" y1="538.66" x2="642.00" y2="538.66" stroke="#111" stroke-width="1.2" />
<text x="648.0" y="543.5" font-size="14" text-anchor="start" >0.2</text>
<line x1="632.80" y1="505.32" x2="642.00" y2="505.32" stroke="#111" stroke-width="1.2" />
<text x="648.0" y="510.1" font-size="14" text-anchor="start" >0.4</text>
<line x1="632.80" y1="471.98" x2="642.00" y2="471.98" stroke="#111" stroke-width="1.2" />
<text x="648.0" y="476.8" font-size="14" text-anchor="start" >0.6</text>
<line x1="632.80" y1="438.64" x2="642.00" y2="438.64" stroke="#111" stroke-width="1.2" />
<text x="648.0" y="443.4" font-size="14" text-anchor="start" >0.8</text>
<line x1="632.80" y1="405.30" x2="642.00" y2="405.30" stroke="#111" stroke-width="1.2" />
<text x="648.0" y="410.1" font-size="14" text-anchor="start" >1.0</text>
<text x="632.8" y="375.4" font-size="14.8" text-anchor="start" >I</text>
<text x="637.0" y="380.4" font-size="9.8" text-anchor="start" >G</text>
<text x="637.5" y="394.0" font-size="14.8" text-anchor="middle" >(a.u.)</text>
</svg>
</body></html>
